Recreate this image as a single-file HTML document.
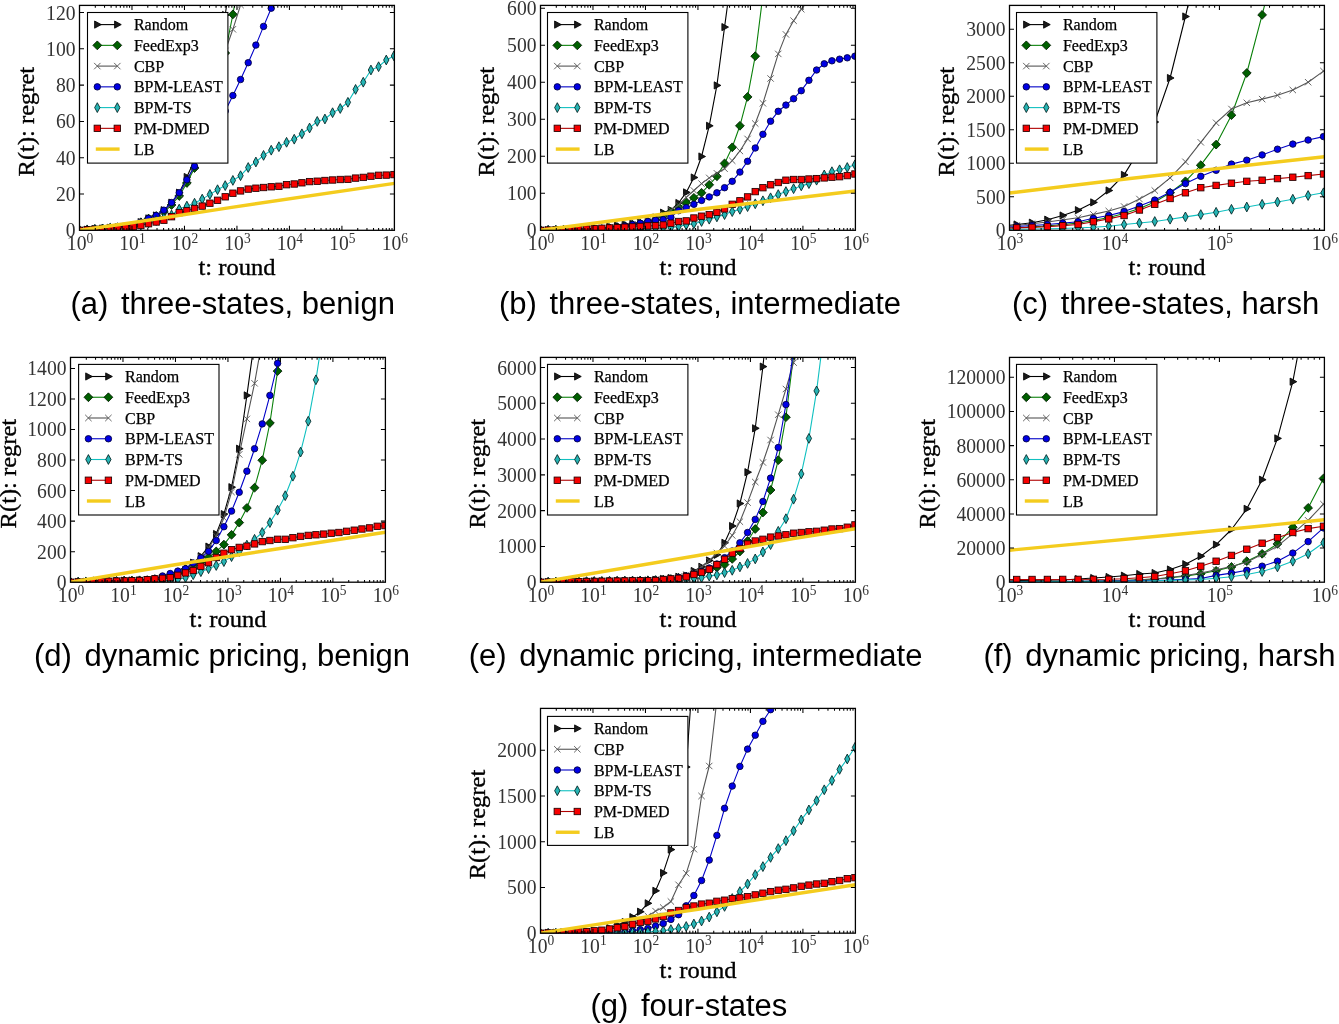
<!DOCTYPE html>
<html><head><meta charset="utf-8"><style>
svg text{-webkit-font-smoothing:antialiased}
html,body{margin:0;padding:0;background:#fff;width:1339px;height:1024px;overflow:hidden;position:relative}
</style></head><body>
<svg width="1339" height="1024" viewBox="0 0 1339 1024" style="position:absolute;left:0;top:0;will-change:transform">
<defs>
<clipPath id="clipa"><rect x="79.5" y="5.4" width="314.9" height="224.9"/></clipPath>
<clipPath id="clipb"><rect x="540.5" y="5.4" width="314.9" height="224.9"/></clipPath>
<clipPath id="clipc"><rect x="1009.5" y="5.4" width="314.9" height="224.9"/></clipPath>
<clipPath id="clipd"><rect x="70.5" y="357.4" width="314.9" height="224.8"/></clipPath>
<clipPath id="clipe"><rect x="540.5" y="357.4" width="314.9" height="224.8"/></clipPath>
<clipPath id="clipf"><rect x="1009.5" y="357.4" width="314.9" height="224.8"/></clipPath>
<clipPath id="clipg"><rect x="540.5" y="708.4" width="314.9" height="224.75"/></clipPath>
</defs>
<g clip-path="url(#clipa)">
<path d="M79.5,230.3L133.18,226L148.52,218.4L156.19,215.5L163.86,210.2L171.53,202.6L179.2,192.7L186.87,177L194.54,160L202.21,135L209.88,100L217.55,60L225.22,15L232.89,-40" fill="none" stroke="#000000" stroke-width="1.1" stroke-linejoin="round"/>
<path d="M76.8,226.7L83.46,230.3L76.8,233.9Z" fill="#1a1a1a" stroke="#000000" stroke-width="0.85"/>
<path d="M84.47,226.09L91.13,229.69L84.47,233.29Z" fill="#1a1a1a" stroke="#000000" stroke-width="0.85"/>
<path d="M92.14,225.47L98.8,229.07L92.14,232.67Z" fill="#1a1a1a" stroke="#000000" stroke-width="0.85"/>
<path d="M99.81,224.86L106.47,228.46L99.81,232.06Z" fill="#1a1a1a" stroke="#000000" stroke-width="0.85"/>
<path d="M107.48,224.24L114.14,227.84L107.48,231.44Z" fill="#1a1a1a" stroke="#000000" stroke-width="0.85"/>
<path d="M115.15,223.63L121.81,227.23L115.15,230.83Z" fill="#1a1a1a" stroke="#000000" stroke-width="0.85"/>
<path d="M122.82,223.01L129.48,226.61L122.82,230.21Z" fill="#1a1a1a" stroke="#000000" stroke-width="0.85"/>
<path d="M130.48,222.4L137.14,226L130.48,229.6Z" fill="#1a1a1a" stroke="#000000" stroke-width="0.85"/>
<path d="M138.15,218.6L144.81,222.2L138.15,225.8Z" fill="#1a1a1a" stroke="#000000" stroke-width="0.85"/>
<path d="M145.82,214.8L152.48,218.4L145.82,222Z" fill="#1a1a1a" stroke="#000000" stroke-width="0.85"/>
<path d="M153.49,211.9L160.15,215.5L153.49,219.1Z" fill="#1a1a1a" stroke="#000000" stroke-width="0.85"/>
<path d="M161.16,206.6L167.82,210.2L161.16,213.8Z" fill="#1a1a1a" stroke="#000000" stroke-width="0.85"/>
<path d="M168.83,199L175.49,202.6L168.83,206.2Z" fill="#1a1a1a" stroke="#000000" stroke-width="0.85"/>
<path d="M176.5,189.1L183.16,192.7L176.5,196.3Z" fill="#1a1a1a" stroke="#000000" stroke-width="0.85"/>
<path d="M184.17,173.4L190.83,177L184.17,180.6Z" fill="#1a1a1a" stroke="#000000" stroke-width="0.85"/>
<path d="M191.84,156.4L198.5,160L191.84,163.6Z" fill="#1a1a1a" stroke="#000000" stroke-width="0.85"/>
<path d="M199.51,131.4L206.17,135L199.51,138.6Z" fill="#1a1a1a" stroke="#000000" stroke-width="0.85"/>
<path d="M207.18,96.4L213.84,100L207.18,103.6Z" fill="#1a1a1a" stroke="#000000" stroke-width="0.85"/>
<path d="M214.85,56.4L221.51,60L214.85,63.6Z" fill="#1a1a1a" stroke="#000000" stroke-width="0.85"/>
<path d="M222.52,11.4L229.18,15L222.52,18.6Z" fill="#1a1a1a" stroke="#000000" stroke-width="0.85"/>
<path d="M79.5,230.3L133.18,226L148.52,218.5L156.19,216L163.86,212L171.53,205L179.2,196L186.87,183L194.54,168L202.21,148L209.88,122L217.55,92L225.22,53L232.89,14.4L240.55,-30" fill="none" stroke="#0a800a" stroke-width="1.1" stroke-linejoin="round"/>
<path d="M79.5,225.9L83.9,230.3L79.5,234.7L75.1,230.3Z" fill="#005f00" stroke="#001a00" stroke-width="0.85"/>
<path d="M87.17,225.29L91.57,229.69L87.17,234.09L82.77,229.69Z" fill="#005f00" stroke="#001a00" stroke-width="0.85"/>
<path d="M94.84,224.67L99.24,229.07L94.84,233.47L90.44,229.07Z" fill="#005f00" stroke="#001a00" stroke-width="0.85"/>
<path d="M102.51,224.06L106.91,228.46L102.51,232.86L98.11,228.46Z" fill="#005f00" stroke="#001a00" stroke-width="0.85"/>
<path d="M110.18,223.44L114.58,227.84L110.18,232.24L105.78,227.84Z" fill="#005f00" stroke="#001a00" stroke-width="0.85"/>
<path d="M117.85,222.83L122.25,227.23L117.85,231.63L113.45,227.23Z" fill="#005f00" stroke="#001a00" stroke-width="0.85"/>
<path d="M125.52,222.21L129.92,226.61L125.52,231.01L121.12,226.61Z" fill="#005f00" stroke="#001a00" stroke-width="0.85"/>
<path d="M133.18,221.6L137.58,226L133.18,230.4L128.78,226Z" fill="#005f00" stroke="#001a00" stroke-width="0.85"/>
<path d="M140.85,217.85L145.25,222.25L140.85,226.65L136.45,222.25Z" fill="#005f00" stroke="#001a00" stroke-width="0.85"/>
<path d="M148.52,214.1L152.92,218.5L148.52,222.9L144.12,218.5Z" fill="#005f00" stroke="#001a00" stroke-width="0.85"/>
<path d="M156.19,211.6L160.59,216L156.19,220.4L151.79,216Z" fill="#005f00" stroke="#001a00" stroke-width="0.85"/>
<path d="M163.86,207.6L168.26,212L163.86,216.4L159.46,212Z" fill="#005f00" stroke="#001a00" stroke-width="0.85"/>
<path d="M171.53,200.6L175.93,205L171.53,209.4L167.13,205Z" fill="#005f00" stroke="#001a00" stroke-width="0.85"/>
<path d="M179.2,191.6L183.6,196L179.2,200.4L174.8,196Z" fill="#005f00" stroke="#001a00" stroke-width="0.85"/>
<path d="M186.87,178.6L191.27,183L186.87,187.4L182.47,183Z" fill="#005f00" stroke="#001a00" stroke-width="0.85"/>
<path d="M194.54,163.6L198.94,168L194.54,172.4L190.14,168Z" fill="#005f00" stroke="#001a00" stroke-width="0.85"/>
<path d="M202.21,143.6L206.61,148L202.21,152.4L197.81,148Z" fill="#005f00" stroke="#001a00" stroke-width="0.85"/>
<path d="M209.88,117.6L214.28,122L209.88,126.4L205.48,122Z" fill="#005f00" stroke="#001a00" stroke-width="0.85"/>
<path d="M217.55,87.6L221.95,92L217.55,96.4L213.15,92Z" fill="#005f00" stroke="#001a00" stroke-width="0.85"/>
<path d="M225.22,48.6L229.62,53L225.22,57.4L220.82,53Z" fill="#005f00" stroke="#001a00" stroke-width="0.85"/>
<path d="M232.89,10L237.29,14.4L232.89,18.8L228.49,14.4Z" fill="#005f00" stroke="#001a00" stroke-width="0.85"/>
<path d="M79.5,230.3L133.18,226L148.52,218.5L156.19,216L163.86,211L171.53,204L179.2,194L186.87,181L194.54,165L202.21,142L209.88,114L217.55,85L225.22,51L232.89,29.3L240.55,5L248.22,-20" fill="none" stroke="#555555" stroke-width="1.1" stroke-linejoin="round"/>
<path d="M76.3,227.1L82.7,233.5M76.3,233.5L82.7,227.1" stroke="#555555" stroke-width="0.9" fill="none"/>
<path d="M83.97,226.49L90.37,232.89M83.97,232.89L90.37,226.49" stroke="#555555" stroke-width="0.9" fill="none"/>
<path d="M91.64,225.87L98.04,232.27M91.64,232.27L98.04,225.87" stroke="#555555" stroke-width="0.9" fill="none"/>
<path d="M99.31,225.26L105.71,231.66M99.31,231.66L105.71,225.26" stroke="#555555" stroke-width="0.9" fill="none"/>
<path d="M106.98,224.64L113.38,231.04M106.98,231.04L113.38,224.64" stroke="#555555" stroke-width="0.9" fill="none"/>
<path d="M114.65,224.03L121.05,230.43M114.65,230.43L121.05,224.03" stroke="#555555" stroke-width="0.9" fill="none"/>
<path d="M122.32,223.41L128.72,229.81M122.32,229.81L128.72,223.41" stroke="#555555" stroke-width="0.9" fill="none"/>
<path d="M129.98,222.8L136.38,229.2M129.98,229.2L136.38,222.8" stroke="#555555" stroke-width="0.9" fill="none"/>
<path d="M137.65,219.05L144.05,225.45M137.65,225.45L144.05,219.05" stroke="#555555" stroke-width="0.9" fill="none"/>
<path d="M145.32,215.3L151.72,221.7M145.32,221.7L151.72,215.3" stroke="#555555" stroke-width="0.9" fill="none"/>
<path d="M152.99,212.8L159.39,219.2M152.99,219.2L159.39,212.8" stroke="#555555" stroke-width="0.9" fill="none"/>
<path d="M160.66,207.8L167.06,214.2M160.66,214.2L167.06,207.8" stroke="#555555" stroke-width="0.9" fill="none"/>
<path d="M168.33,200.8L174.73,207.2M168.33,207.2L174.73,200.8" stroke="#555555" stroke-width="0.9" fill="none"/>
<path d="M176,190.8L182.4,197.2M176,197.2L182.4,190.8" stroke="#555555" stroke-width="0.9" fill="none"/>
<path d="M183.67,177.8L190.07,184.2M183.67,184.2L190.07,177.8" stroke="#555555" stroke-width="0.9" fill="none"/>
<path d="M191.34,161.8L197.74,168.2M191.34,168.2L197.74,161.8" stroke="#555555" stroke-width="0.9" fill="none"/>
<path d="M199.01,138.8L205.41,145.2M199.01,145.2L205.41,138.8" stroke="#555555" stroke-width="0.9" fill="none"/>
<path d="M206.68,110.8L213.08,117.2M206.68,117.2L213.08,110.8" stroke="#555555" stroke-width="0.9" fill="none"/>
<path d="M214.35,81.8L220.75,88.2M214.35,88.2L220.75,81.8" stroke="#555555" stroke-width="0.9" fill="none"/>
<path d="M222.02,47.8L228.42,54.2M222.02,54.2L228.42,47.8" stroke="#555555" stroke-width="0.9" fill="none"/>
<path d="M229.69,26.1L236.09,32.5M229.69,32.5L236.09,26.1" stroke="#555555" stroke-width="0.9" fill="none"/>
<path d="M237.35,1.8L243.75,8.2M237.35,8.2L243.75,1.8" stroke="#555555" stroke-width="0.9" fill="none"/>
<path d="M79.5,230.3L133.18,226L148.52,218.4L156.19,215.5L163.86,210.2L171.53,202.6L179.2,192.7L186.87,179.8L194.54,166.3L202.21,148L209.88,131L217.55,114L225.22,111L232.89,95.5L240.55,79.5L248.22,62.7L255.89,45.1L263.56,26.4L271.23,8.2L277,-12" fill="none" stroke="#0000c8" stroke-width="1.1" stroke-linejoin="round"/>
<circle cx="79.5" cy="230.3" r="3.25" fill="#0000e6" stroke="#00003a" stroke-width="0.85"/>
<circle cx="87.17" cy="229.69" r="3.25" fill="#0000e6" stroke="#00003a" stroke-width="0.85"/>
<circle cx="94.84" cy="229.07" r="3.25" fill="#0000e6" stroke="#00003a" stroke-width="0.85"/>
<circle cx="102.51" cy="228.46" r="3.25" fill="#0000e6" stroke="#00003a" stroke-width="0.85"/>
<circle cx="110.18" cy="227.84" r="3.25" fill="#0000e6" stroke="#00003a" stroke-width="0.85"/>
<circle cx="117.85" cy="227.23" r="3.25" fill="#0000e6" stroke="#00003a" stroke-width="0.85"/>
<circle cx="125.52" cy="226.61" r="3.25" fill="#0000e6" stroke="#00003a" stroke-width="0.85"/>
<circle cx="133.18" cy="226" r="3.25" fill="#0000e6" stroke="#00003a" stroke-width="0.85"/>
<circle cx="140.85" cy="222.2" r="3.25" fill="#0000e6" stroke="#00003a" stroke-width="0.85"/>
<circle cx="148.52" cy="218.4" r="3.25" fill="#0000e6" stroke="#00003a" stroke-width="0.85"/>
<circle cx="156.19" cy="215.5" r="3.25" fill="#0000e6" stroke="#00003a" stroke-width="0.85"/>
<circle cx="163.86" cy="210.2" r="3.25" fill="#0000e6" stroke="#00003a" stroke-width="0.85"/>
<circle cx="171.53" cy="202.6" r="3.25" fill="#0000e6" stroke="#00003a" stroke-width="0.85"/>
<circle cx="179.2" cy="192.7" r="3.25" fill="#0000e6" stroke="#00003a" stroke-width="0.85"/>
<circle cx="186.87" cy="179.8" r="3.25" fill="#0000e6" stroke="#00003a" stroke-width="0.85"/>
<circle cx="194.54" cy="166.3" r="3.25" fill="#0000e6" stroke="#00003a" stroke-width="0.85"/>
<circle cx="202.21" cy="148" r="3.25" fill="#0000e6" stroke="#00003a" stroke-width="0.85"/>
<circle cx="209.88" cy="131" r="3.25" fill="#0000e6" stroke="#00003a" stroke-width="0.85"/>
<circle cx="217.55" cy="114" r="3.25" fill="#0000e6" stroke="#00003a" stroke-width="0.85"/>
<circle cx="225.22" cy="111" r="3.25" fill="#0000e6" stroke="#00003a" stroke-width="0.85"/>
<circle cx="232.89" cy="95.5" r="3.25" fill="#0000e6" stroke="#00003a" stroke-width="0.85"/>
<circle cx="240.55" cy="79.5" r="3.25" fill="#0000e6" stroke="#00003a" stroke-width="0.85"/>
<circle cx="248.22" cy="62.7" r="3.25" fill="#0000e6" stroke="#00003a" stroke-width="0.85"/>
<circle cx="255.89" cy="45.1" r="3.25" fill="#0000e6" stroke="#00003a" stroke-width="0.85"/>
<circle cx="263.56" cy="26.4" r="3.25" fill="#0000e6" stroke="#00003a" stroke-width="0.85"/>
<circle cx="271.23" cy="8.2" r="3.25" fill="#0000e6" stroke="#00003a" stroke-width="0.85"/>
<path d="M79.5,230.3L133.18,227L148.52,223L163.86,218L171.53,215L179.2,209.1L186.87,206.1L194.54,203.2L202.21,199.1L209.88,194.4L217.55,189.7L225.22,185.6L232.89,180.4L240.55,175.7L248.22,167.5L255.89,162L263.56,155.4L271.23,150.2L278.9,146.7L286.57,142.3L294.24,139.2L301.91,133.8L309.58,128L317.25,121.4L324.92,119L332.59,112.7L340.26,108.5L347.92,102.3L355.59,89.4L363.26,82.2L370.93,70L378.6,66.7L386.27,60L393.94,55.9" fill="none" stroke="#10c0c0" stroke-width="1.1" stroke-linejoin="round"/>
<path d="M79.5,225.4L82.15,230.3L79.5,235.2L76.85,230.3Z" fill="#26b4b4" stroke="#002020" stroke-width="0.85"/>
<path d="M87.17,224.93L89.82,229.83L87.17,234.73L84.52,229.83Z" fill="#26b4b4" stroke="#002020" stroke-width="0.85"/>
<path d="M94.84,224.46L97.49,229.36L94.84,234.26L92.19,229.36Z" fill="#26b4b4" stroke="#002020" stroke-width="0.85"/>
<path d="M102.51,223.99L105.16,228.89L102.51,233.79L99.86,228.89Z" fill="#26b4b4" stroke="#002020" stroke-width="0.85"/>
<path d="M110.18,223.51L112.83,228.41L110.18,233.31L107.53,228.41Z" fill="#26b4b4" stroke="#002020" stroke-width="0.85"/>
<path d="M117.85,223.04L120.5,227.94L117.85,232.84L115.2,227.94Z" fill="#26b4b4" stroke="#002020" stroke-width="0.85"/>
<path d="M125.52,222.57L128.17,227.47L125.52,232.37L122.87,227.47Z" fill="#26b4b4" stroke="#002020" stroke-width="0.85"/>
<path d="M133.18,222.1L135.83,227L133.18,231.9L130.53,227Z" fill="#26b4b4" stroke="#002020" stroke-width="0.85"/>
<path d="M140.85,220.1L143.5,225L140.85,229.9L138.2,225Z" fill="#26b4b4" stroke="#002020" stroke-width="0.85"/>
<path d="M148.52,218.1L151.17,223L148.52,227.9L145.87,223Z" fill="#26b4b4" stroke="#002020" stroke-width="0.85"/>
<path d="M156.19,215.6L158.84,220.5L156.19,225.4L153.54,220.5Z" fill="#26b4b4" stroke="#002020" stroke-width="0.85"/>
<path d="M163.86,213.1L166.51,218L163.86,222.9L161.21,218Z" fill="#26b4b4" stroke="#002020" stroke-width="0.85"/>
<path d="M171.53,210.1L174.18,215L171.53,219.9L168.88,215Z" fill="#26b4b4" stroke="#002020" stroke-width="0.85"/>
<path d="M179.2,204.2L181.85,209.1L179.2,214L176.55,209.1Z" fill="#26b4b4" stroke="#002020" stroke-width="0.85"/>
<path d="M186.87,201.2L189.52,206.1L186.87,211L184.22,206.1Z" fill="#26b4b4" stroke="#002020" stroke-width="0.85"/>
<path d="M194.54,198.3L197.19,203.2L194.54,208.1L191.89,203.2Z" fill="#26b4b4" stroke="#002020" stroke-width="0.85"/>
<path d="M202.21,194.2L204.86,199.1L202.21,204L199.56,199.1Z" fill="#26b4b4" stroke="#002020" stroke-width="0.85"/>
<path d="M209.88,189.5L212.53,194.4L209.88,199.3L207.23,194.4Z" fill="#26b4b4" stroke="#002020" stroke-width="0.85"/>
<path d="M217.55,184.8L220.2,189.7L217.55,194.6L214.9,189.7Z" fill="#26b4b4" stroke="#002020" stroke-width="0.85"/>
<path d="M225.22,180.7L227.87,185.6L225.22,190.5L222.57,185.6Z" fill="#26b4b4" stroke="#002020" stroke-width="0.85"/>
<path d="M232.89,175.5L235.54,180.4L232.89,185.3L230.24,180.4Z" fill="#26b4b4" stroke="#002020" stroke-width="0.85"/>
<path d="M240.55,170.8L243.2,175.7L240.55,180.6L237.9,175.7Z" fill="#26b4b4" stroke="#002020" stroke-width="0.85"/>
<path d="M248.22,162.6L250.87,167.5L248.22,172.4L245.57,167.5Z" fill="#26b4b4" stroke="#002020" stroke-width="0.85"/>
<path d="M255.89,157.1L258.54,162L255.89,166.9L253.24,162Z" fill="#26b4b4" stroke="#002020" stroke-width="0.85"/>
<path d="M263.56,150.5L266.21,155.4L263.56,160.3L260.91,155.4Z" fill="#26b4b4" stroke="#002020" stroke-width="0.85"/>
<path d="M271.23,145.3L273.88,150.2L271.23,155.1L268.58,150.2Z" fill="#26b4b4" stroke="#002020" stroke-width="0.85"/>
<path d="M278.9,141.8L281.55,146.7L278.9,151.6L276.25,146.7Z" fill="#26b4b4" stroke="#002020" stroke-width="0.85"/>
<path d="M286.57,137.4L289.22,142.3L286.57,147.2L283.92,142.3Z" fill="#26b4b4" stroke="#002020" stroke-width="0.85"/>
<path d="M294.24,134.3L296.89,139.2L294.24,144.1L291.59,139.2Z" fill="#26b4b4" stroke="#002020" stroke-width="0.85"/>
<path d="M301.91,128.9L304.56,133.8L301.91,138.7L299.26,133.8Z" fill="#26b4b4" stroke="#002020" stroke-width="0.85"/>
<path d="M309.58,123.1L312.23,128L309.58,132.9L306.93,128Z" fill="#26b4b4" stroke="#002020" stroke-width="0.85"/>
<path d="M317.25,116.5L319.9,121.4L317.25,126.3L314.6,121.4Z" fill="#26b4b4" stroke="#002020" stroke-width="0.85"/>
<path d="M324.92,114.1L327.57,119L324.92,123.9L322.27,119Z" fill="#26b4b4" stroke="#002020" stroke-width="0.85"/>
<path d="M332.59,107.8L335.24,112.7L332.59,117.6L329.94,112.7Z" fill="#26b4b4" stroke="#002020" stroke-width="0.85"/>
<path d="M340.26,103.6L342.91,108.5L340.26,113.4L337.61,108.5Z" fill="#26b4b4" stroke="#002020" stroke-width="0.85"/>
<path d="M347.92,97.4L350.57,102.3L347.92,107.2L345.27,102.3Z" fill="#26b4b4" stroke="#002020" stroke-width="0.85"/>
<path d="M355.59,84.5L358.24,89.4L355.59,94.3L352.94,89.4Z" fill="#26b4b4" stroke="#002020" stroke-width="0.85"/>
<path d="M363.26,77.3L365.91,82.2L363.26,87.1L360.61,82.2Z" fill="#26b4b4" stroke="#002020" stroke-width="0.85"/>
<path d="M370.93,65.1L373.58,70L370.93,74.9L368.28,70Z" fill="#26b4b4" stroke="#002020" stroke-width="0.85"/>
<path d="M378.6,61.8L381.25,66.7L378.6,71.6L375.95,66.7Z" fill="#26b4b4" stroke="#002020" stroke-width="0.85"/>
<path d="M386.27,55.1L388.92,60L386.27,64.9L383.62,60Z" fill="#26b4b4" stroke="#002020" stroke-width="0.85"/>
<path d="M393.94,51L396.59,55.9L393.94,60.8L391.29,55.9Z" fill="#26b4b4" stroke="#002020" stroke-width="0.85"/>
<path d="M79.5,230.3L135.3,226.6L140.85,225.5L148.52,223.7L156.19,222L163.86,220.2L171.53,216.7L179.2,212.6L186.87,210.8L194.54,208.5L202.21,206.1L209.88,203.2L217.55,200.3L225.22,196.8L232.89,193.2L240.55,190.9L248.22,189.1L255.89,188.2L263.56,187.5L271.23,186.8L278.9,186.3L286.57,184.7L294.24,184L301.91,182.8L309.58,181.6L317.25,181.2L324.92,180.5L332.59,180L340.26,179.5L347.92,179.3L355.59,178.1L363.26,177.4L370.93,176.2L378.6,175.3L386.27,175.1L393.94,174.6" fill="none" stroke="#b00000" stroke-width="1.1" stroke-linejoin="round"/>
<rect x="76.3" y="227.1" width="6.4" height="6.4" fill="#f80000" stroke="#200000" stroke-width="0.85"/>
<rect x="83.97" y="226.59" width="6.4" height="6.4" fill="#f80000" stroke="#200000" stroke-width="0.85"/>
<rect x="91.64" y="226.08" width="6.4" height="6.4" fill="#f80000" stroke="#200000" stroke-width="0.85"/>
<rect x="99.31" y="225.57" width="6.4" height="6.4" fill="#f80000" stroke="#200000" stroke-width="0.85"/>
<rect x="106.98" y="225.07" width="6.4" height="6.4" fill="#f80000" stroke="#200000" stroke-width="0.85"/>
<rect x="114.65" y="224.56" width="6.4" height="6.4" fill="#f80000" stroke="#200000" stroke-width="0.85"/>
<rect x="122.32" y="224.05" width="6.4" height="6.4" fill="#f80000" stroke="#200000" stroke-width="0.85"/>
<rect x="129.98" y="223.54" width="6.4" height="6.4" fill="#f80000" stroke="#200000" stroke-width="0.85"/>
<rect x="137.65" y="222.3" width="6.4" height="6.4" fill="#f80000" stroke="#200000" stroke-width="0.85"/>
<rect x="145.32" y="220.5" width="6.4" height="6.4" fill="#f80000" stroke="#200000" stroke-width="0.85"/>
<rect x="152.99" y="218.8" width="6.4" height="6.4" fill="#f80000" stroke="#200000" stroke-width="0.85"/>
<rect x="160.66" y="217" width="6.4" height="6.4" fill="#f80000" stroke="#200000" stroke-width="0.85"/>
<rect x="168.33" y="213.5" width="6.4" height="6.4" fill="#f80000" stroke="#200000" stroke-width="0.85"/>
<rect x="176" y="209.4" width="6.4" height="6.4" fill="#f80000" stroke="#200000" stroke-width="0.85"/>
<rect x="183.67" y="207.6" width="6.4" height="6.4" fill="#f80000" stroke="#200000" stroke-width="0.85"/>
<rect x="191.34" y="205.3" width="6.4" height="6.4" fill="#f80000" stroke="#200000" stroke-width="0.85"/>
<rect x="199.01" y="202.9" width="6.4" height="6.4" fill="#f80000" stroke="#200000" stroke-width="0.85"/>
<rect x="206.68" y="200" width="6.4" height="6.4" fill="#f80000" stroke="#200000" stroke-width="0.85"/>
<rect x="214.35" y="197.1" width="6.4" height="6.4" fill="#f80000" stroke="#200000" stroke-width="0.85"/>
<rect x="222.02" y="193.6" width="6.4" height="6.4" fill="#f80000" stroke="#200000" stroke-width="0.85"/>
<rect x="229.69" y="190" width="6.4" height="6.4" fill="#f80000" stroke="#200000" stroke-width="0.85"/>
<rect x="237.35" y="187.7" width="6.4" height="6.4" fill="#f80000" stroke="#200000" stroke-width="0.85"/>
<rect x="245.02" y="185.9" width="6.4" height="6.4" fill="#f80000" stroke="#200000" stroke-width="0.85"/>
<rect x="252.69" y="185" width="6.4" height="6.4" fill="#f80000" stroke="#200000" stroke-width="0.85"/>
<rect x="260.36" y="184.3" width="6.4" height="6.4" fill="#f80000" stroke="#200000" stroke-width="0.85"/>
<rect x="268.03" y="183.6" width="6.4" height="6.4" fill="#f80000" stroke="#200000" stroke-width="0.85"/>
<rect x="275.7" y="183.1" width="6.4" height="6.4" fill="#f80000" stroke="#200000" stroke-width="0.85"/>
<rect x="283.37" y="181.5" width="6.4" height="6.4" fill="#f80000" stroke="#200000" stroke-width="0.85"/>
<rect x="291.04" y="180.8" width="6.4" height="6.4" fill="#f80000" stroke="#200000" stroke-width="0.85"/>
<rect x="298.71" y="179.6" width="6.4" height="6.4" fill="#f80000" stroke="#200000" stroke-width="0.85"/>
<rect x="306.38" y="178.4" width="6.4" height="6.4" fill="#f80000" stroke="#200000" stroke-width="0.85"/>
<rect x="314.05" y="178" width="6.4" height="6.4" fill="#f80000" stroke="#200000" stroke-width="0.85"/>
<rect x="321.72" y="177.3" width="6.4" height="6.4" fill="#f80000" stroke="#200000" stroke-width="0.85"/>
<rect x="329.39" y="176.8" width="6.4" height="6.4" fill="#f80000" stroke="#200000" stroke-width="0.85"/>
<rect x="337.06" y="176.3" width="6.4" height="6.4" fill="#f80000" stroke="#200000" stroke-width="0.85"/>
<rect x="344.72" y="176.1" width="6.4" height="6.4" fill="#f80000" stroke="#200000" stroke-width="0.85"/>
<rect x="352.39" y="174.9" width="6.4" height="6.4" fill="#f80000" stroke="#200000" stroke-width="0.85"/>
<rect x="360.06" y="174.2" width="6.4" height="6.4" fill="#f80000" stroke="#200000" stroke-width="0.85"/>
<rect x="367.73" y="173" width="6.4" height="6.4" fill="#f80000" stroke="#200000" stroke-width="0.85"/>
<rect x="375.4" y="172.1" width="6.4" height="6.4" fill="#f80000" stroke="#200000" stroke-width="0.85"/>
<rect x="383.07" y="171.9" width="6.4" height="6.4" fill="#f80000" stroke="#200000" stroke-width="0.85"/>
<rect x="390.74" y="171.4" width="6.4" height="6.4" fill="#f80000" stroke="#200000" stroke-width="0.85"/>
<path d="M79.5,230.3L130,223L230,207.6L394.4,183.4" fill="none" stroke="#f4cc1e" stroke-width="3.4" stroke-linejoin="round"/>
</g>
<rect x="79.5" y="5.4" width="314.9" height="224.9" fill="none" stroke="#000" stroke-width="1.3"/>
<path d="M95.3,230.3v-2.3M95.3,5.4v2.3M104.54,230.3v-2.3M104.54,5.4v2.3M111.1,230.3v-2.3M111.1,5.4v2.3M116.18,230.3v-2.3M116.18,5.4v2.3M120.34,230.3v-2.3M120.34,5.4v2.3M123.85,230.3v-2.3M123.85,5.4v2.3M126.9,230.3v-2.3M126.9,5.4v2.3M129.58,230.3v-2.3M129.58,5.4v2.3M131.98,230.3v-4.5M131.98,5.4v4.5M147.78,230.3v-2.3M147.78,5.4v2.3M157.02,230.3v-2.3M157.02,5.4v2.3M163.58,230.3v-2.3M163.58,5.4v2.3M168.67,230.3v-2.3M168.67,5.4v2.3M172.82,230.3v-2.3M172.82,5.4v2.3M176.34,230.3v-2.3M176.34,5.4v2.3M179.38,230.3v-2.3M179.38,5.4v2.3M182.07,230.3v-2.3M182.07,5.4v2.3M184.47,230.3v-4.5M184.47,5.4v4.5M200.27,230.3v-2.3M200.27,5.4v2.3M209.51,230.3v-2.3M209.51,5.4v2.3M216.06,230.3v-2.3M216.06,5.4v2.3M221.15,230.3v-2.3M221.15,5.4v2.3M225.31,230.3v-2.3M225.31,5.4v2.3M228.82,230.3v-2.3M228.82,5.4v2.3M231.86,230.3v-2.3M231.86,5.4v2.3M234.55,230.3v-2.3M234.55,5.4v2.3M236.95,230.3v-4.5M236.95,5.4v4.5M252.75,230.3v-2.3M252.75,5.4v2.3M261.99,230.3v-2.3M261.99,5.4v2.3M268.55,230.3v-2.3M268.55,5.4v2.3M273.63,230.3v-2.3M273.63,5.4v2.3M277.79,230.3v-2.3M277.79,5.4v2.3M281.3,230.3v-2.3M281.3,5.4v2.3M284.35,230.3v-2.3M284.35,5.4v2.3M287.03,230.3v-2.3M287.03,5.4v2.3M289.43,230.3v-4.5M289.43,5.4v4.5M305.23,230.3v-2.3M305.23,5.4v2.3M314.47,230.3v-2.3M314.47,5.4v2.3M321.03,230.3v-2.3M321.03,5.4v2.3M326.12,230.3v-2.3M326.12,5.4v2.3M330.27,230.3v-2.3M330.27,5.4v2.3M333.79,230.3v-2.3M333.79,5.4v2.3M336.83,230.3v-2.3M336.83,5.4v2.3M339.52,230.3v-2.3M339.52,5.4v2.3M341.92,230.3v-4.5M341.92,5.4v4.5M357.72,230.3v-2.3M357.72,5.4v2.3M366.96,230.3v-2.3M366.96,5.4v2.3M373.51,230.3v-2.3M373.51,5.4v2.3M378.6,230.3v-2.3M378.6,5.4v2.3M382.76,230.3v-2.3M382.76,5.4v2.3M386.27,230.3v-2.3M386.27,5.4v2.3M389.31,230.3v-2.3M389.31,5.4v2.3M392,230.3v-2.3M392,5.4v2.3M79.5,194h4.5M394.4,194h-4.5M79.5,157.7h4.5M394.4,157.7h-4.5M79.5,121.4h4.5M394.4,121.4h-4.5M79.5,85.1h4.5M394.4,85.1h-4.5M79.5,48.8h4.5M394.4,48.8h-4.5M79.5,12.5h4.5M394.4,12.5h-4.5" stroke="#000" stroke-width="1.05" fill="none"/>
<text transform="translate(80,249.9) scale(0.9,1)" font-family="'Liberation Serif', serif" font-size="21.8" fill="#333" text-anchor="middle">10<tspan dy="-7.3" font-size="15">0</tspan></text>
<text transform="translate(132.48,249.9) scale(0.9,1)" font-family="'Liberation Serif', serif" font-size="21.8" fill="#333" text-anchor="middle">10<tspan dy="-7.3" font-size="15">1</tspan></text>
<text transform="translate(184.97,249.9) scale(0.9,1)" font-family="'Liberation Serif', serif" font-size="21.8" fill="#333" text-anchor="middle">10<tspan dy="-7.3" font-size="15">2</tspan></text>
<text transform="translate(237.45,249.9) scale(0.9,1)" font-family="'Liberation Serif', serif" font-size="21.8" fill="#333" text-anchor="middle">10<tspan dy="-7.3" font-size="15">3</tspan></text>
<text transform="translate(289.93,249.9) scale(0.9,1)" font-family="'Liberation Serif', serif" font-size="21.8" fill="#333" text-anchor="middle">10<tspan dy="-7.3" font-size="15">4</tspan></text>
<text transform="translate(342.42,249.9) scale(0.9,1)" font-family="'Liberation Serif', serif" font-size="21.8" fill="#333" text-anchor="middle">10<tspan dy="-7.3" font-size="15">5</tspan></text>
<text transform="translate(394.9,249.9) scale(0.9,1)" font-family="'Liberation Serif', serif" font-size="21.8" fill="#333" text-anchor="middle">10<tspan dy="-7.3" font-size="15">6</tspan></text>
<text transform="translate(75.5,237.3) scale(0.9,1)" font-family="'Liberation Serif', serif" font-size="21.8" fill="#333" text-anchor="end">0</text>
<text transform="translate(75.5,201) scale(0.9,1)" font-family="'Liberation Serif', serif" font-size="21.8" fill="#333" text-anchor="end">20</text>
<text transform="translate(75.5,164.7) scale(0.9,1)" font-family="'Liberation Serif', serif" font-size="21.8" fill="#333" text-anchor="end">40</text>
<text transform="translate(75.5,128.4) scale(0.9,1)" font-family="'Liberation Serif', serif" font-size="21.8" fill="#333" text-anchor="end">60</text>
<text transform="translate(75.5,92.1) scale(0.9,1)" font-family="'Liberation Serif', serif" font-size="21.8" fill="#333" text-anchor="end">80</text>
<text transform="translate(75.5,55.8) scale(0.9,1)" font-family="'Liberation Serif', serif" font-size="21.8" fill="#333" text-anchor="end">100</text>
<text transform="translate(75.5,19.5) scale(0.9,1)" font-family="'Liberation Serif', serif" font-size="21.8" fill="#333" text-anchor="end">120</text>
<text transform="translate(236.95,274.7) scale(1.09,1)" font-family="'Liberation Serif', serif" font-size="22.5" fill="#000" stroke="#000" stroke-width="0.35" text-anchor="middle">t: round</text>
<text transform="translate(34.1,121.65) rotate(-90) scale(1.09,1)" font-family="'Liberation Serif', serif" font-size="22.5" fill="#000" stroke="#000" stroke-width="0.35" text-anchor="middle">R(t): regret</text>
<text x="70.4" y="313.6" font-family="'Liberation Sans', sans-serif" font-size="31" fill="#000">(a) <tspan dx="4">three-states, benign</tspan></text>
<rect x="87.5" y="12.5" width="140.4" height="150.6" fill="#fff" stroke="#000" stroke-width="1.1"/>
<path d="M97.3,24.6h20" stroke="#000000" stroke-width="1.1"/>
<path d="M94.6,21L101.26,24.6L94.6,28.2Z" fill="#1a1a1a" stroke="#000000" stroke-width="0.85"/>
<path d="M114.6,21L121.26,24.6L114.6,28.2Z" fill="#1a1a1a" stroke="#000000" stroke-width="0.85"/>
<text x="133.9" y="30.1" font-family="'Liberation Serif', serif" font-size="16" fill="#000" stroke="#000" stroke-width="0.25">Random</text>
<path d="M97.3,45.35h20" stroke="#0a800a" stroke-width="1.1"/>
<path d="M97.3,40.95L101.7,45.35L97.3,49.75L92.9,45.35Z" fill="#005f00" stroke="#001a00" stroke-width="0.85"/>
<path d="M117.3,40.95L121.7,45.35L117.3,49.75L112.9,45.35Z" fill="#005f00" stroke="#001a00" stroke-width="0.85"/>
<text x="133.9" y="50.85" font-family="'Liberation Serif', serif" font-size="16" fill="#000" stroke="#000" stroke-width="0.25">FeedExp3</text>
<path d="M97.3,66.1h20" stroke="#555555" stroke-width="1.1"/>
<path d="M94.1,62.9L100.5,69.3M94.1,69.3L100.5,62.9" stroke="#555555" stroke-width="0.9" fill="none"/>
<path d="M114.1,62.9L120.5,69.3M114.1,69.3L120.5,62.9" stroke="#555555" stroke-width="0.9" fill="none"/>
<text x="133.9" y="71.6" font-family="'Liberation Serif', serif" font-size="16" fill="#000" stroke="#000" stroke-width="0.25">CBP</text>
<path d="M97.3,86.85h20" stroke="#0000c8" stroke-width="1.1"/>
<circle cx="97.3" cy="86.85" r="3.25" fill="#0000e6" stroke="#00003a" stroke-width="0.85"/>
<circle cx="117.3" cy="86.85" r="3.25" fill="#0000e6" stroke="#00003a" stroke-width="0.85"/>
<text x="133.9" y="92.35" font-family="'Liberation Serif', serif" font-size="16" fill="#000" stroke="#000" stroke-width="0.25">BPM-LEAST</text>
<path d="M97.3,107.6h20" stroke="#10c0c0" stroke-width="1.1"/>
<path d="M97.3,102.7L99.95,107.6L97.3,112.5L94.65,107.6Z" fill="#26b4b4" stroke="#002020" stroke-width="0.85"/>
<path d="M117.3,102.7L119.95,107.6L117.3,112.5L114.65,107.6Z" fill="#26b4b4" stroke="#002020" stroke-width="0.85"/>
<text x="133.9" y="113.1" font-family="'Liberation Serif', serif" font-size="16" fill="#000" stroke="#000" stroke-width="0.25">BPM-TS</text>
<path d="M97.3,128.35h20" stroke="#b00000" stroke-width="1.1"/>
<rect x="94.1" y="125.15" width="6.4" height="6.4" fill="#f80000" stroke="#200000" stroke-width="0.85"/>
<rect x="114.1" y="125.15" width="6.4" height="6.4" fill="#f80000" stroke="#200000" stroke-width="0.85"/>
<text x="133.9" y="133.85" font-family="'Liberation Serif', serif" font-size="16" fill="#000" stroke="#000" stroke-width="0.25">PM-DMED</text>
<path d="M95.8,149.1h23.8" stroke="#f4cc1e" stroke-width="3.4"/>
<text x="133.9" y="154.6" font-family="'Liberation Serif', serif" font-size="16" fill="#000" stroke="#000" stroke-width="0.25">LB</text>
<g clip-path="url(#clipb)">
<path d="M540.5,230.3L601.85,229.3L609.52,226.5L624.86,224.5L632.53,223.5L640.2,222.7L647.87,220.9L655.54,217.5L660.7,213.5L670.88,210.1L678.55,203L686.22,192.4L693.89,177.5L701.55,156.5L709.22,125.8L716.89,85.4L724.56,27.1L732.23,-30" fill="none" stroke="#000000" stroke-width="1.1" stroke-linejoin="round"/>
<path d="M537.8,226.7L544.46,230.3L537.8,233.9Z" fill="#1a1a1a" stroke="#000000" stroke-width="0.85"/>
<path d="M545.47,226.58L552.13,230.18L545.47,233.78Z" fill="#1a1a1a" stroke="#000000" stroke-width="0.85"/>
<path d="M553.14,226.45L559.8,230.05L553.14,233.65Z" fill="#1a1a1a" stroke="#000000" stroke-width="0.85"/>
<path d="M560.81,226.33L567.47,229.93L560.81,233.53Z" fill="#1a1a1a" stroke="#000000" stroke-width="0.85"/>
<path d="M568.48,226.2L575.14,229.8L568.48,233.4Z" fill="#1a1a1a" stroke="#000000" stroke-width="0.85"/>
<path d="M576.15,226.08L582.81,229.68L576.15,233.28Z" fill="#1a1a1a" stroke="#000000" stroke-width="0.85"/>
<path d="M583.82,225.95L590.48,229.55L583.82,233.15Z" fill="#1a1a1a" stroke="#000000" stroke-width="0.85"/>
<path d="M591.48,225.83L598.14,229.43L591.48,233.03Z" fill="#1a1a1a" stroke="#000000" stroke-width="0.85"/>
<path d="M599.15,225.7L605.81,229.3L599.15,232.9Z" fill="#1a1a1a" stroke="#000000" stroke-width="0.85"/>
<path d="M606.82,222.9L613.48,226.5L606.82,230.1Z" fill="#1a1a1a" stroke="#000000" stroke-width="0.85"/>
<path d="M614.49,221.9L621.15,225.5L614.49,229.1Z" fill="#1a1a1a" stroke="#000000" stroke-width="0.85"/>
<path d="M622.16,220.9L628.82,224.5L622.16,228.1Z" fill="#1a1a1a" stroke="#000000" stroke-width="0.85"/>
<path d="M629.83,219.9L636.49,223.5L629.83,227.1Z" fill="#1a1a1a" stroke="#000000" stroke-width="0.85"/>
<path d="M637.5,219.1L644.16,222.7L637.5,226.3Z" fill="#1a1a1a" stroke="#000000" stroke-width="0.85"/>
<path d="M645.17,217.3L651.83,220.9L645.17,224.5Z" fill="#1a1a1a" stroke="#000000" stroke-width="0.85"/>
<path d="M652.84,213.9L659.5,217.5L652.84,221.1Z" fill="#1a1a1a" stroke="#000000" stroke-width="0.85"/>
<path d="M660.51,209.06L667.17,212.66L660.51,216.26Z" fill="#1a1a1a" stroke="#000000" stroke-width="0.85"/>
<path d="M668.18,206.5L674.84,210.1L668.18,213.7Z" fill="#1a1a1a" stroke="#000000" stroke-width="0.85"/>
<path d="M675.85,199.4L682.51,203L675.85,206.6Z" fill="#1a1a1a" stroke="#000000" stroke-width="0.85"/>
<path d="M683.52,188.8L690.18,192.4L683.52,196Z" fill="#1a1a1a" stroke="#000000" stroke-width="0.85"/>
<path d="M691.19,173.9L697.85,177.5L691.19,181.1Z" fill="#1a1a1a" stroke="#000000" stroke-width="0.85"/>
<path d="M698.85,152.9L705.51,156.5L698.85,160.1Z" fill="#1a1a1a" stroke="#000000" stroke-width="0.85"/>
<path d="M706.52,122.2L713.18,125.8L706.52,129.4Z" fill="#1a1a1a" stroke="#000000" stroke-width="0.85"/>
<path d="M714.19,81.8L720.85,85.4L714.19,89Z" fill="#1a1a1a" stroke="#000000" stroke-width="0.85"/>
<path d="M721.86,23.5L728.52,27.1L721.86,30.7Z" fill="#1a1a1a" stroke="#000000" stroke-width="0.85"/>
<path d="M540.5,230.3L601.85,229.3L624.86,226L640.2,223.5L655.54,220L670.88,212L678.55,207.3L686.22,202.6L693.89,197.8L701.55,192.8L709.22,184.8L716.89,176.3L724.56,163.4L732.23,147.3L739.9,125.8L747.57,96.9L755.24,56.2L762.91,-5L770.58,-60" fill="none" stroke="#0a800a" stroke-width="1.1" stroke-linejoin="round"/>
<path d="M540.5,225.9L544.9,230.3L540.5,234.7L536.1,230.3Z" fill="#005f00" stroke="#001a00" stroke-width="0.85"/>
<path d="M548.17,225.78L552.57,230.18L548.17,234.58L543.77,230.18Z" fill="#005f00" stroke="#001a00" stroke-width="0.85"/>
<path d="M555.84,225.65L560.24,230.05L555.84,234.45L551.44,230.05Z" fill="#005f00" stroke="#001a00" stroke-width="0.85"/>
<path d="M563.51,225.53L567.91,229.93L563.51,234.33L559.11,229.93Z" fill="#005f00" stroke="#001a00" stroke-width="0.85"/>
<path d="M571.18,225.4L575.58,229.8L571.18,234.2L566.78,229.8Z" fill="#005f00" stroke="#001a00" stroke-width="0.85"/>
<path d="M578.85,225.28L583.25,229.68L578.85,234.08L574.45,229.68Z" fill="#005f00" stroke="#001a00" stroke-width="0.85"/>
<path d="M586.52,225.15L590.92,229.55L586.52,233.95L582.12,229.55Z" fill="#005f00" stroke="#001a00" stroke-width="0.85"/>
<path d="M594.18,225.03L598.58,229.43L594.18,233.83L589.78,229.43Z" fill="#005f00" stroke="#001a00" stroke-width="0.85"/>
<path d="M601.85,224.9L606.25,229.3L601.85,233.7L597.45,229.3Z" fill="#005f00" stroke="#001a00" stroke-width="0.85"/>
<path d="M609.52,223.8L613.92,228.2L609.52,232.6L605.12,228.2Z" fill="#005f00" stroke="#001a00" stroke-width="0.85"/>
<path d="M617.19,222.7L621.59,227.1L617.19,231.5L612.79,227.1Z" fill="#005f00" stroke="#001a00" stroke-width="0.85"/>
<path d="M624.86,221.6L629.26,226L624.86,230.4L620.46,226Z" fill="#005f00" stroke="#001a00" stroke-width="0.85"/>
<path d="M632.53,220.35L636.93,224.75L632.53,229.15L628.13,224.75Z" fill="#005f00" stroke="#001a00" stroke-width="0.85"/>
<path d="M640.2,219.1L644.6,223.5L640.2,227.9L635.8,223.5Z" fill="#005f00" stroke="#001a00" stroke-width="0.85"/>
<path d="M647.87,217.35L652.27,221.75L647.87,226.15L643.47,221.75Z" fill="#005f00" stroke="#001a00" stroke-width="0.85"/>
<path d="M655.54,215.6L659.94,220L655.54,224.4L651.14,220Z" fill="#005f00" stroke="#001a00" stroke-width="0.85"/>
<path d="M663.21,211.6L667.61,216L663.21,220.4L658.81,216Z" fill="#005f00" stroke="#001a00" stroke-width="0.85"/>
<path d="M670.88,207.6L675.28,212L670.88,216.4L666.48,212Z" fill="#005f00" stroke="#001a00" stroke-width="0.85"/>
<path d="M678.55,202.9L682.95,207.3L678.55,211.7L674.15,207.3Z" fill="#005f00" stroke="#001a00" stroke-width="0.85"/>
<path d="M686.22,198.2L690.62,202.6L686.22,207L681.82,202.6Z" fill="#005f00" stroke="#001a00" stroke-width="0.85"/>
<path d="M693.89,193.4L698.29,197.8L693.89,202.2L689.49,197.8Z" fill="#005f00" stroke="#001a00" stroke-width="0.85"/>
<path d="M701.55,188.4L705.95,192.8L701.55,197.2L697.15,192.8Z" fill="#005f00" stroke="#001a00" stroke-width="0.85"/>
<path d="M709.22,180.4L713.62,184.8L709.22,189.2L704.82,184.8Z" fill="#005f00" stroke="#001a00" stroke-width="0.85"/>
<path d="M716.89,171.9L721.29,176.3L716.89,180.7L712.49,176.3Z" fill="#005f00" stroke="#001a00" stroke-width="0.85"/>
<path d="M724.56,159L728.96,163.4L724.56,167.8L720.16,163.4Z" fill="#005f00" stroke="#001a00" stroke-width="0.85"/>
<path d="M732.23,142.9L736.63,147.3L732.23,151.7L727.83,147.3Z" fill="#005f00" stroke="#001a00" stroke-width="0.85"/>
<path d="M739.9,121.4L744.3,125.8L739.9,130.2L735.5,125.8Z" fill="#005f00" stroke="#001a00" stroke-width="0.85"/>
<path d="M747.57,92.5L751.97,96.9L747.57,101.3L743.17,96.9Z" fill="#005f00" stroke="#001a00" stroke-width="0.85"/>
<path d="M755.24,51.8L759.64,56.2L755.24,60.6L750.84,56.2Z" fill="#005f00" stroke="#001a00" stroke-width="0.85"/>
<path d="M540.5,230.3L601.85,229.3L624.86,226L640.2,223L655.54,218.5L670.88,210L678.55,205L686.22,197.4L693.89,190.5L701.55,183.6L709.22,177.9L716.89,173.3L724.56,168.7L732.23,160.7L739.9,151L747.57,138.9L755.24,123.5L762.91,103.3L770.58,78.5L778.25,53.9L785.92,34.4L793.59,20.7L801.26,9.2L808.92,-3L816.59,-15" fill="none" stroke="#555555" stroke-width="1.1" stroke-linejoin="round"/>
<path d="M537.3,227.1L543.7,233.5M537.3,233.5L543.7,227.1" stroke="#555555" stroke-width="0.9" fill="none"/>
<path d="M544.97,226.98L551.37,233.38M544.97,233.38L551.37,226.98" stroke="#555555" stroke-width="0.9" fill="none"/>
<path d="M552.64,226.85L559.04,233.25M552.64,233.25L559.04,226.85" stroke="#555555" stroke-width="0.9" fill="none"/>
<path d="M560.31,226.73L566.71,233.12M560.31,233.12L566.71,226.73" stroke="#555555" stroke-width="0.9" fill="none"/>
<path d="M567.98,226.6L574.38,233M567.98,233L574.38,226.6" stroke="#555555" stroke-width="0.9" fill="none"/>
<path d="M575.65,226.48L582.05,232.88M575.65,232.88L582.05,226.48" stroke="#555555" stroke-width="0.9" fill="none"/>
<path d="M583.32,226.35L589.72,232.75M583.32,232.75L589.72,226.35" stroke="#555555" stroke-width="0.9" fill="none"/>
<path d="M590.98,226.23L597.38,232.62M590.98,232.62L597.38,226.23" stroke="#555555" stroke-width="0.9" fill="none"/>
<path d="M598.65,226.1L605.05,232.5M598.65,232.5L605.05,226.1" stroke="#555555" stroke-width="0.9" fill="none"/>
<path d="M606.32,225L612.72,231.4M606.32,231.4L612.72,225" stroke="#555555" stroke-width="0.9" fill="none"/>
<path d="M613.99,223.9L620.39,230.3M613.99,230.3L620.39,223.9" stroke="#555555" stroke-width="0.9" fill="none"/>
<path d="M621.66,222.8L628.06,229.2M621.66,229.2L628.06,222.8" stroke="#555555" stroke-width="0.9" fill="none"/>
<path d="M629.33,221.3L635.73,227.7M629.33,227.7L635.73,221.3" stroke="#555555" stroke-width="0.9" fill="none"/>
<path d="M637,219.8L643.4,226.2M637,226.2L643.4,219.8" stroke="#555555" stroke-width="0.9" fill="none"/>
<path d="M644.67,217.55L651.07,223.95M644.67,223.95L651.07,217.55" stroke="#555555" stroke-width="0.9" fill="none"/>
<path d="M652.34,215.3L658.74,221.7M652.34,221.7L658.74,215.3" stroke="#555555" stroke-width="0.9" fill="none"/>
<path d="M660.01,211.05L666.41,217.45M660.01,217.45L666.41,211.05" stroke="#555555" stroke-width="0.9" fill="none"/>
<path d="M667.68,206.8L674.08,213.2M667.68,213.2L674.08,206.8" stroke="#555555" stroke-width="0.9" fill="none"/>
<path d="M675.35,201.8L681.75,208.2M675.35,208.2L681.75,201.8" stroke="#555555" stroke-width="0.9" fill="none"/>
<path d="M683.02,194.2L689.42,200.6M683.02,200.6L689.42,194.2" stroke="#555555" stroke-width="0.9" fill="none"/>
<path d="M690.69,187.3L697.09,193.7M690.69,193.7L697.09,187.3" stroke="#555555" stroke-width="0.9" fill="none"/>
<path d="M698.35,180.4L704.75,186.8M698.35,186.8L704.75,180.4" stroke="#555555" stroke-width="0.9" fill="none"/>
<path d="M706.02,174.7L712.42,181.1M706.02,181.1L712.42,174.7" stroke="#555555" stroke-width="0.9" fill="none"/>
<path d="M713.69,170.1L720.09,176.5M713.69,176.5L720.09,170.1" stroke="#555555" stroke-width="0.9" fill="none"/>
<path d="M721.36,165.5L727.76,171.9M721.36,171.9L727.76,165.5" stroke="#555555" stroke-width="0.9" fill="none"/>
<path d="M729.03,157.5L735.43,163.9M729.03,163.9L735.43,157.5" stroke="#555555" stroke-width="0.9" fill="none"/>
<path d="M736.7,147.8L743.1,154.2M736.7,154.2L743.1,147.8" stroke="#555555" stroke-width="0.9" fill="none"/>
<path d="M744.37,135.7L750.77,142.1M744.37,142.1L750.77,135.7" stroke="#555555" stroke-width="0.9" fill="none"/>
<path d="M752.04,120.3L758.44,126.7M752.04,126.7L758.44,120.3" stroke="#555555" stroke-width="0.9" fill="none"/>
<path d="M759.71,100.1L766.11,106.5M759.71,106.5L766.11,100.1" stroke="#555555" stroke-width="0.9" fill="none"/>
<path d="M767.38,75.3L773.78,81.7M767.38,81.7L773.78,75.3" stroke="#555555" stroke-width="0.9" fill="none"/>
<path d="M775.05,50.7L781.45,57.1M775.05,57.1L781.45,50.7" stroke="#555555" stroke-width="0.9" fill="none"/>
<path d="M782.72,31.2L789.12,37.6M782.72,37.6L789.12,31.2" stroke="#555555" stroke-width="0.9" fill="none"/>
<path d="M790.39,17.5L796.79,23.9M790.39,23.9L796.79,17.5" stroke="#555555" stroke-width="0.9" fill="none"/>
<path d="M798.06,6L804.46,12.4M798.06,12.4L804.46,6" stroke="#555555" stroke-width="0.9" fill="none"/>
<path d="M805.72,-6.2L812.12,0.2M805.72,0.2L812.12,-6.2" stroke="#555555" stroke-width="0.9" fill="none"/>
<path d="M540.5,230.3L601.85,229.3L624.86,226L640.2,223.3L647.87,221.5L655.54,220.3L663.21,219.7L670.88,217.3L678.55,210.7L686.22,207.7L693.89,204.3L701.55,200.4L709.22,196.9L716.89,192.8L724.56,187.7L732.23,181.3L739.9,172.1L747.57,161.3L755.24,148L762.91,134.3L770.58,121.2L778.25,111.3L785.92,105.1L793.59,98.7L801.26,90.7L808.92,80.3L816.59,70L824.26,63.8L831.93,60.8L839.6,59.2L847.27,57.8L854.94,56.2L855.4,56" fill="none" stroke="#0000c8" stroke-width="1.1" stroke-linejoin="round"/>
<circle cx="540.5" cy="230.3" r="3.25" fill="#0000e6" stroke="#00003a" stroke-width="0.85"/>
<circle cx="548.17" cy="230.18" r="3.25" fill="#0000e6" stroke="#00003a" stroke-width="0.85"/>
<circle cx="555.84" cy="230.05" r="3.25" fill="#0000e6" stroke="#00003a" stroke-width="0.85"/>
<circle cx="563.51" cy="229.93" r="3.25" fill="#0000e6" stroke="#00003a" stroke-width="0.85"/>
<circle cx="571.18" cy="229.8" r="3.25" fill="#0000e6" stroke="#00003a" stroke-width="0.85"/>
<circle cx="578.85" cy="229.68" r="3.25" fill="#0000e6" stroke="#00003a" stroke-width="0.85"/>
<circle cx="586.52" cy="229.55" r="3.25" fill="#0000e6" stroke="#00003a" stroke-width="0.85"/>
<circle cx="594.18" cy="229.43" r="3.25" fill="#0000e6" stroke="#00003a" stroke-width="0.85"/>
<circle cx="601.85" cy="229.3" r="3.25" fill="#0000e6" stroke="#00003a" stroke-width="0.85"/>
<circle cx="609.52" cy="228.2" r="3.25" fill="#0000e6" stroke="#00003a" stroke-width="0.85"/>
<circle cx="617.19" cy="227.1" r="3.25" fill="#0000e6" stroke="#00003a" stroke-width="0.85"/>
<circle cx="624.86" cy="226" r="3.25" fill="#0000e6" stroke="#00003a" stroke-width="0.85"/>
<circle cx="632.53" cy="224.65" r="3.25" fill="#0000e6" stroke="#00003a" stroke-width="0.85"/>
<circle cx="640.2" cy="223.3" r="3.25" fill="#0000e6" stroke="#00003a" stroke-width="0.85"/>
<circle cx="647.87" cy="221.5" r="3.25" fill="#0000e6" stroke="#00003a" stroke-width="0.85"/>
<circle cx="655.54" cy="220.3" r="3.25" fill="#0000e6" stroke="#00003a" stroke-width="0.85"/>
<circle cx="663.21" cy="219.7" r="3.25" fill="#0000e6" stroke="#00003a" stroke-width="0.85"/>
<circle cx="670.88" cy="217.3" r="3.25" fill="#0000e6" stroke="#00003a" stroke-width="0.85"/>
<circle cx="678.55" cy="210.7" r="3.25" fill="#0000e6" stroke="#00003a" stroke-width="0.85"/>
<circle cx="686.22" cy="207.7" r="3.25" fill="#0000e6" stroke="#00003a" stroke-width="0.85"/>
<circle cx="693.89" cy="204.3" r="3.25" fill="#0000e6" stroke="#00003a" stroke-width="0.85"/>
<circle cx="701.55" cy="200.4" r="3.25" fill="#0000e6" stroke="#00003a" stroke-width="0.85"/>
<circle cx="709.22" cy="196.9" r="3.25" fill="#0000e6" stroke="#00003a" stroke-width="0.85"/>
<circle cx="716.89" cy="192.8" r="3.25" fill="#0000e6" stroke="#00003a" stroke-width="0.85"/>
<circle cx="724.56" cy="187.7" r="3.25" fill="#0000e6" stroke="#00003a" stroke-width="0.85"/>
<circle cx="732.23" cy="181.3" r="3.25" fill="#0000e6" stroke="#00003a" stroke-width="0.85"/>
<circle cx="739.9" cy="172.1" r="3.25" fill="#0000e6" stroke="#00003a" stroke-width="0.85"/>
<circle cx="747.57" cy="161.3" r="3.25" fill="#0000e6" stroke="#00003a" stroke-width="0.85"/>
<circle cx="755.24" cy="148" r="3.25" fill="#0000e6" stroke="#00003a" stroke-width="0.85"/>
<circle cx="762.91" cy="134.3" r="3.25" fill="#0000e6" stroke="#00003a" stroke-width="0.85"/>
<circle cx="770.58" cy="121.2" r="3.25" fill="#0000e6" stroke="#00003a" stroke-width="0.85"/>
<circle cx="778.25" cy="111.3" r="3.25" fill="#0000e6" stroke="#00003a" stroke-width="0.85"/>
<circle cx="785.92" cy="105.1" r="3.25" fill="#0000e6" stroke="#00003a" stroke-width="0.85"/>
<circle cx="793.59" cy="98.7" r="3.25" fill="#0000e6" stroke="#00003a" stroke-width="0.85"/>
<circle cx="801.26" cy="90.7" r="3.25" fill="#0000e6" stroke="#00003a" stroke-width="0.85"/>
<circle cx="808.92" cy="80.3" r="3.25" fill="#0000e6" stroke="#00003a" stroke-width="0.85"/>
<circle cx="816.59" cy="70" r="3.25" fill="#0000e6" stroke="#00003a" stroke-width="0.85"/>
<circle cx="824.26" cy="63.8" r="3.25" fill="#0000e6" stroke="#00003a" stroke-width="0.85"/>
<circle cx="831.93" cy="60.8" r="3.25" fill="#0000e6" stroke="#00003a" stroke-width="0.85"/>
<circle cx="839.6" cy="59.2" r="3.25" fill="#0000e6" stroke="#00003a" stroke-width="0.85"/>
<circle cx="847.27" cy="57.8" r="3.25" fill="#0000e6" stroke="#00003a" stroke-width="0.85"/>
<circle cx="854.94" cy="56.2" r="3.25" fill="#0000e6" stroke="#00003a" stroke-width="0.85"/>
<path d="M540.5,230.3L640.2,229L670.88,227.7L678.55,226.5L686.22,224.9L693.89,223.8L701.55,221.5L709.22,219.2L716.89,216.9L724.56,214.6L732.23,211.6L739.9,209.3L747.57,206.6L755.24,203.8L762.91,200.8L770.58,197.8L778.25,194.6L785.92,191.6L793.59,188.7L801.26,185.9L808.92,183.6L816.59,180.2L824.26,174.9L831.93,171.7L839.6,169.8L847.27,167.5L854.94,164.8L855.4,164.3" fill="none" stroke="#10c0c0" stroke-width="1.1" stroke-linejoin="round"/>
<path d="M540.5,225.4L543.15,230.3L540.5,235.2L537.85,230.3Z" fill="#26b4b4" stroke="#002020" stroke-width="0.85"/>
<path d="M548.17,225.3L550.82,230.2L548.17,235.1L545.52,230.2Z" fill="#26b4b4" stroke="#002020" stroke-width="0.85"/>
<path d="M555.84,225.2L558.49,230.1L555.84,235L553.19,230.1Z" fill="#26b4b4" stroke="#002020" stroke-width="0.85"/>
<path d="M563.51,225.1L566.16,230L563.51,234.9L560.86,230Z" fill="#26b4b4" stroke="#002020" stroke-width="0.85"/>
<path d="M571.18,225L573.83,229.9L571.18,234.8L568.53,229.9Z" fill="#26b4b4" stroke="#002020" stroke-width="0.85"/>
<path d="M578.85,224.9L581.5,229.8L578.85,234.7L576.2,229.8Z" fill="#26b4b4" stroke="#002020" stroke-width="0.85"/>
<path d="M586.52,224.8L589.17,229.7L586.52,234.6L583.87,229.7Z" fill="#26b4b4" stroke="#002020" stroke-width="0.85"/>
<path d="M594.18,224.7L596.83,229.6L594.18,234.5L591.53,229.6Z" fill="#26b4b4" stroke="#002020" stroke-width="0.85"/>
<path d="M601.85,224.6L604.5,229.5L601.85,234.4L599.2,229.5Z" fill="#26b4b4" stroke="#002020" stroke-width="0.85"/>
<path d="M609.52,224.5L612.17,229.4L609.52,234.3L606.87,229.4Z" fill="#26b4b4" stroke="#002020" stroke-width="0.85"/>
<path d="M617.19,224.4L619.84,229.3L617.19,234.2L614.54,229.3Z" fill="#26b4b4" stroke="#002020" stroke-width="0.85"/>
<path d="M624.86,224.3L627.51,229.2L624.86,234.1L622.21,229.2Z" fill="#26b4b4" stroke="#002020" stroke-width="0.85"/>
<path d="M632.53,224.2L635.18,229.1L632.53,234L629.88,229.1Z" fill="#26b4b4" stroke="#002020" stroke-width="0.85"/>
<path d="M640.2,224.1L642.85,229L640.2,233.9L637.55,229Z" fill="#26b4b4" stroke="#002020" stroke-width="0.85"/>
<path d="M647.87,223.78L650.52,228.68L647.87,233.58L645.22,228.68Z" fill="#26b4b4" stroke="#002020" stroke-width="0.85"/>
<path d="M655.54,223.45L658.19,228.35L655.54,233.25L652.89,228.35Z" fill="#26b4b4" stroke="#002020" stroke-width="0.85"/>
<path d="M663.21,223.12L665.86,228.02L663.21,232.92L660.56,228.02Z" fill="#26b4b4" stroke="#002020" stroke-width="0.85"/>
<path d="M670.88,222.8L673.53,227.7L670.88,232.6L668.23,227.7Z" fill="#26b4b4" stroke="#002020" stroke-width="0.85"/>
<path d="M678.55,221.6L681.2,226.5L678.55,231.4L675.9,226.5Z" fill="#26b4b4" stroke="#002020" stroke-width="0.85"/>
<path d="M686.22,220L688.87,224.9L686.22,229.8L683.57,224.9Z" fill="#26b4b4" stroke="#002020" stroke-width="0.85"/>
<path d="M693.89,218.9L696.54,223.8L693.89,228.7L691.24,223.8Z" fill="#26b4b4" stroke="#002020" stroke-width="0.85"/>
<path d="M701.55,216.6L704.2,221.5L701.55,226.4L698.9,221.5Z" fill="#26b4b4" stroke="#002020" stroke-width="0.85"/>
<path d="M709.22,214.3L711.87,219.2L709.22,224.1L706.57,219.2Z" fill="#26b4b4" stroke="#002020" stroke-width="0.85"/>
<path d="M716.89,212L719.54,216.9L716.89,221.8L714.24,216.9Z" fill="#26b4b4" stroke="#002020" stroke-width="0.85"/>
<path d="M724.56,209.7L727.21,214.6L724.56,219.5L721.91,214.6Z" fill="#26b4b4" stroke="#002020" stroke-width="0.85"/>
<path d="M732.23,206.7L734.88,211.6L732.23,216.5L729.58,211.6Z" fill="#26b4b4" stroke="#002020" stroke-width="0.85"/>
<path d="M739.9,204.4L742.55,209.3L739.9,214.2L737.25,209.3Z" fill="#26b4b4" stroke="#002020" stroke-width="0.85"/>
<path d="M747.57,201.7L750.22,206.6L747.57,211.5L744.92,206.6Z" fill="#26b4b4" stroke="#002020" stroke-width="0.85"/>
<path d="M755.24,198.9L757.89,203.8L755.24,208.7L752.59,203.8Z" fill="#26b4b4" stroke="#002020" stroke-width="0.85"/>
<path d="M762.91,195.9L765.56,200.8L762.91,205.7L760.26,200.8Z" fill="#26b4b4" stroke="#002020" stroke-width="0.85"/>
<path d="M770.58,192.9L773.23,197.8L770.58,202.7L767.93,197.8Z" fill="#26b4b4" stroke="#002020" stroke-width="0.85"/>
<path d="M778.25,189.7L780.9,194.6L778.25,199.5L775.6,194.6Z" fill="#26b4b4" stroke="#002020" stroke-width="0.85"/>
<path d="M785.92,186.7L788.57,191.6L785.92,196.5L783.27,191.6Z" fill="#26b4b4" stroke="#002020" stroke-width="0.85"/>
<path d="M793.59,183.8L796.24,188.7L793.59,193.6L790.94,188.7Z" fill="#26b4b4" stroke="#002020" stroke-width="0.85"/>
<path d="M801.26,181L803.91,185.9L801.26,190.8L798.61,185.9Z" fill="#26b4b4" stroke="#002020" stroke-width="0.85"/>
<path d="M808.92,178.7L811.57,183.6L808.92,188.5L806.27,183.6Z" fill="#26b4b4" stroke="#002020" stroke-width="0.85"/>
<path d="M816.59,175.3L819.24,180.2L816.59,185.1L813.94,180.2Z" fill="#26b4b4" stroke="#002020" stroke-width="0.85"/>
<path d="M824.26,170L826.91,174.9L824.26,179.8L821.61,174.9Z" fill="#26b4b4" stroke="#002020" stroke-width="0.85"/>
<path d="M831.93,166.8L834.58,171.7L831.93,176.6L829.28,171.7Z" fill="#26b4b4" stroke="#002020" stroke-width="0.85"/>
<path d="M839.6,164.9L842.25,169.8L839.6,174.7L836.95,169.8Z" fill="#26b4b4" stroke="#002020" stroke-width="0.85"/>
<path d="M847.27,162.6L849.92,167.5L847.27,172.4L844.62,167.5Z" fill="#26b4b4" stroke="#002020" stroke-width="0.85"/>
<path d="M854.94,159.9L857.59,164.8L854.94,169.7L852.29,164.8Z" fill="#26b4b4" stroke="#002020" stroke-width="0.85"/>
<path d="M540.5,230.3L575,229.5L612.3,227.8L627.8,227.1L635.6,226.8L647.87,225.9L655.54,225.6L663.21,225L670.88,223.2L678.55,221.5L686.22,220.9L693.89,218L701.55,216.2L709.22,214.6L716.89,212.3L724.56,208.9L732.23,204.3L739.9,200.8L747.57,196.9L755.24,191.6L762.91,187.7L770.58,184.8L778.25,182.5L785.92,180.2L793.59,179.5L801.26,179.5L808.92,179L816.59,178.6L824.26,177.9L831.93,177.2L839.6,176.7L847.27,175.6L854.94,174L855.4,173.8" fill="none" stroke="#b00000" stroke-width="1.1" stroke-linejoin="round"/>
<rect x="537.3" y="227.1" width="6.4" height="6.4" fill="#f80000" stroke="#200000" stroke-width="0.85"/>
<rect x="544.97" y="226.92" width="6.4" height="6.4" fill="#f80000" stroke="#200000" stroke-width="0.85"/>
<rect x="552.64" y="226.74" width="6.4" height="6.4" fill="#f80000" stroke="#200000" stroke-width="0.85"/>
<rect x="560.31" y="226.57" width="6.4" height="6.4" fill="#f80000" stroke="#200000" stroke-width="0.85"/>
<rect x="567.98" y="226.39" width="6.4" height="6.4" fill="#f80000" stroke="#200000" stroke-width="0.85"/>
<rect x="575.65" y="226.12" width="6.4" height="6.4" fill="#f80000" stroke="#200000" stroke-width="0.85"/>
<rect x="583.32" y="225.78" width="6.4" height="6.4" fill="#f80000" stroke="#200000" stroke-width="0.85"/>
<rect x="590.98" y="225.43" width="6.4" height="6.4" fill="#f80000" stroke="#200000" stroke-width="0.85"/>
<rect x="598.65" y="225.08" width="6.4" height="6.4" fill="#f80000" stroke="#200000" stroke-width="0.85"/>
<rect x="606.32" y="224.73" width="6.4" height="6.4" fill="#f80000" stroke="#200000" stroke-width="0.85"/>
<rect x="613.99" y="224.38" width="6.4" height="6.4" fill="#f80000" stroke="#200000" stroke-width="0.85"/>
<rect x="621.66" y="224.03" width="6.4" height="6.4" fill="#f80000" stroke="#200000" stroke-width="0.85"/>
<rect x="629.33" y="223.72" width="6.4" height="6.4" fill="#f80000" stroke="#200000" stroke-width="0.85"/>
<rect x="637" y="223.26" width="6.4" height="6.4" fill="#f80000" stroke="#200000" stroke-width="0.85"/>
<rect x="644.67" y="222.7" width="6.4" height="6.4" fill="#f80000" stroke="#200000" stroke-width="0.85"/>
<rect x="652.34" y="222.4" width="6.4" height="6.4" fill="#f80000" stroke="#200000" stroke-width="0.85"/>
<rect x="660.01" y="221.8" width="6.4" height="6.4" fill="#f80000" stroke="#200000" stroke-width="0.85"/>
<rect x="667.68" y="220" width="6.4" height="6.4" fill="#f80000" stroke="#200000" stroke-width="0.85"/>
<rect x="675.35" y="218.3" width="6.4" height="6.4" fill="#f80000" stroke="#200000" stroke-width="0.85"/>
<rect x="683.02" y="217.7" width="6.4" height="6.4" fill="#f80000" stroke="#200000" stroke-width="0.85"/>
<rect x="690.69" y="214.8" width="6.4" height="6.4" fill="#f80000" stroke="#200000" stroke-width="0.85"/>
<rect x="698.35" y="213" width="6.4" height="6.4" fill="#f80000" stroke="#200000" stroke-width="0.85"/>
<rect x="706.02" y="211.4" width="6.4" height="6.4" fill="#f80000" stroke="#200000" stroke-width="0.85"/>
<rect x="713.69" y="209.1" width="6.4" height="6.4" fill="#f80000" stroke="#200000" stroke-width="0.85"/>
<rect x="721.36" y="205.7" width="6.4" height="6.4" fill="#f80000" stroke="#200000" stroke-width="0.85"/>
<rect x="729.03" y="201.1" width="6.4" height="6.4" fill="#f80000" stroke="#200000" stroke-width="0.85"/>
<rect x="736.7" y="197.6" width="6.4" height="6.4" fill="#f80000" stroke="#200000" stroke-width="0.85"/>
<rect x="744.37" y="193.7" width="6.4" height="6.4" fill="#f80000" stroke="#200000" stroke-width="0.85"/>
<rect x="752.04" y="188.4" width="6.4" height="6.4" fill="#f80000" stroke="#200000" stroke-width="0.85"/>
<rect x="759.71" y="184.5" width="6.4" height="6.4" fill="#f80000" stroke="#200000" stroke-width="0.85"/>
<rect x="767.38" y="181.6" width="6.4" height="6.4" fill="#f80000" stroke="#200000" stroke-width="0.85"/>
<rect x="775.05" y="179.3" width="6.4" height="6.4" fill="#f80000" stroke="#200000" stroke-width="0.85"/>
<rect x="782.72" y="177" width="6.4" height="6.4" fill="#f80000" stroke="#200000" stroke-width="0.85"/>
<rect x="790.39" y="176.3" width="6.4" height="6.4" fill="#f80000" stroke="#200000" stroke-width="0.85"/>
<rect x="798.06" y="176.3" width="6.4" height="6.4" fill="#f80000" stroke="#200000" stroke-width="0.85"/>
<rect x="805.72" y="175.8" width="6.4" height="6.4" fill="#f80000" stroke="#200000" stroke-width="0.85"/>
<rect x="813.39" y="175.4" width="6.4" height="6.4" fill="#f80000" stroke="#200000" stroke-width="0.85"/>
<rect x="821.06" y="174.7" width="6.4" height="6.4" fill="#f80000" stroke="#200000" stroke-width="0.85"/>
<rect x="828.73" y="174" width="6.4" height="6.4" fill="#f80000" stroke="#200000" stroke-width="0.85"/>
<rect x="836.4" y="173.5" width="6.4" height="6.4" fill="#f80000" stroke="#200000" stroke-width="0.85"/>
<rect x="844.07" y="172.4" width="6.4" height="6.4" fill="#f80000" stroke="#200000" stroke-width="0.85"/>
<rect x="851.74" y="170.8" width="6.4" height="6.4" fill="#f80000" stroke="#200000" stroke-width="0.85"/>
<path d="M540.5,230.3L701.55,209L855.4,191" fill="none" stroke="#f4cc1e" stroke-width="3.4" stroke-linejoin="round"/>
</g>
<rect x="540.5" y="5.4" width="314.9" height="224.9" fill="none" stroke="#000" stroke-width="1.3"/>
<path d="M556.3,230.3v-2.3M556.3,5.4v2.3M565.54,230.3v-2.3M565.54,5.4v2.3M572.1,230.3v-2.3M572.1,5.4v2.3M577.18,230.3v-2.3M577.18,5.4v2.3M581.34,230.3v-2.3M581.34,5.4v2.3M584.85,230.3v-2.3M584.85,5.4v2.3M587.9,230.3v-2.3M587.9,5.4v2.3M590.58,230.3v-2.3M590.58,5.4v2.3M592.98,230.3v-4.5M592.98,5.4v4.5M608.78,230.3v-2.3M608.78,5.4v2.3M618.02,230.3v-2.3M618.02,5.4v2.3M624.58,230.3v-2.3M624.58,5.4v2.3M629.67,230.3v-2.3M629.67,5.4v2.3M633.82,230.3v-2.3M633.82,5.4v2.3M637.34,230.3v-2.3M637.34,5.4v2.3M640.38,230.3v-2.3M640.38,5.4v2.3M643.07,230.3v-2.3M643.07,5.4v2.3M645.47,230.3v-4.5M645.47,5.4v4.5M661.27,230.3v-2.3M661.27,5.4v2.3M670.51,230.3v-2.3M670.51,5.4v2.3M677.06,230.3v-2.3M677.06,5.4v2.3M682.15,230.3v-2.3M682.15,5.4v2.3M686.31,230.3v-2.3M686.31,5.4v2.3M689.82,230.3v-2.3M689.82,5.4v2.3M692.86,230.3v-2.3M692.86,5.4v2.3M695.55,230.3v-2.3M695.55,5.4v2.3M697.95,230.3v-4.5M697.95,5.4v4.5M713.75,230.3v-2.3M713.75,5.4v2.3M722.99,230.3v-2.3M722.99,5.4v2.3M729.55,230.3v-2.3M729.55,5.4v2.3M734.63,230.3v-2.3M734.63,5.4v2.3M738.79,230.3v-2.3M738.79,5.4v2.3M742.3,230.3v-2.3M742.3,5.4v2.3M745.35,230.3v-2.3M745.35,5.4v2.3M748.03,230.3v-2.3M748.03,5.4v2.3M750.43,230.3v-4.5M750.43,5.4v4.5M766.23,230.3v-2.3M766.23,5.4v2.3M775.47,230.3v-2.3M775.47,5.4v2.3M782.03,230.3v-2.3M782.03,5.4v2.3M787.12,230.3v-2.3M787.12,5.4v2.3M791.27,230.3v-2.3M791.27,5.4v2.3M794.79,230.3v-2.3M794.79,5.4v2.3M797.83,230.3v-2.3M797.83,5.4v2.3M800.52,230.3v-2.3M800.52,5.4v2.3M802.92,230.3v-4.5M802.92,5.4v4.5M818.72,230.3v-2.3M818.72,5.4v2.3M827.96,230.3v-2.3M827.96,5.4v2.3M834.51,230.3v-2.3M834.51,5.4v2.3M839.6,230.3v-2.3M839.6,5.4v2.3M843.76,230.3v-2.3M843.76,5.4v2.3M847.27,230.3v-2.3M847.27,5.4v2.3M850.31,230.3v-2.3M850.31,5.4v2.3M853,230.3v-2.3M853,5.4v2.3M540.5,193.28h4.5M855.4,193.28h-4.5M540.5,156.27h4.5M855.4,156.27h-4.5M540.5,119.25h4.5M855.4,119.25h-4.5M540.5,82.23h4.5M855.4,82.23h-4.5M540.5,45.22h4.5M855.4,45.22h-4.5M540.5,8.2h4.5M855.4,8.2h-4.5" stroke="#000" stroke-width="1.05" fill="none"/>
<text transform="translate(541,249.9) scale(0.9,1)" font-family="'Liberation Serif', serif" font-size="21.8" fill="#333" text-anchor="middle">10<tspan dy="-7.3" font-size="15">0</tspan></text>
<text transform="translate(593.48,249.9) scale(0.9,1)" font-family="'Liberation Serif', serif" font-size="21.8" fill="#333" text-anchor="middle">10<tspan dy="-7.3" font-size="15">1</tspan></text>
<text transform="translate(645.97,249.9) scale(0.9,1)" font-family="'Liberation Serif', serif" font-size="21.8" fill="#333" text-anchor="middle">10<tspan dy="-7.3" font-size="15">2</tspan></text>
<text transform="translate(698.45,249.9) scale(0.9,1)" font-family="'Liberation Serif', serif" font-size="21.8" fill="#333" text-anchor="middle">10<tspan dy="-7.3" font-size="15">3</tspan></text>
<text transform="translate(750.93,249.9) scale(0.9,1)" font-family="'Liberation Serif', serif" font-size="21.8" fill="#333" text-anchor="middle">10<tspan dy="-7.3" font-size="15">4</tspan></text>
<text transform="translate(803.42,249.9) scale(0.9,1)" font-family="'Liberation Serif', serif" font-size="21.8" fill="#333" text-anchor="middle">10<tspan dy="-7.3" font-size="15">5</tspan></text>
<text transform="translate(855.9,249.9) scale(0.9,1)" font-family="'Liberation Serif', serif" font-size="21.8" fill="#333" text-anchor="middle">10<tspan dy="-7.3" font-size="15">6</tspan></text>
<text transform="translate(536.5,237.3) scale(0.9,1)" font-family="'Liberation Serif', serif" font-size="21.8" fill="#333" text-anchor="end">0</text>
<text transform="translate(536.5,200.28) scale(0.9,1)" font-family="'Liberation Serif', serif" font-size="21.8" fill="#333" text-anchor="end">100</text>
<text transform="translate(536.5,163.27) scale(0.9,1)" font-family="'Liberation Serif', serif" font-size="21.8" fill="#333" text-anchor="end">200</text>
<text transform="translate(536.5,126.25) scale(0.9,1)" font-family="'Liberation Serif', serif" font-size="21.8" fill="#333" text-anchor="end">300</text>
<text transform="translate(536.5,89.23) scale(0.9,1)" font-family="'Liberation Serif', serif" font-size="21.8" fill="#333" text-anchor="end">400</text>
<text transform="translate(536.5,52.22) scale(0.9,1)" font-family="'Liberation Serif', serif" font-size="21.8" fill="#333" text-anchor="end">500</text>
<text transform="translate(536.5,15.2) scale(0.9,1)" font-family="'Liberation Serif', serif" font-size="21.8" fill="#333" text-anchor="end">600</text>
<text transform="translate(697.95,274.7) scale(1.09,1)" font-family="'Liberation Serif', serif" font-size="22.5" fill="#000" stroke="#000" stroke-width="0.35" text-anchor="middle">t: round</text>
<text transform="translate(494.4,121.65) rotate(-90) scale(1.09,1)" font-family="'Liberation Serif', serif" font-size="22.5" fill="#000" stroke="#000" stroke-width="0.35" text-anchor="middle">R(t): regret</text>
<text x="499" y="313.6" font-family="'Liberation Sans', sans-serif" font-size="31" fill="#000">(b) <tspan dx="4">three-states, intermediate</tspan></text>
<rect x="547.5" y="12.5" width="140.4" height="150.6" fill="#fff" stroke="#000" stroke-width="1.1"/>
<path d="M557.3,24.6h20" stroke="#000000" stroke-width="1.1"/>
<path d="M554.6,21L561.26,24.6L554.6,28.2Z" fill="#1a1a1a" stroke="#000000" stroke-width="0.85"/>
<path d="M574.6,21L581.26,24.6L574.6,28.2Z" fill="#1a1a1a" stroke="#000000" stroke-width="0.85"/>
<text x="593.9" y="30.1" font-family="'Liberation Serif', serif" font-size="16" fill="#000" stroke="#000" stroke-width="0.25">Random</text>
<path d="M557.3,45.35h20" stroke="#0a800a" stroke-width="1.1"/>
<path d="M557.3,40.95L561.7,45.35L557.3,49.75L552.9,45.35Z" fill="#005f00" stroke="#001a00" stroke-width="0.85"/>
<path d="M577.3,40.95L581.7,45.35L577.3,49.75L572.9,45.35Z" fill="#005f00" stroke="#001a00" stroke-width="0.85"/>
<text x="593.9" y="50.85" font-family="'Liberation Serif', serif" font-size="16" fill="#000" stroke="#000" stroke-width="0.25">FeedExp3</text>
<path d="M557.3,66.1h20" stroke="#555555" stroke-width="1.1"/>
<path d="M554.1,62.9L560.5,69.3M554.1,69.3L560.5,62.9" stroke="#555555" stroke-width="0.9" fill="none"/>
<path d="M574.1,62.9L580.5,69.3M574.1,69.3L580.5,62.9" stroke="#555555" stroke-width="0.9" fill="none"/>
<text x="593.9" y="71.6" font-family="'Liberation Serif', serif" font-size="16" fill="#000" stroke="#000" stroke-width="0.25">CBP</text>
<path d="M557.3,86.85h20" stroke="#0000c8" stroke-width="1.1"/>
<circle cx="557.3" cy="86.85" r="3.25" fill="#0000e6" stroke="#00003a" stroke-width="0.85"/>
<circle cx="577.3" cy="86.85" r="3.25" fill="#0000e6" stroke="#00003a" stroke-width="0.85"/>
<text x="593.9" y="92.35" font-family="'Liberation Serif', serif" font-size="16" fill="#000" stroke="#000" stroke-width="0.25">BPM-LEAST</text>
<path d="M557.3,107.6h20" stroke="#10c0c0" stroke-width="1.1"/>
<path d="M557.3,102.7L559.95,107.6L557.3,112.5L554.65,107.6Z" fill="#26b4b4" stroke="#002020" stroke-width="0.85"/>
<path d="M577.3,102.7L579.95,107.6L577.3,112.5L574.65,107.6Z" fill="#26b4b4" stroke="#002020" stroke-width="0.85"/>
<text x="593.9" y="113.1" font-family="'Liberation Serif', serif" font-size="16" fill="#000" stroke="#000" stroke-width="0.25">BPM-TS</text>
<path d="M557.3,128.35h20" stroke="#b00000" stroke-width="1.1"/>
<rect x="554.1" y="125.15" width="6.4" height="6.4" fill="#f80000" stroke="#200000" stroke-width="0.85"/>
<rect x="574.1" y="125.15" width="6.4" height="6.4" fill="#f80000" stroke="#200000" stroke-width="0.85"/>
<text x="593.9" y="133.85" font-family="'Liberation Serif', serif" font-size="16" fill="#000" stroke="#000" stroke-width="0.25">PM-DMED</text>
<path d="M555.8,149.1h23.8" stroke="#f4cc1e" stroke-width="3.4"/>
<text x="593.9" y="154.6" font-family="'Liberation Serif', serif" font-size="16" fill="#000" stroke="#000" stroke-width="0.25">LB</text>
<g clip-path="url(#clipc)">
<path d="M1009.5,225.3L1016.71,224.5L1032.05,222.7L1047.39,219.7L1062.73,215.5L1078.06,210.2L1093.4,202.4L1108.74,190.5L1124.08,174.9L1139.42,150L1154.76,122L1170.1,78L1185.43,16.5L1200.77,-50" fill="none" stroke="#000000" stroke-width="1.1" stroke-linejoin="round"/>
<path d="M1014.01,220.9L1020.67,224.5L1014.01,228.1Z" fill="#1a1a1a" stroke="#000000" stroke-width="0.85"/>
<path d="M1029.35,219.1L1036.01,222.7L1029.35,226.3Z" fill="#1a1a1a" stroke="#000000" stroke-width="0.85"/>
<path d="M1044.69,216.1L1051.35,219.7L1044.69,223.3Z" fill="#1a1a1a" stroke="#000000" stroke-width="0.85"/>
<path d="M1060.03,211.9L1066.69,215.5L1060.03,219.1Z" fill="#1a1a1a" stroke="#000000" stroke-width="0.85"/>
<path d="M1075.36,206.6L1082.02,210.2L1075.36,213.8Z" fill="#1a1a1a" stroke="#000000" stroke-width="0.85"/>
<path d="M1090.7,198.8L1097.36,202.4L1090.7,206Z" fill="#1a1a1a" stroke="#000000" stroke-width="0.85"/>
<path d="M1106.04,186.9L1112.7,190.5L1106.04,194.1Z" fill="#1a1a1a" stroke="#000000" stroke-width="0.85"/>
<path d="M1121.38,171.3L1128.04,174.9L1121.38,178.5Z" fill="#1a1a1a" stroke="#000000" stroke-width="0.85"/>
<path d="M1136.72,146.4L1143.38,150L1136.72,153.6Z" fill="#1a1a1a" stroke="#000000" stroke-width="0.85"/>
<path d="M1152.06,118.4L1158.72,122L1152.06,125.6Z" fill="#1a1a1a" stroke="#000000" stroke-width="0.85"/>
<path d="M1167.4,74.4L1174.06,78L1167.4,81.6Z" fill="#1a1a1a" stroke="#000000" stroke-width="0.85"/>
<path d="M1182.73,12.9L1189.39,16.5L1182.73,20.1Z" fill="#1a1a1a" stroke="#000000" stroke-width="0.85"/>
<path d="M1009.5,228L1016.71,227.8L1047.39,226L1078.06,223L1093.4,220.5L1108.74,217.5L1124.08,213.5L1139.42,208.5L1154.76,202L1170.1,192.8L1185.43,181.3L1200.77,165.2L1216.11,144.6L1231.45,115.2L1246.79,73L1262.13,14.9L1277.47,-45" fill="none" stroke="#0a800a" stroke-width="1.1" stroke-linejoin="round"/>
<path d="M1016.71,223.4L1021.11,227.8L1016.71,232.2L1012.31,227.8Z" fill="#005f00" stroke="#001a00" stroke-width="0.85"/>
<path d="M1032.05,222.5L1036.45,226.9L1032.05,231.3L1027.65,226.9Z" fill="#005f00" stroke="#001a00" stroke-width="0.85"/>
<path d="M1047.39,221.6L1051.79,226L1047.39,230.4L1042.99,226Z" fill="#005f00" stroke="#001a00" stroke-width="0.85"/>
<path d="M1062.73,220.1L1067.13,224.5L1062.73,228.9L1058.33,224.5Z" fill="#005f00" stroke="#001a00" stroke-width="0.85"/>
<path d="M1078.06,218.6L1082.46,223L1078.06,227.4L1073.66,223Z" fill="#005f00" stroke="#001a00" stroke-width="0.85"/>
<path d="M1093.4,216.1L1097.8,220.5L1093.4,224.9L1089,220.5Z" fill="#005f00" stroke="#001a00" stroke-width="0.85"/>
<path d="M1108.74,213.1L1113.14,217.5L1108.74,221.9L1104.34,217.5Z" fill="#005f00" stroke="#001a00" stroke-width="0.85"/>
<path d="M1124.08,209.1L1128.48,213.5L1124.08,217.9L1119.68,213.5Z" fill="#005f00" stroke="#001a00" stroke-width="0.85"/>
<path d="M1139.42,204.1L1143.82,208.5L1139.42,212.9L1135.02,208.5Z" fill="#005f00" stroke="#001a00" stroke-width="0.85"/>
<path d="M1154.76,197.6L1159.16,202L1154.76,206.4L1150.36,202Z" fill="#005f00" stroke="#001a00" stroke-width="0.85"/>
<path d="M1170.1,188.4L1174.5,192.8L1170.1,197.2L1165.7,192.8Z" fill="#005f00" stroke="#001a00" stroke-width="0.85"/>
<path d="M1185.43,176.9L1189.83,181.3L1185.43,185.7L1181.03,181.3Z" fill="#005f00" stroke="#001a00" stroke-width="0.85"/>
<path d="M1200.77,160.8L1205.17,165.2L1200.77,169.6L1196.37,165.2Z" fill="#005f00" stroke="#001a00" stroke-width="0.85"/>
<path d="M1216.11,140.2L1220.51,144.6L1216.11,149L1211.71,144.6Z" fill="#005f00" stroke="#001a00" stroke-width="0.85"/>
<path d="M1231.45,110.8L1235.85,115.2L1231.45,119.6L1227.05,115.2Z" fill="#005f00" stroke="#001a00" stroke-width="0.85"/>
<path d="M1246.79,68.6L1251.19,73L1246.79,77.4L1242.39,73Z" fill="#005f00" stroke="#001a00" stroke-width="0.85"/>
<path d="M1262.13,10.5L1266.53,14.9L1262.13,19.3L1257.73,14.9Z" fill="#005f00" stroke="#001a00" stroke-width="0.85"/>
<path d="M1009.5,226L1016.71,225.5L1047.39,222L1078.06,217.8L1093.4,214.4L1108.74,211L1124.08,206.5L1139.42,199L1154.76,190.5L1170.1,177.9L1185.43,161.8L1200.77,142.3L1216.11,122.8L1231.45,109L1246.79,102.8L1262.13,99.1L1277.47,95.2L1292.8,90L1308.14,82.2L1323.48,71.1L1325,70" fill="none" stroke="#555555" stroke-width="1.1" stroke-linejoin="round"/>
<path d="M1013.51,222.3L1019.91,228.7M1013.51,228.7L1019.91,222.3" stroke="#555555" stroke-width="0.9" fill="none"/>
<path d="M1028.85,220.55L1035.25,226.95M1028.85,226.95L1035.25,220.55" stroke="#555555" stroke-width="0.9" fill="none"/>
<path d="M1044.19,218.8L1050.59,225.2M1044.19,225.2L1050.59,218.8" stroke="#555555" stroke-width="0.9" fill="none"/>
<path d="M1059.53,216.7L1065.93,223.1M1059.53,223.1L1065.93,216.7" stroke="#555555" stroke-width="0.9" fill="none"/>
<path d="M1074.86,214.6L1081.26,221M1074.86,221L1081.26,214.6" stroke="#555555" stroke-width="0.9" fill="none"/>
<path d="M1090.2,211.2L1096.6,217.6M1090.2,217.6L1096.6,211.2" stroke="#555555" stroke-width="0.9" fill="none"/>
<path d="M1105.54,207.8L1111.94,214.2M1105.54,214.2L1111.94,207.8" stroke="#555555" stroke-width="0.9" fill="none"/>
<path d="M1120.88,203.3L1127.28,209.7M1120.88,209.7L1127.28,203.3" stroke="#555555" stroke-width="0.9" fill="none"/>
<path d="M1136.22,195.8L1142.62,202.2M1136.22,202.2L1142.62,195.8" stroke="#555555" stroke-width="0.9" fill="none"/>
<path d="M1151.56,187.3L1157.96,193.7M1151.56,193.7L1157.96,187.3" stroke="#555555" stroke-width="0.9" fill="none"/>
<path d="M1166.9,174.7L1173.3,181.1M1166.9,181.1L1173.3,174.7" stroke="#555555" stroke-width="0.9" fill="none"/>
<path d="M1182.23,158.6L1188.63,165M1182.23,165L1188.63,158.6" stroke="#555555" stroke-width="0.9" fill="none"/>
<path d="M1197.57,139.1L1203.97,145.5M1197.57,145.5L1203.97,139.1" stroke="#555555" stroke-width="0.9" fill="none"/>
<path d="M1212.91,119.6L1219.31,126M1212.91,126L1219.31,119.6" stroke="#555555" stroke-width="0.9" fill="none"/>
<path d="M1228.25,105.8L1234.65,112.2M1228.25,112.2L1234.65,105.8" stroke="#555555" stroke-width="0.9" fill="none"/>
<path d="M1243.59,99.6L1249.99,106M1243.59,106L1249.99,99.6" stroke="#555555" stroke-width="0.9" fill="none"/>
<path d="M1258.93,95.9L1265.33,102.3M1258.93,102.3L1265.33,95.9" stroke="#555555" stroke-width="0.9" fill="none"/>
<path d="M1274.27,92L1280.67,98.4M1274.27,98.4L1280.67,92" stroke="#555555" stroke-width="0.9" fill="none"/>
<path d="M1289.6,86.8L1296,93.2M1289.6,93.2L1296,86.8" stroke="#555555" stroke-width="0.9" fill="none"/>
<path d="M1304.94,79L1311.34,85.4M1304.94,85.4L1311.34,79" stroke="#555555" stroke-width="0.9" fill="none"/>
<path d="M1320.28,67.9L1326.68,74.3M1320.28,74.3L1326.68,67.9" stroke="#555555" stroke-width="0.9" fill="none"/>
<path d="M1009.5,227L1016.71,226.5L1047.39,224.5L1078.06,221.7L1093.4,218.3L1108.74,215.5L1124.08,211.6L1139.42,206L1154.76,200.1L1170.1,192.3L1185.43,183.6L1200.77,176.3L1216.11,170.3L1231.45,164.1L1246.79,160.2L1262.13,154.9L1277.47,149.2L1292.8,144.1L1308.14,140L1323.48,136.6L1325,136.3" fill="none" stroke="#0000c8" stroke-width="1.1" stroke-linejoin="round"/>
<circle cx="1016.71" cy="226.5" r="3.25" fill="#0000e6" stroke="#00003a" stroke-width="0.85"/>
<circle cx="1032.05" cy="225.5" r="3.25" fill="#0000e6" stroke="#00003a" stroke-width="0.85"/>
<circle cx="1047.39" cy="224.5" r="3.25" fill="#0000e6" stroke="#00003a" stroke-width="0.85"/>
<circle cx="1062.73" cy="223.1" r="3.25" fill="#0000e6" stroke="#00003a" stroke-width="0.85"/>
<circle cx="1078.06" cy="221.7" r="3.25" fill="#0000e6" stroke="#00003a" stroke-width="0.85"/>
<circle cx="1093.4" cy="218.3" r="3.25" fill="#0000e6" stroke="#00003a" stroke-width="0.85"/>
<circle cx="1108.74" cy="215.5" r="3.25" fill="#0000e6" stroke="#00003a" stroke-width="0.85"/>
<circle cx="1124.08" cy="211.6" r="3.25" fill="#0000e6" stroke="#00003a" stroke-width="0.85"/>
<circle cx="1139.42" cy="206" r="3.25" fill="#0000e6" stroke="#00003a" stroke-width="0.85"/>
<circle cx="1154.76" cy="200.1" r="3.25" fill="#0000e6" stroke="#00003a" stroke-width="0.85"/>
<circle cx="1170.1" cy="192.3" r="3.25" fill="#0000e6" stroke="#00003a" stroke-width="0.85"/>
<circle cx="1185.43" cy="183.6" r="3.25" fill="#0000e6" stroke="#00003a" stroke-width="0.85"/>
<circle cx="1200.77" cy="176.3" r="3.25" fill="#0000e6" stroke="#00003a" stroke-width="0.85"/>
<circle cx="1216.11" cy="170.3" r="3.25" fill="#0000e6" stroke="#00003a" stroke-width="0.85"/>
<circle cx="1231.45" cy="164.1" r="3.25" fill="#0000e6" stroke="#00003a" stroke-width="0.85"/>
<circle cx="1246.79" cy="160.2" r="3.25" fill="#0000e6" stroke="#00003a" stroke-width="0.85"/>
<circle cx="1262.13" cy="154.9" r="3.25" fill="#0000e6" stroke="#00003a" stroke-width="0.85"/>
<circle cx="1277.47" cy="149.2" r="3.25" fill="#0000e6" stroke="#00003a" stroke-width="0.85"/>
<circle cx="1292.8" cy="144.1" r="3.25" fill="#0000e6" stroke="#00003a" stroke-width="0.85"/>
<circle cx="1308.14" cy="140" r="3.25" fill="#0000e6" stroke="#00003a" stroke-width="0.85"/>
<circle cx="1323.48" cy="136.6" r="3.25" fill="#0000e6" stroke="#00003a" stroke-width="0.85"/>
<path d="M1009.5,229.5L1016.71,229.3L1062.73,228.5L1093.4,227.3L1108.74,226.2L1124.08,224.5L1139.42,223L1154.76,221.5L1170.1,219.2L1185.43,216.9L1200.77,214.6L1216.11,212.3L1231.45,209.3L1246.79,207L1262.13,204.3L1277.47,202L1292.8,199.2L1308.14,195.5L1323.48,192.8L1325,192.5" fill="none" stroke="#10c0c0" stroke-width="1.1" stroke-linejoin="round"/>
<path d="M1016.71,224.4L1019.36,229.3L1016.71,234.2L1014.06,229.3Z" fill="#26b4b4" stroke="#002020" stroke-width="0.85"/>
<path d="M1032.05,224.13L1034.7,229.03L1032.05,233.93L1029.4,229.03Z" fill="#26b4b4" stroke="#002020" stroke-width="0.85"/>
<path d="M1047.39,223.87L1050.04,228.77L1047.39,233.67L1044.74,228.77Z" fill="#26b4b4" stroke="#002020" stroke-width="0.85"/>
<path d="M1062.73,223.6L1065.38,228.5L1062.73,233.4L1060.08,228.5Z" fill="#26b4b4" stroke="#002020" stroke-width="0.85"/>
<path d="M1078.06,223L1080.71,227.9L1078.06,232.8L1075.41,227.9Z" fill="#26b4b4" stroke="#002020" stroke-width="0.85"/>
<path d="M1093.4,222.4L1096.05,227.3L1093.4,232.2L1090.75,227.3Z" fill="#26b4b4" stroke="#002020" stroke-width="0.85"/>
<path d="M1108.74,221.3L1111.39,226.2L1108.74,231.1L1106.09,226.2Z" fill="#26b4b4" stroke="#002020" stroke-width="0.85"/>
<path d="M1124.08,219.6L1126.73,224.5L1124.08,229.4L1121.43,224.5Z" fill="#26b4b4" stroke="#002020" stroke-width="0.85"/>
<path d="M1139.42,218.1L1142.07,223L1139.42,227.9L1136.77,223Z" fill="#26b4b4" stroke="#002020" stroke-width="0.85"/>
<path d="M1154.76,216.6L1157.41,221.5L1154.76,226.4L1152.11,221.5Z" fill="#26b4b4" stroke="#002020" stroke-width="0.85"/>
<path d="M1170.1,214.3L1172.75,219.2L1170.1,224.1L1167.45,219.2Z" fill="#26b4b4" stroke="#002020" stroke-width="0.85"/>
<path d="M1185.43,212L1188.08,216.9L1185.43,221.8L1182.78,216.9Z" fill="#26b4b4" stroke="#002020" stroke-width="0.85"/>
<path d="M1200.77,209.7L1203.42,214.6L1200.77,219.5L1198.12,214.6Z" fill="#26b4b4" stroke="#002020" stroke-width="0.85"/>
<path d="M1216.11,207.4L1218.76,212.3L1216.11,217.2L1213.46,212.3Z" fill="#26b4b4" stroke="#002020" stroke-width="0.85"/>
<path d="M1231.45,204.4L1234.1,209.3L1231.45,214.2L1228.8,209.3Z" fill="#26b4b4" stroke="#002020" stroke-width="0.85"/>
<path d="M1246.79,202.1L1249.44,207L1246.79,211.9L1244.14,207Z" fill="#26b4b4" stroke="#002020" stroke-width="0.85"/>
<path d="M1262.13,199.4L1264.78,204.3L1262.13,209.2L1259.48,204.3Z" fill="#26b4b4" stroke="#002020" stroke-width="0.85"/>
<path d="M1277.47,197.1L1280.12,202L1277.47,206.9L1274.82,202Z" fill="#26b4b4" stroke="#002020" stroke-width="0.85"/>
<path d="M1292.8,194.3L1295.45,199.2L1292.8,204.1L1290.15,199.2Z" fill="#26b4b4" stroke="#002020" stroke-width="0.85"/>
<path d="M1308.14,190.6L1310.79,195.5L1308.14,200.4L1305.49,195.5Z" fill="#26b4b4" stroke="#002020" stroke-width="0.85"/>
<path d="M1323.48,187.9L1326.13,192.8L1323.48,197.7L1320.83,192.8Z" fill="#26b4b4" stroke="#002020" stroke-width="0.85"/>
<path d="M1009.5,228L1016.71,227.9L1047.39,226.7L1062.73,225.6L1078.06,224.5L1093.4,221.7L1108.74,218.9L1124.08,215.5L1139.42,210L1154.76,204.3L1170.1,198.5L1185.43,192.8L1200.77,187.7L1216.11,185.4L1231.45,183.2L1246.79,181.3L1262.13,180.2L1277.47,178.6L1292.8,177.2L1308.14,175.6L1323.48,174L1325,173.8" fill="none" stroke="#b00000" stroke-width="1.1" stroke-linejoin="round"/>
<rect x="1013.51" y="224.7" width="6.4" height="6.4" fill="#f80000" stroke="#200000" stroke-width="0.85"/>
<rect x="1028.85" y="224.1" width="6.4" height="6.4" fill="#f80000" stroke="#200000" stroke-width="0.85"/>
<rect x="1044.19" y="223.5" width="6.4" height="6.4" fill="#f80000" stroke="#200000" stroke-width="0.85"/>
<rect x="1059.53" y="222.4" width="6.4" height="6.4" fill="#f80000" stroke="#200000" stroke-width="0.85"/>
<rect x="1074.86" y="221.3" width="6.4" height="6.4" fill="#f80000" stroke="#200000" stroke-width="0.85"/>
<rect x="1090.2" y="218.5" width="6.4" height="6.4" fill="#f80000" stroke="#200000" stroke-width="0.85"/>
<rect x="1105.54" y="215.7" width="6.4" height="6.4" fill="#f80000" stroke="#200000" stroke-width="0.85"/>
<rect x="1120.88" y="212.3" width="6.4" height="6.4" fill="#f80000" stroke="#200000" stroke-width="0.85"/>
<rect x="1136.22" y="206.8" width="6.4" height="6.4" fill="#f80000" stroke="#200000" stroke-width="0.85"/>
<rect x="1151.56" y="201.1" width="6.4" height="6.4" fill="#f80000" stroke="#200000" stroke-width="0.85"/>
<rect x="1166.9" y="195.3" width="6.4" height="6.4" fill="#f80000" stroke="#200000" stroke-width="0.85"/>
<rect x="1182.23" y="189.6" width="6.4" height="6.4" fill="#f80000" stroke="#200000" stroke-width="0.85"/>
<rect x="1197.57" y="184.5" width="6.4" height="6.4" fill="#f80000" stroke="#200000" stroke-width="0.85"/>
<rect x="1212.91" y="182.2" width="6.4" height="6.4" fill="#f80000" stroke="#200000" stroke-width="0.85"/>
<rect x="1228.25" y="180" width="6.4" height="6.4" fill="#f80000" stroke="#200000" stroke-width="0.85"/>
<rect x="1243.59" y="178.1" width="6.4" height="6.4" fill="#f80000" stroke="#200000" stroke-width="0.85"/>
<rect x="1258.93" y="177" width="6.4" height="6.4" fill="#f80000" stroke="#200000" stroke-width="0.85"/>
<rect x="1274.27" y="175.4" width="6.4" height="6.4" fill="#f80000" stroke="#200000" stroke-width="0.85"/>
<rect x="1289.6" y="174" width="6.4" height="6.4" fill="#f80000" stroke="#200000" stroke-width="0.85"/>
<rect x="1304.94" y="172.4" width="6.4" height="6.4" fill="#f80000" stroke="#200000" stroke-width="0.85"/>
<rect x="1320.28" y="170.8" width="6.4" height="6.4" fill="#f80000" stroke="#200000" stroke-width="0.85"/>
<path d="M1009.5,193L1130,178.5L1324.4,156.7" fill="none" stroke="#f4cc1e" stroke-width="3.4" stroke-linejoin="round"/>
</g>
<rect x="1009.5" y="5.4" width="314.9" height="224.9" fill="none" stroke="#000" stroke-width="1.3"/>
<path d="M1041.1,230.3v-2.3M1041.1,5.4v2.3M1059.58,230.3v-2.3M1059.58,5.4v2.3M1072.7,230.3v-2.3M1072.7,5.4v2.3M1082.87,230.3v-2.3M1082.87,5.4v2.3M1091.18,230.3v-2.3M1091.18,5.4v2.3M1098.21,230.3v-2.3M1098.21,5.4v2.3M1104.29,230.3v-2.3M1104.29,5.4v2.3M1109.66,230.3v-2.3M1109.66,5.4v2.3M1114.47,230.3v-4.5M1114.47,5.4v4.5M1146.06,230.3v-2.3M1146.06,5.4v2.3M1164.55,230.3v-2.3M1164.55,5.4v2.3M1177.66,230.3v-2.3M1177.66,5.4v2.3M1187.84,230.3v-2.3M1187.84,5.4v2.3M1196.15,230.3v-2.3M1196.15,5.4v2.3M1203.17,230.3v-2.3M1203.17,5.4v2.3M1209.26,230.3v-2.3M1209.26,5.4v2.3M1214.63,230.3v-2.3M1214.63,5.4v2.3M1219.43,230.3v-4.5M1219.43,5.4v4.5M1251.03,230.3v-2.3M1251.03,5.4v2.3M1269.52,230.3v-2.3M1269.52,5.4v2.3M1282.63,230.3v-2.3M1282.63,5.4v2.3M1292.8,230.3v-2.3M1292.8,5.4v2.3M1301.11,230.3v-2.3M1301.11,5.4v2.3M1308.14,230.3v-2.3M1308.14,5.4v2.3M1314.23,230.3v-2.3M1314.23,5.4v2.3M1319.6,230.3v-2.3M1319.6,5.4v2.3M1009.5,196.8h4.5M1324.4,196.8h-4.5M1009.5,163.3h4.5M1324.4,163.3h-4.5M1009.5,129.8h4.5M1324.4,129.8h-4.5M1009.5,96.3h4.5M1324.4,96.3h-4.5M1009.5,62.8h4.5M1324.4,62.8h-4.5M1009.5,29.3h4.5M1324.4,29.3h-4.5" stroke="#000" stroke-width="1.05" fill="none"/>
<text transform="translate(1010,249.9) scale(0.9,1)" font-family="'Liberation Serif', serif" font-size="21.8" fill="#333" text-anchor="middle">10<tspan dy="-7.3" font-size="15">3</tspan></text>
<text transform="translate(1114.97,249.9) scale(0.9,1)" font-family="'Liberation Serif', serif" font-size="21.8" fill="#333" text-anchor="middle">10<tspan dy="-7.3" font-size="15">4</tspan></text>
<text transform="translate(1219.93,249.9) scale(0.9,1)" font-family="'Liberation Serif', serif" font-size="21.8" fill="#333" text-anchor="middle">10<tspan dy="-7.3" font-size="15">5</tspan></text>
<text transform="translate(1324.9,249.9) scale(0.9,1)" font-family="'Liberation Serif', serif" font-size="21.8" fill="#333" text-anchor="middle">10<tspan dy="-7.3" font-size="15">6</tspan></text>
<text transform="translate(1005.5,237.3) scale(0.9,1)" font-family="'Liberation Serif', serif" font-size="21.8" fill="#333" text-anchor="end">0</text>
<text transform="translate(1005.5,203.8) scale(0.9,1)" font-family="'Liberation Serif', serif" font-size="21.8" fill="#333" text-anchor="end">500</text>
<text transform="translate(1005.5,170.3) scale(0.9,1)" font-family="'Liberation Serif', serif" font-size="21.8" fill="#333" text-anchor="end">1000</text>
<text transform="translate(1005.5,136.8) scale(0.9,1)" font-family="'Liberation Serif', serif" font-size="21.8" fill="#333" text-anchor="end">1500</text>
<text transform="translate(1005.5,103.3) scale(0.9,1)" font-family="'Liberation Serif', serif" font-size="21.8" fill="#333" text-anchor="end">2000</text>
<text transform="translate(1005.5,69.8) scale(0.9,1)" font-family="'Liberation Serif', serif" font-size="21.8" fill="#333" text-anchor="end">2500</text>
<text transform="translate(1005.5,36.3) scale(0.9,1)" font-family="'Liberation Serif', serif" font-size="21.8" fill="#333" text-anchor="end">3000</text>
<text transform="translate(1166.95,274.7) scale(1.09,1)" font-family="'Liberation Serif', serif" font-size="22.5" fill="#000" stroke="#000" stroke-width="0.35" text-anchor="middle">t: round</text>
<text transform="translate(954.4,121.65) rotate(-90) scale(1.09,1)" font-family="'Liberation Serif', serif" font-size="22.5" fill="#000" stroke="#000" stroke-width="0.35" text-anchor="middle">R(t): regret</text>
<text x="1011.9" y="313.6" font-family="'Liberation Sans', sans-serif" font-size="31" fill="#000">(c) <tspan dx="4">three-states, harsh</tspan></text>
<rect x="1016.5" y="12.5" width="140.4" height="150.6" fill="#fff" stroke="#000" stroke-width="1.1"/>
<path d="M1026.3,24.6h20" stroke="#000000" stroke-width="1.1"/>
<path d="M1023.6,21L1030.26,24.6L1023.6,28.2Z" fill="#1a1a1a" stroke="#000000" stroke-width="0.85"/>
<path d="M1043.6,21L1050.26,24.6L1043.6,28.2Z" fill="#1a1a1a" stroke="#000000" stroke-width="0.85"/>
<text x="1062.9" y="30.1" font-family="'Liberation Serif', serif" font-size="16" fill="#000" stroke="#000" stroke-width="0.25">Random</text>
<path d="M1026.3,45.35h20" stroke="#0a800a" stroke-width="1.1"/>
<path d="M1026.3,40.95L1030.7,45.35L1026.3,49.75L1021.9,45.35Z" fill="#005f00" stroke="#001a00" stroke-width="0.85"/>
<path d="M1046.3,40.95L1050.7,45.35L1046.3,49.75L1041.9,45.35Z" fill="#005f00" stroke="#001a00" stroke-width="0.85"/>
<text x="1062.9" y="50.85" font-family="'Liberation Serif', serif" font-size="16" fill="#000" stroke="#000" stroke-width="0.25">FeedExp3</text>
<path d="M1026.3,66.1h20" stroke="#555555" stroke-width="1.1"/>
<path d="M1023.1,62.9L1029.5,69.3M1023.1,69.3L1029.5,62.9" stroke="#555555" stroke-width="0.9" fill="none"/>
<path d="M1043.1,62.9L1049.5,69.3M1043.1,69.3L1049.5,62.9" stroke="#555555" stroke-width="0.9" fill="none"/>
<text x="1062.9" y="71.6" font-family="'Liberation Serif', serif" font-size="16" fill="#000" stroke="#000" stroke-width="0.25">CBP</text>
<path d="M1026.3,86.85h20" stroke="#0000c8" stroke-width="1.1"/>
<circle cx="1026.3" cy="86.85" r="3.25" fill="#0000e6" stroke="#00003a" stroke-width="0.85"/>
<circle cx="1046.3" cy="86.85" r="3.25" fill="#0000e6" stroke="#00003a" stroke-width="0.85"/>
<text x="1062.9" y="92.35" font-family="'Liberation Serif', serif" font-size="16" fill="#000" stroke="#000" stroke-width="0.25">BPM-LEAST</text>
<path d="M1026.3,107.6h20" stroke="#10c0c0" stroke-width="1.1"/>
<path d="M1026.3,102.7L1028.95,107.6L1026.3,112.5L1023.65,107.6Z" fill="#26b4b4" stroke="#002020" stroke-width="0.85"/>
<path d="M1046.3,102.7L1048.95,107.6L1046.3,112.5L1043.65,107.6Z" fill="#26b4b4" stroke="#002020" stroke-width="0.85"/>
<text x="1062.9" y="113.1" font-family="'Liberation Serif', serif" font-size="16" fill="#000" stroke="#000" stroke-width="0.25">BPM-TS</text>
<path d="M1026.3,128.35h20" stroke="#b00000" stroke-width="1.1"/>
<rect x="1023.1" y="125.15" width="6.4" height="6.4" fill="#f80000" stroke="#200000" stroke-width="0.85"/>
<rect x="1043.1" y="125.15" width="6.4" height="6.4" fill="#f80000" stroke="#200000" stroke-width="0.85"/>
<text x="1062.9" y="133.85" font-family="'Liberation Serif', serif" font-size="16" fill="#000" stroke="#000" stroke-width="0.25">PM-DMED</text>
<path d="M1024.8,149.1h23.8" stroke="#f4cc1e" stroke-width="3.4"/>
<text x="1062.9" y="154.6" font-family="'Liberation Serif', serif" font-size="16" fill="#000" stroke="#000" stroke-width="0.25">LB</text>
<g clip-path="url(#clipd)">
<path d="M70.5,582.2L150,580L170.2,577L185.54,570L193.21,562.7L200.88,556.2L208.55,546.6L216.22,534L223.89,514.1L231.55,487.2L239.22,448.7L246.89,395.4L254.56,340L262.23,280" fill="none" stroke="#000000" stroke-width="1.1" stroke-linejoin="round"/>
<path d="M67.8,578.6L74.46,582.2L67.8,585.8Z" fill="#1a1a1a" stroke="#000000" stroke-width="0.85"/>
<path d="M75.47,578.39L82.13,581.99L75.47,585.59Z" fill="#1a1a1a" stroke="#000000" stroke-width="0.85"/>
<path d="M83.14,578.18L89.8,581.78L83.14,585.38Z" fill="#1a1a1a" stroke="#000000" stroke-width="0.85"/>
<path d="M90.81,577.96L97.47,581.56L90.81,585.16Z" fill="#1a1a1a" stroke="#000000" stroke-width="0.85"/>
<path d="M98.48,577.75L105.14,581.35L98.48,584.95Z" fill="#1a1a1a" stroke="#000000" stroke-width="0.85"/>
<path d="M106.15,577.54L112.81,581.14L106.15,584.74Z" fill="#1a1a1a" stroke="#000000" stroke-width="0.85"/>
<path d="M113.82,577.33L120.48,580.93L113.82,584.53Z" fill="#1a1a1a" stroke="#000000" stroke-width="0.85"/>
<path d="M121.48,577.11L128.14,580.71L121.48,584.31Z" fill="#1a1a1a" stroke="#000000" stroke-width="0.85"/>
<path d="M129.15,576.9L135.81,580.5L129.15,584.1Z" fill="#1a1a1a" stroke="#000000" stroke-width="0.85"/>
<path d="M136.82,576.69L143.48,580.29L136.82,583.89Z" fill="#1a1a1a" stroke="#000000" stroke-width="0.85"/>
<path d="M144.49,576.48L151.15,580.08L144.49,583.68Z" fill="#1a1a1a" stroke="#000000" stroke-width="0.85"/>
<path d="M152.16,575.68L158.82,579.28L152.16,582.88Z" fill="#1a1a1a" stroke="#000000" stroke-width="0.85"/>
<path d="M159.83,574.54L166.49,578.14L159.83,581.74Z" fill="#1a1a1a" stroke="#000000" stroke-width="0.85"/>
<path d="M167.5,573.4L174.16,577L167.5,580.6Z" fill="#1a1a1a" stroke="#000000" stroke-width="0.85"/>
<path d="M175.17,569.9L181.83,573.5L175.17,577.1Z" fill="#1a1a1a" stroke="#000000" stroke-width="0.85"/>
<path d="M182.84,566.4L189.5,570L182.84,573.6Z" fill="#1a1a1a" stroke="#000000" stroke-width="0.85"/>
<path d="M190.51,559.1L197.17,562.7L190.51,566.3Z" fill="#1a1a1a" stroke="#000000" stroke-width="0.85"/>
<path d="M198.18,552.6L204.84,556.2L198.18,559.8Z" fill="#1a1a1a" stroke="#000000" stroke-width="0.85"/>
<path d="M205.85,543L212.51,546.6L205.85,550.2Z" fill="#1a1a1a" stroke="#000000" stroke-width="0.85"/>
<path d="M213.52,530.4L220.18,534L213.52,537.6Z" fill="#1a1a1a" stroke="#000000" stroke-width="0.85"/>
<path d="M221.19,510.5L227.85,514.1L221.19,517.7Z" fill="#1a1a1a" stroke="#000000" stroke-width="0.85"/>
<path d="M228.85,483.6L235.51,487.2L228.85,490.8Z" fill="#1a1a1a" stroke="#000000" stroke-width="0.85"/>
<path d="M236.52,445.1L243.18,448.7L236.52,452.3Z" fill="#1a1a1a" stroke="#000000" stroke-width="0.85"/>
<path d="M244.19,391.8L250.85,395.4L244.19,399Z" fill="#1a1a1a" stroke="#000000" stroke-width="0.85"/>
<path d="M70.5,582.2L150,580L170.2,576.5L185.54,569L200.88,562L208.55,557.3L216.22,551.4L223.89,544.6L231.55,534.8L239.22,522.6L246.89,507.9L254.56,487.7L262.23,460.2L269.9,423L277.57,371.1L285.24,310L292.91,250" fill="none" stroke="#0a800a" stroke-width="1.1" stroke-linejoin="round"/>
<path d="M70.5,577.8L74.9,582.2L70.5,586.6L66.1,582.2Z" fill="#005f00" stroke="#001a00" stroke-width="0.85"/>
<path d="M78.17,577.59L82.57,581.99L78.17,586.39L73.77,581.99Z" fill="#005f00" stroke="#001a00" stroke-width="0.85"/>
<path d="M85.84,577.38L90.24,581.78L85.84,586.18L81.44,581.78Z" fill="#005f00" stroke="#001a00" stroke-width="0.85"/>
<path d="M93.51,577.16L97.91,581.56L93.51,585.96L89.11,581.56Z" fill="#005f00" stroke="#001a00" stroke-width="0.85"/>
<path d="M101.18,576.95L105.58,581.35L101.18,585.75L96.78,581.35Z" fill="#005f00" stroke="#001a00" stroke-width="0.85"/>
<path d="M108.85,576.74L113.25,581.14L108.85,585.54L104.45,581.14Z" fill="#005f00" stroke="#001a00" stroke-width="0.85"/>
<path d="M116.52,576.53L120.92,580.93L116.52,585.33L112.12,580.93Z" fill="#005f00" stroke="#001a00" stroke-width="0.85"/>
<path d="M124.18,576.31L128.58,580.71L124.18,585.11L119.78,580.71Z" fill="#005f00" stroke="#001a00" stroke-width="0.85"/>
<path d="M131.85,576.1L136.25,580.5L131.85,584.9L127.45,580.5Z" fill="#005f00" stroke="#001a00" stroke-width="0.85"/>
<path d="M139.52,575.89L143.92,580.29L139.52,584.69L135.12,580.29Z" fill="#005f00" stroke="#001a00" stroke-width="0.85"/>
<path d="M147.19,575.68L151.59,580.08L147.19,584.48L142.79,580.08Z" fill="#005f00" stroke="#001a00" stroke-width="0.85"/>
<path d="M154.86,574.76L159.26,579.16L154.86,583.56L150.46,579.16Z" fill="#005f00" stroke="#001a00" stroke-width="0.85"/>
<path d="M162.53,573.43L166.93,577.83L162.53,582.23L158.13,577.83Z" fill="#005f00" stroke="#001a00" stroke-width="0.85"/>
<path d="M170.2,572.1L174.6,576.5L170.2,580.9L165.8,576.5Z" fill="#005f00" stroke="#001a00" stroke-width="0.85"/>
<path d="M177.87,568.35L182.27,572.75L177.87,577.15L173.47,572.75Z" fill="#005f00" stroke="#001a00" stroke-width="0.85"/>
<path d="M185.54,564.6L189.94,569L185.54,573.4L181.14,569Z" fill="#005f00" stroke="#001a00" stroke-width="0.85"/>
<path d="M193.21,561.1L197.61,565.5L193.21,569.9L188.81,565.5Z" fill="#005f00" stroke="#001a00" stroke-width="0.85"/>
<path d="M200.88,557.6L205.28,562L200.88,566.4L196.48,562Z" fill="#005f00" stroke="#001a00" stroke-width="0.85"/>
<path d="M208.55,552.9L212.95,557.3L208.55,561.7L204.15,557.3Z" fill="#005f00" stroke="#001a00" stroke-width="0.85"/>
<path d="M216.22,547L220.62,551.4L216.22,555.8L211.82,551.4Z" fill="#005f00" stroke="#001a00" stroke-width="0.85"/>
<path d="M223.89,540.2L228.29,544.6L223.89,549L219.49,544.6Z" fill="#005f00" stroke="#001a00" stroke-width="0.85"/>
<path d="M231.55,530.4L235.95,534.8L231.55,539.2L227.15,534.8Z" fill="#005f00" stroke="#001a00" stroke-width="0.85"/>
<path d="M239.22,518.2L243.62,522.6L239.22,527L234.82,522.6Z" fill="#005f00" stroke="#001a00" stroke-width="0.85"/>
<path d="M246.89,503.5L251.29,507.9L246.89,512.3L242.49,507.9Z" fill="#005f00" stroke="#001a00" stroke-width="0.85"/>
<path d="M254.56,483.3L258.96,487.7L254.56,492.1L250.16,487.7Z" fill="#005f00" stroke="#001a00" stroke-width="0.85"/>
<path d="M262.23,455.8L266.63,460.2L262.23,464.6L257.83,460.2Z" fill="#005f00" stroke="#001a00" stroke-width="0.85"/>
<path d="M269.9,418.6L274.3,423L269.9,427.4L265.5,423Z" fill="#005f00" stroke="#001a00" stroke-width="0.85"/>
<path d="M277.57,366.7L281.97,371.1L277.57,375.5L273.17,371.1Z" fill="#005f00" stroke="#001a00" stroke-width="0.85"/>
<path d="M70.5,582.2L150,580L170.2,576.5L185.54,570L193.21,564L200.88,557L208.55,548L216.22,536L223.89,518L231.55,492L239.22,454.4L246.89,418.9L254.56,383.3L262.23,340L269.9,290" fill="none" stroke="#555555" stroke-width="1.1" stroke-linejoin="round"/>
<path d="M67.3,579L73.7,585.4M67.3,585.4L73.7,579" stroke="#555555" stroke-width="0.9" fill="none"/>
<path d="M74.97,578.79L81.37,585.19M74.97,585.19L81.37,578.79" stroke="#555555" stroke-width="0.9" fill="none"/>
<path d="M82.64,578.58L89.04,584.98M82.64,584.98L89.04,578.58" stroke="#555555" stroke-width="0.9" fill="none"/>
<path d="M90.31,578.36L96.71,584.76M90.31,584.76L96.71,578.36" stroke="#555555" stroke-width="0.9" fill="none"/>
<path d="M97.98,578.15L104.38,584.55M97.98,584.55L104.38,578.15" stroke="#555555" stroke-width="0.9" fill="none"/>
<path d="M105.65,577.94L112.05,584.34M105.65,584.34L112.05,577.94" stroke="#555555" stroke-width="0.9" fill="none"/>
<path d="M113.32,577.73L119.72,584.13M113.32,584.13L119.72,577.73" stroke="#555555" stroke-width="0.9" fill="none"/>
<path d="M120.98,577.51L127.38,583.91M120.98,583.91L127.38,577.51" stroke="#555555" stroke-width="0.9" fill="none"/>
<path d="M128.65,577.3L135.05,583.7M128.65,583.7L135.05,577.3" stroke="#555555" stroke-width="0.9" fill="none"/>
<path d="M136.32,577.09L142.72,583.49M136.32,583.49L142.72,577.09" stroke="#555555" stroke-width="0.9" fill="none"/>
<path d="M143.99,576.88L150.39,583.28M143.99,583.28L150.39,576.88" stroke="#555555" stroke-width="0.9" fill="none"/>
<path d="M151.66,575.96L158.06,582.36M151.66,582.36L158.06,575.96" stroke="#555555" stroke-width="0.9" fill="none"/>
<path d="M159.33,574.63L165.73,581.03M159.33,581.03L165.73,574.63" stroke="#555555" stroke-width="0.9" fill="none"/>
<path d="M167,573.3L173.4,579.7M167,579.7L173.4,573.3" stroke="#555555" stroke-width="0.9" fill="none"/>
<path d="M174.67,570.05L181.07,576.45M174.67,576.45L181.07,570.05" stroke="#555555" stroke-width="0.9" fill="none"/>
<path d="M182.34,566.8L188.74,573.2M182.34,573.2L188.74,566.8" stroke="#555555" stroke-width="0.9" fill="none"/>
<path d="M190.01,560.8L196.41,567.2M190.01,567.2L196.41,560.8" stroke="#555555" stroke-width="0.9" fill="none"/>
<path d="M197.68,553.8L204.08,560.2M197.68,560.2L204.08,553.8" stroke="#555555" stroke-width="0.9" fill="none"/>
<path d="M205.35,544.8L211.75,551.2M205.35,551.2L211.75,544.8" stroke="#555555" stroke-width="0.9" fill="none"/>
<path d="M213.02,532.8L219.42,539.2M213.02,539.2L219.42,532.8" stroke="#555555" stroke-width="0.9" fill="none"/>
<path d="M220.69,514.8L227.09,521.2M220.69,521.2L227.09,514.8" stroke="#555555" stroke-width="0.9" fill="none"/>
<path d="M228.35,488.8L234.75,495.2M228.35,495.2L234.75,488.8" stroke="#555555" stroke-width="0.9" fill="none"/>
<path d="M236.02,451.2L242.42,457.6M236.02,457.6L242.42,451.2" stroke="#555555" stroke-width="0.9" fill="none"/>
<path d="M243.69,415.7L250.09,422.1M243.69,422.1L250.09,415.7" stroke="#555555" stroke-width="0.9" fill="none"/>
<path d="M251.36,380.1L257.76,386.5M251.36,386.5L257.76,380.1" stroke="#555555" stroke-width="0.9" fill="none"/>
<path d="M70.5,582.2L150,580L170.2,573.5L177.87,571.1L185.54,568.7L193.21,563L200.88,557.9L208.55,551.4L216.22,540.6L223.89,526.7L231.55,511.1L239.22,492.3L246.89,471.2L254.56,448.7L262.23,423.9L269.9,395.4L277.57,363.3L285.24,325L292.91,280" fill="none" stroke="#0000c8" stroke-width="1.1" stroke-linejoin="round"/>
<circle cx="70.5" cy="582.2" r="3.25" fill="#0000e6" stroke="#00003a" stroke-width="0.85"/>
<circle cx="78.17" cy="581.99" r="3.25" fill="#0000e6" stroke="#00003a" stroke-width="0.85"/>
<circle cx="85.84" cy="581.78" r="3.25" fill="#0000e6" stroke="#00003a" stroke-width="0.85"/>
<circle cx="93.51" cy="581.56" r="3.25" fill="#0000e6" stroke="#00003a" stroke-width="0.85"/>
<circle cx="101.18" cy="581.35" r="3.25" fill="#0000e6" stroke="#00003a" stroke-width="0.85"/>
<circle cx="108.85" cy="581.14" r="3.25" fill="#0000e6" stroke="#00003a" stroke-width="0.85"/>
<circle cx="116.52" cy="580.93" r="3.25" fill="#0000e6" stroke="#00003a" stroke-width="0.85"/>
<circle cx="124.18" cy="580.71" r="3.25" fill="#0000e6" stroke="#00003a" stroke-width="0.85"/>
<circle cx="131.85" cy="580.5" r="3.25" fill="#0000e6" stroke="#00003a" stroke-width="0.85"/>
<circle cx="139.52" cy="580.29" r="3.25" fill="#0000e6" stroke="#00003a" stroke-width="0.85"/>
<circle cx="147.19" cy="580.08" r="3.25" fill="#0000e6" stroke="#00003a" stroke-width="0.85"/>
<circle cx="154.86" cy="578.44" r="3.25" fill="#0000e6" stroke="#00003a" stroke-width="0.85"/>
<circle cx="162.53" cy="575.97" r="3.25" fill="#0000e6" stroke="#00003a" stroke-width="0.85"/>
<circle cx="170.2" cy="573.5" r="3.25" fill="#0000e6" stroke="#00003a" stroke-width="0.85"/>
<circle cx="177.87" cy="571.1" r="3.25" fill="#0000e6" stroke="#00003a" stroke-width="0.85"/>
<circle cx="185.54" cy="568.7" r="3.25" fill="#0000e6" stroke="#00003a" stroke-width="0.85"/>
<circle cx="193.21" cy="563" r="3.25" fill="#0000e6" stroke="#00003a" stroke-width="0.85"/>
<circle cx="200.88" cy="557.9" r="3.25" fill="#0000e6" stroke="#00003a" stroke-width="0.85"/>
<circle cx="208.55" cy="551.4" r="3.25" fill="#0000e6" stroke="#00003a" stroke-width="0.85"/>
<circle cx="216.22" cy="540.6" r="3.25" fill="#0000e6" stroke="#00003a" stroke-width="0.85"/>
<circle cx="223.89" cy="526.7" r="3.25" fill="#0000e6" stroke="#00003a" stroke-width="0.85"/>
<circle cx="231.55" cy="511.1" r="3.25" fill="#0000e6" stroke="#00003a" stroke-width="0.85"/>
<circle cx="239.22" cy="492.3" r="3.25" fill="#0000e6" stroke="#00003a" stroke-width="0.85"/>
<circle cx="246.89" cy="471.2" r="3.25" fill="#0000e6" stroke="#00003a" stroke-width="0.85"/>
<circle cx="254.56" cy="448.7" r="3.25" fill="#0000e6" stroke="#00003a" stroke-width="0.85"/>
<circle cx="262.23" cy="423.9" r="3.25" fill="#0000e6" stroke="#00003a" stroke-width="0.85"/>
<circle cx="269.9" cy="395.4" r="3.25" fill="#0000e6" stroke="#00003a" stroke-width="0.85"/>
<circle cx="277.57" cy="363.3" r="3.25" fill="#0000e6" stroke="#00003a" stroke-width="0.85"/>
<path d="M70.5,582.2L170.2,580.5L177.87,579.5L185.54,577.7L193.21,574.7L200.88,571.7L208.55,568.7L216.22,565.5L223.89,561.6L231.55,556.6L239.22,551.5L246.89,545.1L254.56,539.3L262.23,532.5L269.9,522.6L277.57,510.2L285.24,495.7L292.91,476.2L300.58,452.1L308.25,421.2L315.92,379.8L323.59,330L331.26,270" fill="none" stroke="#10c0c0" stroke-width="1.1" stroke-linejoin="round"/>
<path d="M70.5,577.3L73.15,582.2L70.5,587.1L67.85,582.2Z" fill="#26b4b4" stroke="#002020" stroke-width="0.85"/>
<path d="M78.17,577.17L80.82,582.07L78.17,586.97L75.52,582.07Z" fill="#26b4b4" stroke="#002020" stroke-width="0.85"/>
<path d="M85.84,577.04L88.49,581.94L85.84,586.84L83.19,581.94Z" fill="#26b4b4" stroke="#002020" stroke-width="0.85"/>
<path d="M93.51,576.91L96.16,581.81L93.51,586.71L90.86,581.81Z" fill="#26b4b4" stroke="#002020" stroke-width="0.85"/>
<path d="M101.18,576.78L103.83,581.68L101.18,586.58L98.53,581.68Z" fill="#26b4b4" stroke="#002020" stroke-width="0.85"/>
<path d="M108.85,576.65L111.5,581.55L108.85,586.45L106.2,581.55Z" fill="#26b4b4" stroke="#002020" stroke-width="0.85"/>
<path d="M116.52,576.52L119.17,581.42L116.52,586.32L113.87,581.42Z" fill="#26b4b4" stroke="#002020" stroke-width="0.85"/>
<path d="M124.18,576.38L126.83,581.28L124.18,586.18L121.53,581.28Z" fill="#26b4b4" stroke="#002020" stroke-width="0.85"/>
<path d="M131.85,576.25L134.5,581.15L131.85,586.05L129.2,581.15Z" fill="#26b4b4" stroke="#002020" stroke-width="0.85"/>
<path d="M139.52,576.12L142.17,581.02L139.52,585.92L136.87,581.02Z" fill="#26b4b4" stroke="#002020" stroke-width="0.85"/>
<path d="M147.19,575.99L149.84,580.89L147.19,585.79L144.54,580.89Z" fill="#26b4b4" stroke="#002020" stroke-width="0.85"/>
<path d="M154.86,575.86L157.51,580.76L154.86,585.66L152.21,580.76Z" fill="#26b4b4" stroke="#002020" stroke-width="0.85"/>
<path d="M162.53,575.73L165.18,580.63L162.53,585.53L159.88,580.63Z" fill="#26b4b4" stroke="#002020" stroke-width="0.85"/>
<path d="M170.2,575.6L172.85,580.5L170.2,585.4L167.55,580.5Z" fill="#26b4b4" stroke="#002020" stroke-width="0.85"/>
<path d="M177.87,574.6L180.52,579.5L177.87,584.4L175.22,579.5Z" fill="#26b4b4" stroke="#002020" stroke-width="0.85"/>
<path d="M185.54,572.8L188.19,577.7L185.54,582.6L182.89,577.7Z" fill="#26b4b4" stroke="#002020" stroke-width="0.85"/>
<path d="M193.21,569.8L195.86,574.7L193.21,579.6L190.56,574.7Z" fill="#26b4b4" stroke="#002020" stroke-width="0.85"/>
<path d="M200.88,566.8L203.53,571.7L200.88,576.6L198.23,571.7Z" fill="#26b4b4" stroke="#002020" stroke-width="0.85"/>
<path d="M208.55,563.8L211.2,568.7L208.55,573.6L205.9,568.7Z" fill="#26b4b4" stroke="#002020" stroke-width="0.85"/>
<path d="M216.22,560.6L218.87,565.5L216.22,570.4L213.57,565.5Z" fill="#26b4b4" stroke="#002020" stroke-width="0.85"/>
<path d="M223.89,556.7L226.54,561.6L223.89,566.5L221.24,561.6Z" fill="#26b4b4" stroke="#002020" stroke-width="0.85"/>
<path d="M231.55,551.7L234.2,556.6L231.55,561.5L228.9,556.6Z" fill="#26b4b4" stroke="#002020" stroke-width="0.85"/>
<path d="M239.22,546.6L241.87,551.5L239.22,556.4L236.57,551.5Z" fill="#26b4b4" stroke="#002020" stroke-width="0.85"/>
<path d="M246.89,540.2L249.54,545.1L246.89,550L244.24,545.1Z" fill="#26b4b4" stroke="#002020" stroke-width="0.85"/>
<path d="M254.56,534.4L257.21,539.3L254.56,544.2L251.91,539.3Z" fill="#26b4b4" stroke="#002020" stroke-width="0.85"/>
<path d="M262.23,527.6L264.88,532.5L262.23,537.4L259.58,532.5Z" fill="#26b4b4" stroke="#002020" stroke-width="0.85"/>
<path d="M269.9,517.7L272.55,522.6L269.9,527.5L267.25,522.6Z" fill="#26b4b4" stroke="#002020" stroke-width="0.85"/>
<path d="M277.57,505.3L280.22,510.2L277.57,515.1L274.92,510.2Z" fill="#26b4b4" stroke="#002020" stroke-width="0.85"/>
<path d="M285.24,490.8L287.89,495.7L285.24,500.6L282.59,495.7Z" fill="#26b4b4" stroke="#002020" stroke-width="0.85"/>
<path d="M292.91,471.3L295.56,476.2L292.91,481.1L290.26,476.2Z" fill="#26b4b4" stroke="#002020" stroke-width="0.85"/>
<path d="M300.58,447.2L303.23,452.1L300.58,457L297.93,452.1Z" fill="#26b4b4" stroke="#002020" stroke-width="0.85"/>
<path d="M308.25,416.3L310.9,421.2L308.25,426.1L305.6,421.2Z" fill="#26b4b4" stroke="#002020" stroke-width="0.85"/>
<path d="M315.92,374.9L318.57,379.8L315.92,384.7L313.27,379.8Z" fill="#26b4b4" stroke="#002020" stroke-width="0.85"/>
<path d="M70.5,582.2L139.52,580.5L154.86,578.9L162.53,578.3L170.2,577.7L177.87,575.3L185.54,572.9L193.21,570.5L200.88,566.3L208.55,562.7L216.22,557.5L223.89,553.2L231.55,549.7L239.22,547.4L246.89,546.2L254.56,543.9L262.23,541.6L269.9,540.5L277.57,539.3L285.24,539.3L292.91,537.7L300.58,536.4L308.25,535.4L315.92,534.8L323.59,534.1L331.26,533.2L338.92,532.5L346.59,531.3L354.26,530.2L361.93,529L369.6,527.9L377.27,526.3L384.94,525.6L385.4,525.3" fill="none" stroke="#b00000" stroke-width="1.1" stroke-linejoin="round"/>
<rect x="67.3" y="579" width="6.4" height="6.4" fill="#f80000" stroke="#200000" stroke-width="0.85"/>
<rect x="74.97" y="578.81" width="6.4" height="6.4" fill="#f80000" stroke="#200000" stroke-width="0.85"/>
<rect x="82.64" y="578.62" width="6.4" height="6.4" fill="#f80000" stroke="#200000" stroke-width="0.85"/>
<rect x="90.31" y="578.43" width="6.4" height="6.4" fill="#f80000" stroke="#200000" stroke-width="0.85"/>
<rect x="97.98" y="578.24" width="6.4" height="6.4" fill="#f80000" stroke="#200000" stroke-width="0.85"/>
<rect x="105.65" y="578.06" width="6.4" height="6.4" fill="#f80000" stroke="#200000" stroke-width="0.85"/>
<rect x="113.32" y="577.87" width="6.4" height="6.4" fill="#f80000" stroke="#200000" stroke-width="0.85"/>
<rect x="120.98" y="577.68" width="6.4" height="6.4" fill="#f80000" stroke="#200000" stroke-width="0.85"/>
<rect x="128.65" y="577.49" width="6.4" height="6.4" fill="#f80000" stroke="#200000" stroke-width="0.85"/>
<rect x="136.32" y="577.3" width="6.4" height="6.4" fill="#f80000" stroke="#200000" stroke-width="0.85"/>
<rect x="143.99" y="576.5" width="6.4" height="6.4" fill="#f80000" stroke="#200000" stroke-width="0.85"/>
<rect x="151.66" y="575.7" width="6.4" height="6.4" fill="#f80000" stroke="#200000" stroke-width="0.85"/>
<rect x="159.33" y="575.1" width="6.4" height="6.4" fill="#f80000" stroke="#200000" stroke-width="0.85"/>
<rect x="167" y="574.5" width="6.4" height="6.4" fill="#f80000" stroke="#200000" stroke-width="0.85"/>
<rect x="174.67" y="572.1" width="6.4" height="6.4" fill="#f80000" stroke="#200000" stroke-width="0.85"/>
<rect x="182.34" y="569.7" width="6.4" height="6.4" fill="#f80000" stroke="#200000" stroke-width="0.85"/>
<rect x="190.01" y="567.3" width="6.4" height="6.4" fill="#f80000" stroke="#200000" stroke-width="0.85"/>
<rect x="197.68" y="563.1" width="6.4" height="6.4" fill="#f80000" stroke="#200000" stroke-width="0.85"/>
<rect x="205.35" y="559.5" width="6.4" height="6.4" fill="#f80000" stroke="#200000" stroke-width="0.85"/>
<rect x="213.02" y="554.3" width="6.4" height="6.4" fill="#f80000" stroke="#200000" stroke-width="0.85"/>
<rect x="220.69" y="550" width="6.4" height="6.4" fill="#f80000" stroke="#200000" stroke-width="0.85"/>
<rect x="228.35" y="546.5" width="6.4" height="6.4" fill="#f80000" stroke="#200000" stroke-width="0.85"/>
<rect x="236.02" y="544.2" width="6.4" height="6.4" fill="#f80000" stroke="#200000" stroke-width="0.85"/>
<rect x="243.69" y="543" width="6.4" height="6.4" fill="#f80000" stroke="#200000" stroke-width="0.85"/>
<rect x="251.36" y="540.7" width="6.4" height="6.4" fill="#f80000" stroke="#200000" stroke-width="0.85"/>
<rect x="259.03" y="538.4" width="6.4" height="6.4" fill="#f80000" stroke="#200000" stroke-width="0.85"/>
<rect x="266.7" y="537.3" width="6.4" height="6.4" fill="#f80000" stroke="#200000" stroke-width="0.85"/>
<rect x="274.37" y="536.1" width="6.4" height="6.4" fill="#f80000" stroke="#200000" stroke-width="0.85"/>
<rect x="282.04" y="536.1" width="6.4" height="6.4" fill="#f80000" stroke="#200000" stroke-width="0.85"/>
<rect x="289.71" y="534.5" width="6.4" height="6.4" fill="#f80000" stroke="#200000" stroke-width="0.85"/>
<rect x="297.38" y="533.2" width="6.4" height="6.4" fill="#f80000" stroke="#200000" stroke-width="0.85"/>
<rect x="305.05" y="532.2" width="6.4" height="6.4" fill="#f80000" stroke="#200000" stroke-width="0.85"/>
<rect x="312.72" y="531.6" width="6.4" height="6.4" fill="#f80000" stroke="#200000" stroke-width="0.85"/>
<rect x="320.39" y="530.9" width="6.4" height="6.4" fill="#f80000" stroke="#200000" stroke-width="0.85"/>
<rect x="328.06" y="530" width="6.4" height="6.4" fill="#f80000" stroke="#200000" stroke-width="0.85"/>
<rect x="335.72" y="529.3" width="6.4" height="6.4" fill="#f80000" stroke="#200000" stroke-width="0.85"/>
<rect x="343.39" y="528.1" width="6.4" height="6.4" fill="#f80000" stroke="#200000" stroke-width="0.85"/>
<rect x="351.06" y="527" width="6.4" height="6.4" fill="#f80000" stroke="#200000" stroke-width="0.85"/>
<rect x="358.73" y="525.8" width="6.4" height="6.4" fill="#f80000" stroke="#200000" stroke-width="0.85"/>
<rect x="366.4" y="524.7" width="6.4" height="6.4" fill="#f80000" stroke="#200000" stroke-width="0.85"/>
<rect x="374.07" y="523.1" width="6.4" height="6.4" fill="#f80000" stroke="#200000" stroke-width="0.85"/>
<rect x="381.74" y="522.4" width="6.4" height="6.4" fill="#f80000" stroke="#200000" stroke-width="0.85"/>
<path d="M70.5,582.2L175,564.8L280,548.5L385.4,532.3" fill="none" stroke="#f4cc1e" stroke-width="3.4" stroke-linejoin="round"/>
</g>
<rect x="70.5" y="357.4" width="314.9" height="224.8" fill="none" stroke="#000" stroke-width="1.3"/>
<path d="M86.3,582.2v-2.3M86.3,357.4v2.3M95.54,582.2v-2.3M95.54,357.4v2.3M102.1,582.2v-2.3M102.1,357.4v2.3M107.18,582.2v-2.3M107.18,357.4v2.3M111.34,582.2v-2.3M111.34,357.4v2.3M114.85,582.2v-2.3M114.85,357.4v2.3M117.9,582.2v-2.3M117.9,357.4v2.3M120.58,582.2v-2.3M120.58,357.4v2.3M122.98,582.2v-4.5M122.98,357.4v4.5M138.78,582.2v-2.3M138.78,357.4v2.3M148.02,582.2v-2.3M148.02,357.4v2.3M154.58,582.2v-2.3M154.58,357.4v2.3M159.67,582.2v-2.3M159.67,357.4v2.3M163.82,582.2v-2.3M163.82,357.4v2.3M167.34,582.2v-2.3M167.34,357.4v2.3M170.38,582.2v-2.3M170.38,357.4v2.3M173.07,582.2v-2.3M173.07,357.4v2.3M175.47,582.2v-4.5M175.47,357.4v4.5M191.27,582.2v-2.3M191.27,357.4v2.3M200.51,582.2v-2.3M200.51,357.4v2.3M207.06,582.2v-2.3M207.06,357.4v2.3M212.15,582.2v-2.3M212.15,357.4v2.3M216.31,582.2v-2.3M216.31,357.4v2.3M219.82,582.2v-2.3M219.82,357.4v2.3M222.86,582.2v-2.3M222.86,357.4v2.3M225.55,582.2v-2.3M225.55,357.4v2.3M227.95,582.2v-4.5M227.95,357.4v4.5M243.75,582.2v-2.3M243.75,357.4v2.3M252.99,582.2v-2.3M252.99,357.4v2.3M259.55,582.2v-2.3M259.55,357.4v2.3M264.63,582.2v-2.3M264.63,357.4v2.3M268.79,582.2v-2.3M268.79,357.4v2.3M272.3,582.2v-2.3M272.3,357.4v2.3M275.35,582.2v-2.3M275.35,357.4v2.3M278.03,582.2v-2.3M278.03,357.4v2.3M280.43,582.2v-4.5M280.43,357.4v4.5M296.23,582.2v-2.3M296.23,357.4v2.3M305.47,582.2v-2.3M305.47,357.4v2.3M312.03,582.2v-2.3M312.03,357.4v2.3M317.12,582.2v-2.3M317.12,357.4v2.3M321.27,582.2v-2.3M321.27,357.4v2.3M324.79,582.2v-2.3M324.79,357.4v2.3M327.83,582.2v-2.3M327.83,357.4v2.3M330.52,582.2v-2.3M330.52,357.4v2.3M332.92,582.2v-4.5M332.92,357.4v4.5M348.72,582.2v-2.3M348.72,357.4v2.3M357.96,582.2v-2.3M357.96,357.4v2.3M364.51,582.2v-2.3M364.51,357.4v2.3M369.6,582.2v-2.3M369.6,357.4v2.3M373.76,582.2v-2.3M373.76,357.4v2.3M377.27,582.2v-2.3M377.27,357.4v2.3M380.31,582.2v-2.3M380.31,357.4v2.3M383,582.2v-2.3M383,357.4v2.3M70.5,551.66h4.5M385.4,551.66h-4.5M70.5,521.11h4.5M385.4,521.11h-4.5M70.5,490.57h4.5M385.4,490.57h-4.5M70.5,460.03h4.5M385.4,460.03h-4.5M70.5,429.49h4.5M385.4,429.49h-4.5M70.5,398.94h4.5M385.4,398.94h-4.5M70.5,368.4h4.5M385.4,368.4h-4.5" stroke="#000" stroke-width="1.05" fill="none"/>
<text transform="translate(71,601.8) scale(0.9,1)" font-family="'Liberation Serif', serif" font-size="21.8" fill="#333" text-anchor="middle">10<tspan dy="-7.3" font-size="15">0</tspan></text>
<text transform="translate(123.48,601.8) scale(0.9,1)" font-family="'Liberation Serif', serif" font-size="21.8" fill="#333" text-anchor="middle">10<tspan dy="-7.3" font-size="15">1</tspan></text>
<text transform="translate(175.97,601.8) scale(0.9,1)" font-family="'Liberation Serif', serif" font-size="21.8" fill="#333" text-anchor="middle">10<tspan dy="-7.3" font-size="15">2</tspan></text>
<text transform="translate(228.45,601.8) scale(0.9,1)" font-family="'Liberation Serif', serif" font-size="21.8" fill="#333" text-anchor="middle">10<tspan dy="-7.3" font-size="15">3</tspan></text>
<text transform="translate(280.93,601.8) scale(0.9,1)" font-family="'Liberation Serif', serif" font-size="21.8" fill="#333" text-anchor="middle">10<tspan dy="-7.3" font-size="15">4</tspan></text>
<text transform="translate(333.42,601.8) scale(0.9,1)" font-family="'Liberation Serif', serif" font-size="21.8" fill="#333" text-anchor="middle">10<tspan dy="-7.3" font-size="15">5</tspan></text>
<text transform="translate(385.9,601.8) scale(0.9,1)" font-family="'Liberation Serif', serif" font-size="21.8" fill="#333" text-anchor="middle">10<tspan dy="-7.3" font-size="15">6</tspan></text>
<text transform="translate(66.5,589.2) scale(0.9,1)" font-family="'Liberation Serif', serif" font-size="21.8" fill="#333" text-anchor="end">0</text>
<text transform="translate(66.5,558.66) scale(0.9,1)" font-family="'Liberation Serif', serif" font-size="21.8" fill="#333" text-anchor="end">200</text>
<text transform="translate(66.5,528.11) scale(0.9,1)" font-family="'Liberation Serif', serif" font-size="21.8" fill="#333" text-anchor="end">400</text>
<text transform="translate(66.5,497.57) scale(0.9,1)" font-family="'Liberation Serif', serif" font-size="21.8" fill="#333" text-anchor="end">600</text>
<text transform="translate(66.5,467.03) scale(0.9,1)" font-family="'Liberation Serif', serif" font-size="21.8" fill="#333" text-anchor="end">800</text>
<text transform="translate(66.5,436.49) scale(0.9,1)" font-family="'Liberation Serif', serif" font-size="21.8" fill="#333" text-anchor="end">1000</text>
<text transform="translate(66.5,405.94) scale(0.9,1)" font-family="'Liberation Serif', serif" font-size="21.8" fill="#333" text-anchor="end">1200</text>
<text transform="translate(66.5,375.4) scale(0.9,1)" font-family="'Liberation Serif', serif" font-size="21.8" fill="#333" text-anchor="end">1400</text>
<text transform="translate(227.95,626.6) scale(1.09,1)" font-family="'Liberation Serif', serif" font-size="22.5" fill="#000" stroke="#000" stroke-width="0.35" text-anchor="middle">t: round</text>
<text transform="translate(16.4,473.6) rotate(-90) scale(1.09,1)" font-family="'Liberation Serif', serif" font-size="22.5" fill="#000" stroke="#000" stroke-width="0.35" text-anchor="middle">R(t): regret</text>
<text x="33.9" y="665.5" font-family="'Liberation Sans', sans-serif" font-size="31" fill="#000">(d) <tspan dx="4">dynamic pricing, benign</tspan></text>
<rect x="78.6" y="364.4" width="140.4" height="150.6" fill="#fff" stroke="#000" stroke-width="1.1"/>
<path d="M88.4,376.5h20" stroke="#000000" stroke-width="1.1"/>
<path d="M85.7,372.9L92.36,376.5L85.7,380.1Z" fill="#1a1a1a" stroke="#000000" stroke-width="0.85"/>
<path d="M105.7,372.9L112.36,376.5L105.7,380.1Z" fill="#1a1a1a" stroke="#000000" stroke-width="0.85"/>
<text x="125" y="382" font-family="'Liberation Serif', serif" font-size="16" fill="#000" stroke="#000" stroke-width="0.25">Random</text>
<path d="M88.4,397.25h20" stroke="#0a800a" stroke-width="1.1"/>
<path d="M88.4,392.85L92.8,397.25L88.4,401.65L84,397.25Z" fill="#005f00" stroke="#001a00" stroke-width="0.85"/>
<path d="M108.4,392.85L112.8,397.25L108.4,401.65L104,397.25Z" fill="#005f00" stroke="#001a00" stroke-width="0.85"/>
<text x="125" y="402.75" font-family="'Liberation Serif', serif" font-size="16" fill="#000" stroke="#000" stroke-width="0.25">FeedExp3</text>
<path d="M88.4,418h20" stroke="#555555" stroke-width="1.1"/>
<path d="M85.2,414.8L91.6,421.2M85.2,421.2L91.6,414.8" stroke="#555555" stroke-width="0.9" fill="none"/>
<path d="M105.2,414.8L111.6,421.2M105.2,421.2L111.6,414.8" stroke="#555555" stroke-width="0.9" fill="none"/>
<text x="125" y="423.5" font-family="'Liberation Serif', serif" font-size="16" fill="#000" stroke="#000" stroke-width="0.25">CBP</text>
<path d="M88.4,438.75h20" stroke="#0000c8" stroke-width="1.1"/>
<circle cx="88.4" cy="438.75" r="3.25" fill="#0000e6" stroke="#00003a" stroke-width="0.85"/>
<circle cx="108.4" cy="438.75" r="3.25" fill="#0000e6" stroke="#00003a" stroke-width="0.85"/>
<text x="125" y="444.25" font-family="'Liberation Serif', serif" font-size="16" fill="#000" stroke="#000" stroke-width="0.25">BPM-LEAST</text>
<path d="M88.4,459.5h20" stroke="#10c0c0" stroke-width="1.1"/>
<path d="M88.4,454.6L91.05,459.5L88.4,464.4L85.75,459.5Z" fill="#26b4b4" stroke="#002020" stroke-width="0.85"/>
<path d="M108.4,454.6L111.05,459.5L108.4,464.4L105.75,459.5Z" fill="#26b4b4" stroke="#002020" stroke-width="0.85"/>
<text x="125" y="465" font-family="'Liberation Serif', serif" font-size="16" fill="#000" stroke="#000" stroke-width="0.25">BPM-TS</text>
<path d="M88.4,480.25h20" stroke="#b00000" stroke-width="1.1"/>
<rect x="85.2" y="477.05" width="6.4" height="6.4" fill="#f80000" stroke="#200000" stroke-width="0.85"/>
<rect x="105.2" y="477.05" width="6.4" height="6.4" fill="#f80000" stroke="#200000" stroke-width="0.85"/>
<text x="125" y="485.75" font-family="'Liberation Serif', serif" font-size="16" fill="#000" stroke="#000" stroke-width="0.25">PM-DMED</text>
<path d="M86.9,501h23.8" stroke="#f4cc1e" stroke-width="3.4"/>
<text x="125" y="506.5" font-family="'Liberation Serif', serif" font-size="16" fill="#000" stroke="#000" stroke-width="0.25">LB</text>
<g clip-path="url(#clipe)">
<path d="M540.5,582.2L650,580.5L670.88,578L686.22,575.5L693.89,571L701.55,566.8L709.22,560.5L716.89,554.8L724.56,542.8L732.23,526L739.9,503.5L747.57,472.2L755.24,428.3L762.91,366.6L770.58,290" fill="none" stroke="#000000" stroke-width="1.1" stroke-linejoin="round"/>
<path d="M537.8,578.6L544.46,582.2L537.8,585.8Z" fill="#1a1a1a" stroke="#000000" stroke-width="0.85"/>
<path d="M545.47,578.48L552.13,582.08L545.47,585.68Z" fill="#1a1a1a" stroke="#000000" stroke-width="0.85"/>
<path d="M553.14,578.36L559.8,581.96L553.14,585.56Z" fill="#1a1a1a" stroke="#000000" stroke-width="0.85"/>
<path d="M560.81,578.24L567.47,581.84L560.81,585.44Z" fill="#1a1a1a" stroke="#000000" stroke-width="0.85"/>
<path d="M568.48,578.12L575.14,581.72L568.48,585.32Z" fill="#1a1a1a" stroke="#000000" stroke-width="0.85"/>
<path d="M576.15,578L582.81,581.6L576.15,585.2Z" fill="#1a1a1a" stroke="#000000" stroke-width="0.85"/>
<path d="M583.82,577.89L590.48,581.49L583.82,585.09Z" fill="#1a1a1a" stroke="#000000" stroke-width="0.85"/>
<path d="M591.48,577.77L598.14,581.37L591.48,584.97Z" fill="#1a1a1a" stroke="#000000" stroke-width="0.85"/>
<path d="M599.15,577.65L605.81,581.25L599.15,584.85Z" fill="#1a1a1a" stroke="#000000" stroke-width="0.85"/>
<path d="M606.82,577.53L613.48,581.13L606.82,584.73Z" fill="#1a1a1a" stroke="#000000" stroke-width="0.85"/>
<path d="M614.49,577.41L621.15,581.01L614.49,584.61Z" fill="#1a1a1a" stroke="#000000" stroke-width="0.85"/>
<path d="M622.16,577.29L628.82,580.89L622.16,584.49Z" fill="#1a1a1a" stroke="#000000" stroke-width="0.85"/>
<path d="M629.83,577.17L636.49,580.77L629.83,584.37Z" fill="#1a1a1a" stroke="#000000" stroke-width="0.85"/>
<path d="M637.5,577.05L644.16,580.65L637.5,584.25Z" fill="#1a1a1a" stroke="#000000" stroke-width="0.85"/>
<path d="M645.17,576.93L651.83,580.53L645.17,584.13Z" fill="#1a1a1a" stroke="#000000" stroke-width="0.85"/>
<path d="M652.84,576.24L659.5,579.84L652.84,583.44Z" fill="#1a1a1a" stroke="#000000" stroke-width="0.85"/>
<path d="M660.51,575.32L667.17,578.92L660.51,582.52Z" fill="#1a1a1a" stroke="#000000" stroke-width="0.85"/>
<path d="M668.18,574.4L674.84,578L668.18,581.6Z" fill="#1a1a1a" stroke="#000000" stroke-width="0.85"/>
<path d="M675.85,573.15L682.51,576.75L675.85,580.35Z" fill="#1a1a1a" stroke="#000000" stroke-width="0.85"/>
<path d="M683.52,571.9L690.18,575.5L683.52,579.1Z" fill="#1a1a1a" stroke="#000000" stroke-width="0.85"/>
<path d="M691.19,567.4L697.85,571L691.19,574.6Z" fill="#1a1a1a" stroke="#000000" stroke-width="0.85"/>
<path d="M698.85,563.2L705.51,566.8L698.85,570.4Z" fill="#1a1a1a" stroke="#000000" stroke-width="0.85"/>
<path d="M706.52,556.9L713.18,560.5L706.52,564.1Z" fill="#1a1a1a" stroke="#000000" stroke-width="0.85"/>
<path d="M714.19,551.2L720.85,554.8L714.19,558.4Z" fill="#1a1a1a" stroke="#000000" stroke-width="0.85"/>
<path d="M721.86,539.2L728.52,542.8L721.86,546.4Z" fill="#1a1a1a" stroke="#000000" stroke-width="0.85"/>
<path d="M729.53,522.4L736.19,526L729.53,529.6Z" fill="#1a1a1a" stroke="#000000" stroke-width="0.85"/>
<path d="M737.2,499.9L743.86,503.5L737.2,507.1Z" fill="#1a1a1a" stroke="#000000" stroke-width="0.85"/>
<path d="M744.87,468.6L751.53,472.2L744.87,475.8Z" fill="#1a1a1a" stroke="#000000" stroke-width="0.85"/>
<path d="M752.54,424.7L759.2,428.3L752.54,431.9Z" fill="#1a1a1a" stroke="#000000" stroke-width="0.85"/>
<path d="M760.21,363L766.87,366.6L760.21,370.2Z" fill="#1a1a1a" stroke="#000000" stroke-width="0.85"/>
<path d="M540.5,582.2L650,580.5L670.88,579L686.22,576.5L693.89,575L701.55,573L709.22,570L716.89,567.5L724.56,564.6L732.23,558.9L739.9,551.5L747.57,541L755.24,529L762.91,512.5L770.58,490L778.25,460.2L785.92,417.2L793.59,355L801.26,280" fill="none" stroke="#0a800a" stroke-width="1.1" stroke-linejoin="round"/>
<path d="M540.5,577.8L544.9,582.2L540.5,586.6L536.1,582.2Z" fill="#005f00" stroke="#001a00" stroke-width="0.85"/>
<path d="M548.17,577.68L552.57,582.08L548.17,586.48L543.77,582.08Z" fill="#005f00" stroke="#001a00" stroke-width="0.85"/>
<path d="M555.84,577.56L560.24,581.96L555.84,586.36L551.44,581.96Z" fill="#005f00" stroke="#001a00" stroke-width="0.85"/>
<path d="M563.51,577.44L567.91,581.84L563.51,586.24L559.11,581.84Z" fill="#005f00" stroke="#001a00" stroke-width="0.85"/>
<path d="M571.18,577.32L575.58,581.72L571.18,586.12L566.78,581.72Z" fill="#005f00" stroke="#001a00" stroke-width="0.85"/>
<path d="M578.85,577.2L583.25,581.6L578.85,586L574.45,581.6Z" fill="#005f00" stroke="#001a00" stroke-width="0.85"/>
<path d="M586.52,577.09L590.92,581.49L586.52,585.89L582.12,581.49Z" fill="#005f00" stroke="#001a00" stroke-width="0.85"/>
<path d="M594.18,576.97L598.58,581.37L594.18,585.77L589.78,581.37Z" fill="#005f00" stroke="#001a00" stroke-width="0.85"/>
<path d="M601.85,576.85L606.25,581.25L601.85,585.65L597.45,581.25Z" fill="#005f00" stroke="#001a00" stroke-width="0.85"/>
<path d="M609.52,576.73L613.92,581.13L609.52,585.53L605.12,581.13Z" fill="#005f00" stroke="#001a00" stroke-width="0.85"/>
<path d="M617.19,576.61L621.59,581.01L617.19,585.41L612.79,581.01Z" fill="#005f00" stroke="#001a00" stroke-width="0.85"/>
<path d="M624.86,576.49L629.26,580.89L624.86,585.29L620.46,580.89Z" fill="#005f00" stroke="#001a00" stroke-width="0.85"/>
<path d="M632.53,576.37L636.93,580.77L632.53,585.17L628.13,580.77Z" fill="#005f00" stroke="#001a00" stroke-width="0.85"/>
<path d="M640.2,576.25L644.6,580.65L640.2,585.05L635.8,580.65Z" fill="#005f00" stroke="#001a00" stroke-width="0.85"/>
<path d="M647.87,576.13L652.27,580.53L647.87,584.93L643.47,580.53Z" fill="#005f00" stroke="#001a00" stroke-width="0.85"/>
<path d="M655.54,575.7L659.94,580.1L655.54,584.5L651.14,580.1Z" fill="#005f00" stroke="#001a00" stroke-width="0.85"/>
<path d="M663.21,575.15L667.61,579.55L663.21,583.95L658.81,579.55Z" fill="#005f00" stroke="#001a00" stroke-width="0.85"/>
<path d="M670.88,574.6L675.28,579L670.88,583.4L666.48,579Z" fill="#005f00" stroke="#001a00" stroke-width="0.85"/>
<path d="M678.55,573.35L682.95,577.75L678.55,582.15L674.15,577.75Z" fill="#005f00" stroke="#001a00" stroke-width="0.85"/>
<path d="M686.22,572.1L690.62,576.5L686.22,580.9L681.82,576.5Z" fill="#005f00" stroke="#001a00" stroke-width="0.85"/>
<path d="M693.89,570.6L698.29,575L693.89,579.4L689.49,575Z" fill="#005f00" stroke="#001a00" stroke-width="0.85"/>
<path d="M701.55,568.6L705.95,573L701.55,577.4L697.15,573Z" fill="#005f00" stroke="#001a00" stroke-width="0.85"/>
<path d="M709.22,565.6L713.62,570L709.22,574.4L704.82,570Z" fill="#005f00" stroke="#001a00" stroke-width="0.85"/>
<path d="M716.89,563.1L721.29,567.5L716.89,571.9L712.49,567.5Z" fill="#005f00" stroke="#001a00" stroke-width="0.85"/>
<path d="M724.56,560.2L728.96,564.6L724.56,569L720.16,564.6Z" fill="#005f00" stroke="#001a00" stroke-width="0.85"/>
<path d="M732.23,554.5L736.63,558.9L732.23,563.3L727.83,558.9Z" fill="#005f00" stroke="#001a00" stroke-width="0.85"/>
<path d="M739.9,547.1L744.3,551.5L739.9,555.9L735.5,551.5Z" fill="#005f00" stroke="#001a00" stroke-width="0.85"/>
<path d="M747.57,536.6L751.97,541L747.57,545.4L743.17,541Z" fill="#005f00" stroke="#001a00" stroke-width="0.85"/>
<path d="M755.24,524.6L759.64,529L755.24,533.4L750.84,529Z" fill="#005f00" stroke="#001a00" stroke-width="0.85"/>
<path d="M762.91,508.1L767.31,512.5L762.91,516.9L758.51,512.5Z" fill="#005f00" stroke="#001a00" stroke-width="0.85"/>
<path d="M770.58,485.6L774.98,490L770.58,494.4L766.18,490Z" fill="#005f00" stroke="#001a00" stroke-width="0.85"/>
<path d="M778.25,455.8L782.65,460.2L778.25,464.6L773.85,460.2Z" fill="#005f00" stroke="#001a00" stroke-width="0.85"/>
<path d="M785.92,412.8L790.32,417.2L785.92,421.6L781.52,417.2Z" fill="#005f00" stroke="#001a00" stroke-width="0.85"/>
<path d="M793.59,350.6L797.99,355L793.59,359.4L789.19,355Z" fill="#005f00" stroke="#001a00" stroke-width="0.85"/>
<path d="M540.5,582.2L650,580.5L670.88,578.5L686.22,575L693.89,572L701.55,567L709.22,561L716.89,553L724.56,546L732.23,535.4L739.9,521.7L747.57,502.6L755.24,482L762.91,462.5L770.58,440L778.25,414.7L785.92,389L793.59,362.6L801.26,330" fill="none" stroke="#555555" stroke-width="1.1" stroke-linejoin="round"/>
<path d="M537.3,579L543.7,585.4M537.3,585.4L543.7,579" stroke="#555555" stroke-width="0.9" fill="none"/>
<path d="M544.97,578.88L551.37,585.28M544.97,585.28L551.37,578.88" stroke="#555555" stroke-width="0.9" fill="none"/>
<path d="M552.64,578.76L559.04,585.16M552.64,585.16L559.04,578.76" stroke="#555555" stroke-width="0.9" fill="none"/>
<path d="M560.31,578.64L566.71,585.04M560.31,585.04L566.71,578.64" stroke="#555555" stroke-width="0.9" fill="none"/>
<path d="M567.98,578.52L574.38,584.92M567.98,584.92L574.38,578.52" stroke="#555555" stroke-width="0.9" fill="none"/>
<path d="M575.65,578.4L582.05,584.8M575.65,584.8L582.05,578.4" stroke="#555555" stroke-width="0.9" fill="none"/>
<path d="M583.32,578.29L589.72,584.69M583.32,584.69L589.72,578.29" stroke="#555555" stroke-width="0.9" fill="none"/>
<path d="M590.98,578.17L597.38,584.57M590.98,584.57L597.38,578.17" stroke="#555555" stroke-width="0.9" fill="none"/>
<path d="M598.65,578.05L605.05,584.45M598.65,584.45L605.05,578.05" stroke="#555555" stroke-width="0.9" fill="none"/>
<path d="M606.32,577.93L612.72,584.33M606.32,584.33L612.72,577.93" stroke="#555555" stroke-width="0.9" fill="none"/>
<path d="M613.99,577.81L620.39,584.21M613.99,584.21L620.39,577.81" stroke="#555555" stroke-width="0.9" fill="none"/>
<path d="M621.66,577.69L628.06,584.09M621.66,584.09L628.06,577.69" stroke="#555555" stroke-width="0.9" fill="none"/>
<path d="M629.33,577.57L635.73,583.97M629.33,583.97L635.73,577.57" stroke="#555555" stroke-width="0.9" fill="none"/>
<path d="M637,577.45L643.4,583.85M637,583.85L643.4,577.45" stroke="#555555" stroke-width="0.9" fill="none"/>
<path d="M644.67,577.33L651.07,583.73M644.67,583.73L651.07,577.33" stroke="#555555" stroke-width="0.9" fill="none"/>
<path d="M652.34,576.77L658.74,583.17M652.34,583.17L658.74,576.77" stroke="#555555" stroke-width="0.9" fill="none"/>
<path d="M660.01,576.03L666.41,582.43M660.01,582.43L666.41,576.03" stroke="#555555" stroke-width="0.9" fill="none"/>
<path d="M667.68,575.3L674.08,581.7M667.68,581.7L674.08,575.3" stroke="#555555" stroke-width="0.9" fill="none"/>
<path d="M675.35,573.55L681.75,579.95M675.35,579.95L681.75,573.55" stroke="#555555" stroke-width="0.9" fill="none"/>
<path d="M683.02,571.8L689.42,578.2M683.02,578.2L689.42,571.8" stroke="#555555" stroke-width="0.9" fill="none"/>
<path d="M690.69,568.8L697.09,575.2M690.69,575.2L697.09,568.8" stroke="#555555" stroke-width="0.9" fill="none"/>
<path d="M698.35,563.8L704.75,570.2M698.35,570.2L704.75,563.8" stroke="#555555" stroke-width="0.9" fill="none"/>
<path d="M706.02,557.8L712.42,564.2M706.02,564.2L712.42,557.8" stroke="#555555" stroke-width="0.9" fill="none"/>
<path d="M713.69,549.8L720.09,556.2M713.69,556.2L720.09,549.8" stroke="#555555" stroke-width="0.9" fill="none"/>
<path d="M721.36,542.8L727.76,549.2M721.36,549.2L727.76,542.8" stroke="#555555" stroke-width="0.9" fill="none"/>
<path d="M729.03,532.2L735.43,538.6M729.03,538.6L735.43,532.2" stroke="#555555" stroke-width="0.9" fill="none"/>
<path d="M736.7,518.5L743.1,524.9M736.7,524.9L743.1,518.5" stroke="#555555" stroke-width="0.9" fill="none"/>
<path d="M744.37,499.4L750.77,505.8M744.37,505.8L750.77,499.4" stroke="#555555" stroke-width="0.9" fill="none"/>
<path d="M752.04,478.8L758.44,485.2M752.04,485.2L758.44,478.8" stroke="#555555" stroke-width="0.9" fill="none"/>
<path d="M759.71,459.3L766.11,465.7M759.71,465.7L766.11,459.3" stroke="#555555" stroke-width="0.9" fill="none"/>
<path d="M767.38,436.8L773.78,443.2M767.38,443.2L773.78,436.8" stroke="#555555" stroke-width="0.9" fill="none"/>
<path d="M775.05,411.5L781.45,417.9M775.05,417.9L781.45,411.5" stroke="#555555" stroke-width="0.9" fill="none"/>
<path d="M782.72,385.8L789.12,392.2M782.72,392.2L789.12,385.8" stroke="#555555" stroke-width="0.9" fill="none"/>
<path d="M790.39,359.4L796.79,365.8M790.39,365.8L796.79,359.4" stroke="#555555" stroke-width="0.9" fill="none"/>
<path d="M540.5,582.2L650,580.5L670.88,579L686.22,576L693.89,574L701.55,571.5L709.22,568L716.89,564L724.56,557.7L732.23,551L739.9,542.8L747.57,532.5L755.24,519.4L762.91,501.5L770.58,478.1L778.25,447.5L785.92,404.6L793.59,350L801.26,280" fill="none" stroke="#0000c8" stroke-width="1.1" stroke-linejoin="round"/>
<circle cx="540.5" cy="582.2" r="3.25" fill="#0000e6" stroke="#00003a" stroke-width="0.85"/>
<circle cx="548.17" cy="582.08" r="3.25" fill="#0000e6" stroke="#00003a" stroke-width="0.85"/>
<circle cx="555.84" cy="581.96" r="3.25" fill="#0000e6" stroke="#00003a" stroke-width="0.85"/>
<circle cx="563.51" cy="581.84" r="3.25" fill="#0000e6" stroke="#00003a" stroke-width="0.85"/>
<circle cx="571.18" cy="581.72" r="3.25" fill="#0000e6" stroke="#00003a" stroke-width="0.85"/>
<circle cx="578.85" cy="581.6" r="3.25" fill="#0000e6" stroke="#00003a" stroke-width="0.85"/>
<circle cx="586.52" cy="581.49" r="3.25" fill="#0000e6" stroke="#00003a" stroke-width="0.85"/>
<circle cx="594.18" cy="581.37" r="3.25" fill="#0000e6" stroke="#00003a" stroke-width="0.85"/>
<circle cx="601.85" cy="581.25" r="3.25" fill="#0000e6" stroke="#00003a" stroke-width="0.85"/>
<circle cx="609.52" cy="581.13" r="3.25" fill="#0000e6" stroke="#00003a" stroke-width="0.85"/>
<circle cx="617.19" cy="581.01" r="3.25" fill="#0000e6" stroke="#00003a" stroke-width="0.85"/>
<circle cx="624.86" cy="580.89" r="3.25" fill="#0000e6" stroke="#00003a" stroke-width="0.85"/>
<circle cx="632.53" cy="580.77" r="3.25" fill="#0000e6" stroke="#00003a" stroke-width="0.85"/>
<circle cx="640.2" cy="580.65" r="3.25" fill="#0000e6" stroke="#00003a" stroke-width="0.85"/>
<circle cx="647.87" cy="580.53" r="3.25" fill="#0000e6" stroke="#00003a" stroke-width="0.85"/>
<circle cx="655.54" cy="580.1" r="3.25" fill="#0000e6" stroke="#00003a" stroke-width="0.85"/>
<circle cx="663.21" cy="579.55" r="3.25" fill="#0000e6" stroke="#00003a" stroke-width="0.85"/>
<circle cx="670.88" cy="579" r="3.25" fill="#0000e6" stroke="#00003a" stroke-width="0.85"/>
<circle cx="678.55" cy="577.5" r="3.25" fill="#0000e6" stroke="#00003a" stroke-width="0.85"/>
<circle cx="686.22" cy="576" r="3.25" fill="#0000e6" stroke="#00003a" stroke-width="0.85"/>
<circle cx="693.89" cy="574" r="3.25" fill="#0000e6" stroke="#00003a" stroke-width="0.85"/>
<circle cx="701.55" cy="571.5" r="3.25" fill="#0000e6" stroke="#00003a" stroke-width="0.85"/>
<circle cx="709.22" cy="568" r="3.25" fill="#0000e6" stroke="#00003a" stroke-width="0.85"/>
<circle cx="716.89" cy="564" r="3.25" fill="#0000e6" stroke="#00003a" stroke-width="0.85"/>
<circle cx="724.56" cy="557.7" r="3.25" fill="#0000e6" stroke="#00003a" stroke-width="0.85"/>
<circle cx="732.23" cy="551" r="3.25" fill="#0000e6" stroke="#00003a" stroke-width="0.85"/>
<circle cx="739.9" cy="542.8" r="3.25" fill="#0000e6" stroke="#00003a" stroke-width="0.85"/>
<circle cx="747.57" cy="532.5" r="3.25" fill="#0000e6" stroke="#00003a" stroke-width="0.85"/>
<circle cx="755.24" cy="519.4" r="3.25" fill="#0000e6" stroke="#00003a" stroke-width="0.85"/>
<circle cx="762.91" cy="501.5" r="3.25" fill="#0000e6" stroke="#00003a" stroke-width="0.85"/>
<circle cx="770.58" cy="478.1" r="3.25" fill="#0000e6" stroke="#00003a" stroke-width="0.85"/>
<circle cx="778.25" cy="447.5" r="3.25" fill="#0000e6" stroke="#00003a" stroke-width="0.85"/>
<circle cx="785.92" cy="404.6" r="3.25" fill="#0000e6" stroke="#00003a" stroke-width="0.85"/>
<circle cx="793.59" cy="350" r="3.25" fill="#0000e6" stroke="#00003a" stroke-width="0.85"/>
<path d="M540.5,582.2L670.88,580.5L686.22,579.5L693.89,578.5L701.55,577.7L709.22,576.1L716.89,574.9L724.56,572.6L732.23,570.3L739.9,566.9L747.57,563.4L755.24,558.9L762.91,552L770.58,544.6L778.25,531.3L785.92,518.7L793.59,499.2L801.26,473.9L808.92,438.4L816.59,390.9L824.26,330L831.93,260" fill="none" stroke="#10c0c0" stroke-width="1.1" stroke-linejoin="round"/>
<path d="M540.5,577.3L543.15,582.2L540.5,587.1L537.85,582.2Z" fill="#26b4b4" stroke="#002020" stroke-width="0.85"/>
<path d="M548.17,577.2L550.82,582.1L548.17,587L545.52,582.1Z" fill="#26b4b4" stroke="#002020" stroke-width="0.85"/>
<path d="M555.84,577.1L558.49,582L555.84,586.9L553.19,582Z" fill="#26b4b4" stroke="#002020" stroke-width="0.85"/>
<path d="M563.51,577L566.16,581.9L563.51,586.8L560.86,581.9Z" fill="#26b4b4" stroke="#002020" stroke-width="0.85"/>
<path d="M571.18,576.9L573.83,581.8L571.18,586.7L568.53,581.8Z" fill="#26b4b4" stroke="#002020" stroke-width="0.85"/>
<path d="M578.85,576.8L581.5,581.7L578.85,586.6L576.2,581.7Z" fill="#26b4b4" stroke="#002020" stroke-width="0.85"/>
<path d="M586.52,576.7L589.17,581.6L586.52,586.5L583.87,581.6Z" fill="#26b4b4" stroke="#002020" stroke-width="0.85"/>
<path d="M594.18,576.6L596.83,581.5L594.18,586.4L591.53,581.5Z" fill="#26b4b4" stroke="#002020" stroke-width="0.85"/>
<path d="M601.85,576.5L604.5,581.4L601.85,586.3L599.2,581.4Z" fill="#26b4b4" stroke="#002020" stroke-width="0.85"/>
<path d="M609.52,576.4L612.17,581.3L609.52,586.2L606.87,581.3Z" fill="#26b4b4" stroke="#002020" stroke-width="0.85"/>
<path d="M617.19,576.3L619.84,581.2L617.19,586.1L614.54,581.2Z" fill="#26b4b4" stroke="#002020" stroke-width="0.85"/>
<path d="M624.86,576.2L627.51,581.1L624.86,586L622.21,581.1Z" fill="#26b4b4" stroke="#002020" stroke-width="0.85"/>
<path d="M632.53,576.1L635.18,581L632.53,585.9L629.88,581Z" fill="#26b4b4" stroke="#002020" stroke-width="0.85"/>
<path d="M640.2,576L642.85,580.9L640.2,585.8L637.55,580.9Z" fill="#26b4b4" stroke="#002020" stroke-width="0.85"/>
<path d="M647.87,575.9L650.52,580.8L647.87,585.7L645.22,580.8Z" fill="#26b4b4" stroke="#002020" stroke-width="0.85"/>
<path d="M655.54,575.8L658.19,580.7L655.54,585.6L652.89,580.7Z" fill="#26b4b4" stroke="#002020" stroke-width="0.85"/>
<path d="M663.21,575.7L665.86,580.6L663.21,585.5L660.56,580.6Z" fill="#26b4b4" stroke="#002020" stroke-width="0.85"/>
<path d="M670.88,575.6L673.53,580.5L670.88,585.4L668.23,580.5Z" fill="#26b4b4" stroke="#002020" stroke-width="0.85"/>
<path d="M678.55,575.1L681.2,580L678.55,584.9L675.9,580Z" fill="#26b4b4" stroke="#002020" stroke-width="0.85"/>
<path d="M686.22,574.6L688.87,579.5L686.22,584.4L683.57,579.5Z" fill="#26b4b4" stroke="#002020" stroke-width="0.85"/>
<path d="M693.89,573.6L696.54,578.5L693.89,583.4L691.24,578.5Z" fill="#26b4b4" stroke="#002020" stroke-width="0.85"/>
<path d="M701.55,572.8L704.2,577.7L701.55,582.6L698.9,577.7Z" fill="#26b4b4" stroke="#002020" stroke-width="0.85"/>
<path d="M709.22,571.2L711.87,576.1L709.22,581L706.57,576.1Z" fill="#26b4b4" stroke="#002020" stroke-width="0.85"/>
<path d="M716.89,570L719.54,574.9L716.89,579.8L714.24,574.9Z" fill="#26b4b4" stroke="#002020" stroke-width="0.85"/>
<path d="M724.56,567.7L727.21,572.6L724.56,577.5L721.91,572.6Z" fill="#26b4b4" stroke="#002020" stroke-width="0.85"/>
<path d="M732.23,565.4L734.88,570.3L732.23,575.2L729.58,570.3Z" fill="#26b4b4" stroke="#002020" stroke-width="0.85"/>
<path d="M739.9,562L742.55,566.9L739.9,571.8L737.25,566.9Z" fill="#26b4b4" stroke="#002020" stroke-width="0.85"/>
<path d="M747.57,558.5L750.22,563.4L747.57,568.3L744.92,563.4Z" fill="#26b4b4" stroke="#002020" stroke-width="0.85"/>
<path d="M755.24,554L757.89,558.9L755.24,563.8L752.59,558.9Z" fill="#26b4b4" stroke="#002020" stroke-width="0.85"/>
<path d="M762.91,547.1L765.56,552L762.91,556.9L760.26,552Z" fill="#26b4b4" stroke="#002020" stroke-width="0.85"/>
<path d="M770.58,539.7L773.23,544.6L770.58,549.5L767.93,544.6Z" fill="#26b4b4" stroke="#002020" stroke-width="0.85"/>
<path d="M778.25,526.4L780.9,531.3L778.25,536.2L775.6,531.3Z" fill="#26b4b4" stroke="#002020" stroke-width="0.85"/>
<path d="M785.92,513.8L788.57,518.7L785.92,523.6L783.27,518.7Z" fill="#26b4b4" stroke="#002020" stroke-width="0.85"/>
<path d="M793.59,494.3L796.24,499.2L793.59,504.1L790.94,499.2Z" fill="#26b4b4" stroke="#002020" stroke-width="0.85"/>
<path d="M801.26,469L803.91,473.9L801.26,478.8L798.61,473.9Z" fill="#26b4b4" stroke="#002020" stroke-width="0.85"/>
<path d="M808.92,433.5L811.57,438.4L808.92,443.3L806.27,438.4Z" fill="#26b4b4" stroke="#002020" stroke-width="0.85"/>
<path d="M816.59,386L819.24,390.9L816.59,395.8L813.94,390.9Z" fill="#26b4b4" stroke="#002020" stroke-width="0.85"/>
<path d="M540.5,582.2L655.54,580.5L663.21,579.5L670.88,578.9L678.55,578.3L686.22,576.8L693.89,574.5L701.55,572.2L709.22,569.2L716.89,564.6L724.56,559.3L732.23,553.1L739.9,548.5L747.57,544L755.24,541L762.91,539.3L770.58,537.1L778.25,536L785.92,534.8L793.59,533.2L801.26,532.5L808.92,531.8L816.59,531.3L824.26,530.2L831.93,529L839.6,528.6L847.27,527.2L854.94,524.9L855.4,524.5" fill="none" stroke="#b00000" stroke-width="1.1" stroke-linejoin="round"/>
<rect x="537.3" y="579" width="6.4" height="6.4" fill="#f80000" stroke="#200000" stroke-width="0.85"/>
<rect x="544.97" y="578.89" width="6.4" height="6.4" fill="#f80000" stroke="#200000" stroke-width="0.85"/>
<rect x="552.64" y="578.77" width="6.4" height="6.4" fill="#f80000" stroke="#200000" stroke-width="0.85"/>
<rect x="560.31" y="578.66" width="6.4" height="6.4" fill="#f80000" stroke="#200000" stroke-width="0.85"/>
<rect x="567.98" y="578.55" width="6.4" height="6.4" fill="#f80000" stroke="#200000" stroke-width="0.85"/>
<rect x="575.65" y="578.43" width="6.4" height="6.4" fill="#f80000" stroke="#200000" stroke-width="0.85"/>
<rect x="583.32" y="578.32" width="6.4" height="6.4" fill="#f80000" stroke="#200000" stroke-width="0.85"/>
<rect x="590.98" y="578.21" width="6.4" height="6.4" fill="#f80000" stroke="#200000" stroke-width="0.85"/>
<rect x="598.65" y="578.09" width="6.4" height="6.4" fill="#f80000" stroke="#200000" stroke-width="0.85"/>
<rect x="606.32" y="577.98" width="6.4" height="6.4" fill="#f80000" stroke="#200000" stroke-width="0.85"/>
<rect x="613.99" y="577.87" width="6.4" height="6.4" fill="#f80000" stroke="#200000" stroke-width="0.85"/>
<rect x="621.66" y="577.75" width="6.4" height="6.4" fill="#f80000" stroke="#200000" stroke-width="0.85"/>
<rect x="629.33" y="577.64" width="6.4" height="6.4" fill="#f80000" stroke="#200000" stroke-width="0.85"/>
<rect x="637" y="577.53" width="6.4" height="6.4" fill="#f80000" stroke="#200000" stroke-width="0.85"/>
<rect x="644.67" y="577.41" width="6.4" height="6.4" fill="#f80000" stroke="#200000" stroke-width="0.85"/>
<rect x="652.34" y="577.3" width="6.4" height="6.4" fill="#f80000" stroke="#200000" stroke-width="0.85"/>
<rect x="660.01" y="576.3" width="6.4" height="6.4" fill="#f80000" stroke="#200000" stroke-width="0.85"/>
<rect x="667.68" y="575.7" width="6.4" height="6.4" fill="#f80000" stroke="#200000" stroke-width="0.85"/>
<rect x="675.35" y="575.1" width="6.4" height="6.4" fill="#f80000" stroke="#200000" stroke-width="0.85"/>
<rect x="683.02" y="573.6" width="6.4" height="6.4" fill="#f80000" stroke="#200000" stroke-width="0.85"/>
<rect x="690.69" y="571.3" width="6.4" height="6.4" fill="#f80000" stroke="#200000" stroke-width="0.85"/>
<rect x="698.35" y="569" width="6.4" height="6.4" fill="#f80000" stroke="#200000" stroke-width="0.85"/>
<rect x="706.02" y="566" width="6.4" height="6.4" fill="#f80000" stroke="#200000" stroke-width="0.85"/>
<rect x="713.69" y="561.4" width="6.4" height="6.4" fill="#f80000" stroke="#200000" stroke-width="0.85"/>
<rect x="721.36" y="556.1" width="6.4" height="6.4" fill="#f80000" stroke="#200000" stroke-width="0.85"/>
<rect x="729.03" y="549.9" width="6.4" height="6.4" fill="#f80000" stroke="#200000" stroke-width="0.85"/>
<rect x="736.7" y="545.3" width="6.4" height="6.4" fill="#f80000" stroke="#200000" stroke-width="0.85"/>
<rect x="744.37" y="540.8" width="6.4" height="6.4" fill="#f80000" stroke="#200000" stroke-width="0.85"/>
<rect x="752.04" y="537.8" width="6.4" height="6.4" fill="#f80000" stroke="#200000" stroke-width="0.85"/>
<rect x="759.71" y="536.1" width="6.4" height="6.4" fill="#f80000" stroke="#200000" stroke-width="0.85"/>
<rect x="767.38" y="533.9" width="6.4" height="6.4" fill="#f80000" stroke="#200000" stroke-width="0.85"/>
<rect x="775.05" y="532.8" width="6.4" height="6.4" fill="#f80000" stroke="#200000" stroke-width="0.85"/>
<rect x="782.72" y="531.6" width="6.4" height="6.4" fill="#f80000" stroke="#200000" stroke-width="0.85"/>
<rect x="790.39" y="530" width="6.4" height="6.4" fill="#f80000" stroke="#200000" stroke-width="0.85"/>
<rect x="798.06" y="529.3" width="6.4" height="6.4" fill="#f80000" stroke="#200000" stroke-width="0.85"/>
<rect x="805.72" y="528.6" width="6.4" height="6.4" fill="#f80000" stroke="#200000" stroke-width="0.85"/>
<rect x="813.39" y="528.1" width="6.4" height="6.4" fill="#f80000" stroke="#200000" stroke-width="0.85"/>
<rect x="821.06" y="527" width="6.4" height="6.4" fill="#f80000" stroke="#200000" stroke-width="0.85"/>
<rect x="828.73" y="525.8" width="6.4" height="6.4" fill="#f80000" stroke="#200000" stroke-width="0.85"/>
<rect x="836.4" y="525.4" width="6.4" height="6.4" fill="#f80000" stroke="#200000" stroke-width="0.85"/>
<rect x="844.07" y="524" width="6.4" height="6.4" fill="#f80000" stroke="#200000" stroke-width="0.85"/>
<rect x="851.74" y="521.7" width="6.4" height="6.4" fill="#f80000" stroke="#200000" stroke-width="0.85"/>
<path d="M540.5,582.2L698,555.5L793.59,538.7L855.4,528.8" fill="none" stroke="#f4cc1e" stroke-width="3.4" stroke-linejoin="round"/>
</g>
<rect x="540.5" y="357.4" width="314.9" height="224.8" fill="none" stroke="#000" stroke-width="1.3"/>
<path d="M556.3,582.2v-2.3M556.3,357.4v2.3M565.54,582.2v-2.3M565.54,357.4v2.3M572.1,582.2v-2.3M572.1,357.4v2.3M577.18,582.2v-2.3M577.18,357.4v2.3M581.34,582.2v-2.3M581.34,357.4v2.3M584.85,582.2v-2.3M584.85,357.4v2.3M587.9,582.2v-2.3M587.9,357.4v2.3M590.58,582.2v-2.3M590.58,357.4v2.3M592.98,582.2v-4.5M592.98,357.4v4.5M608.78,582.2v-2.3M608.78,357.4v2.3M618.02,582.2v-2.3M618.02,357.4v2.3M624.58,582.2v-2.3M624.58,357.4v2.3M629.67,582.2v-2.3M629.67,357.4v2.3M633.82,582.2v-2.3M633.82,357.4v2.3M637.34,582.2v-2.3M637.34,357.4v2.3M640.38,582.2v-2.3M640.38,357.4v2.3M643.07,582.2v-2.3M643.07,357.4v2.3M645.47,582.2v-4.5M645.47,357.4v4.5M661.27,582.2v-2.3M661.27,357.4v2.3M670.51,582.2v-2.3M670.51,357.4v2.3M677.06,582.2v-2.3M677.06,357.4v2.3M682.15,582.2v-2.3M682.15,357.4v2.3M686.31,582.2v-2.3M686.31,357.4v2.3M689.82,582.2v-2.3M689.82,357.4v2.3M692.86,582.2v-2.3M692.86,357.4v2.3M695.55,582.2v-2.3M695.55,357.4v2.3M697.95,582.2v-4.5M697.95,357.4v4.5M713.75,582.2v-2.3M713.75,357.4v2.3M722.99,582.2v-2.3M722.99,357.4v2.3M729.55,582.2v-2.3M729.55,357.4v2.3M734.63,582.2v-2.3M734.63,357.4v2.3M738.79,582.2v-2.3M738.79,357.4v2.3M742.3,582.2v-2.3M742.3,357.4v2.3M745.35,582.2v-2.3M745.35,357.4v2.3M748.03,582.2v-2.3M748.03,357.4v2.3M750.43,582.2v-4.5M750.43,357.4v4.5M766.23,582.2v-2.3M766.23,357.4v2.3M775.47,582.2v-2.3M775.47,357.4v2.3M782.03,582.2v-2.3M782.03,357.4v2.3M787.12,582.2v-2.3M787.12,357.4v2.3M791.27,582.2v-2.3M791.27,357.4v2.3M794.79,582.2v-2.3M794.79,357.4v2.3M797.83,582.2v-2.3M797.83,357.4v2.3M800.52,582.2v-2.3M800.52,357.4v2.3M802.92,582.2v-4.5M802.92,357.4v4.5M818.72,582.2v-2.3M818.72,357.4v2.3M827.96,582.2v-2.3M827.96,357.4v2.3M834.51,582.2v-2.3M834.51,357.4v2.3M839.6,582.2v-2.3M839.6,357.4v2.3M843.76,582.2v-2.3M843.76,357.4v2.3M847.27,582.2v-2.3M847.27,357.4v2.3M850.31,582.2v-2.3M850.31,357.4v2.3M853,582.2v-2.3M853,357.4v2.3M540.5,546.42h4.5M855.4,546.42h-4.5M540.5,510.63h4.5M855.4,510.63h-4.5M540.5,474.85h4.5M855.4,474.85h-4.5M540.5,439.07h4.5M855.4,439.07h-4.5M540.5,403.28h4.5M855.4,403.28h-4.5M540.5,367.5h4.5M855.4,367.5h-4.5" stroke="#000" stroke-width="1.05" fill="none"/>
<text transform="translate(541,601.8) scale(0.9,1)" font-family="'Liberation Serif', serif" font-size="21.8" fill="#333" text-anchor="middle">10<tspan dy="-7.3" font-size="15">0</tspan></text>
<text transform="translate(593.48,601.8) scale(0.9,1)" font-family="'Liberation Serif', serif" font-size="21.8" fill="#333" text-anchor="middle">10<tspan dy="-7.3" font-size="15">1</tspan></text>
<text transform="translate(645.97,601.8) scale(0.9,1)" font-family="'Liberation Serif', serif" font-size="21.8" fill="#333" text-anchor="middle">10<tspan dy="-7.3" font-size="15">2</tspan></text>
<text transform="translate(698.45,601.8) scale(0.9,1)" font-family="'Liberation Serif', serif" font-size="21.8" fill="#333" text-anchor="middle">10<tspan dy="-7.3" font-size="15">3</tspan></text>
<text transform="translate(750.93,601.8) scale(0.9,1)" font-family="'Liberation Serif', serif" font-size="21.8" fill="#333" text-anchor="middle">10<tspan dy="-7.3" font-size="15">4</tspan></text>
<text transform="translate(803.42,601.8) scale(0.9,1)" font-family="'Liberation Serif', serif" font-size="21.8" fill="#333" text-anchor="middle">10<tspan dy="-7.3" font-size="15">5</tspan></text>
<text transform="translate(855.9,601.8) scale(0.9,1)" font-family="'Liberation Serif', serif" font-size="21.8" fill="#333" text-anchor="middle">10<tspan dy="-7.3" font-size="15">6</tspan></text>
<text transform="translate(536.5,589.2) scale(0.9,1)" font-family="'Liberation Serif', serif" font-size="21.8" fill="#333" text-anchor="end">0</text>
<text transform="translate(536.5,553.42) scale(0.9,1)" font-family="'Liberation Serif', serif" font-size="21.8" fill="#333" text-anchor="end">1000</text>
<text transform="translate(536.5,517.63) scale(0.9,1)" font-family="'Liberation Serif', serif" font-size="21.8" fill="#333" text-anchor="end">2000</text>
<text transform="translate(536.5,481.85) scale(0.9,1)" font-family="'Liberation Serif', serif" font-size="21.8" fill="#333" text-anchor="end">3000</text>
<text transform="translate(536.5,446.07) scale(0.9,1)" font-family="'Liberation Serif', serif" font-size="21.8" fill="#333" text-anchor="end">4000</text>
<text transform="translate(536.5,410.28) scale(0.9,1)" font-family="'Liberation Serif', serif" font-size="21.8" fill="#333" text-anchor="end">5000</text>
<text transform="translate(536.5,374.5) scale(0.9,1)" font-family="'Liberation Serif', serif" font-size="21.8" fill="#333" text-anchor="end">6000</text>
<text transform="translate(697.95,626.6) scale(1.09,1)" font-family="'Liberation Serif', serif" font-size="22.5" fill="#000" stroke="#000" stroke-width="0.35" text-anchor="middle">t: round</text>
<text transform="translate(485,473.6) rotate(-90) scale(1.09,1)" font-family="'Liberation Serif', serif" font-size="22.5" fill="#000" stroke="#000" stroke-width="0.35" text-anchor="middle">R(t): regret</text>
<text x="468.7" y="665.5" font-family="'Liberation Sans', sans-serif" font-size="31" fill="#000">(e) <tspan dx="4">dynamic pricing, intermediate</tspan></text>
<rect x="547.5" y="364.4" width="140.4" height="150.6" fill="#fff" stroke="#000" stroke-width="1.1"/>
<path d="M557.3,376.5h20" stroke="#000000" stroke-width="1.1"/>
<path d="M554.6,372.9L561.26,376.5L554.6,380.1Z" fill="#1a1a1a" stroke="#000000" stroke-width="0.85"/>
<path d="M574.6,372.9L581.26,376.5L574.6,380.1Z" fill="#1a1a1a" stroke="#000000" stroke-width="0.85"/>
<text x="593.9" y="382" font-family="'Liberation Serif', serif" font-size="16" fill="#000" stroke="#000" stroke-width="0.25">Random</text>
<path d="M557.3,397.25h20" stroke="#0a800a" stroke-width="1.1"/>
<path d="M557.3,392.85L561.7,397.25L557.3,401.65L552.9,397.25Z" fill="#005f00" stroke="#001a00" stroke-width="0.85"/>
<path d="M577.3,392.85L581.7,397.25L577.3,401.65L572.9,397.25Z" fill="#005f00" stroke="#001a00" stroke-width="0.85"/>
<text x="593.9" y="402.75" font-family="'Liberation Serif', serif" font-size="16" fill="#000" stroke="#000" stroke-width="0.25">FeedExp3</text>
<path d="M557.3,418h20" stroke="#555555" stroke-width="1.1"/>
<path d="M554.1,414.8L560.5,421.2M554.1,421.2L560.5,414.8" stroke="#555555" stroke-width="0.9" fill="none"/>
<path d="M574.1,414.8L580.5,421.2M574.1,421.2L580.5,414.8" stroke="#555555" stroke-width="0.9" fill="none"/>
<text x="593.9" y="423.5" font-family="'Liberation Serif', serif" font-size="16" fill="#000" stroke="#000" stroke-width="0.25">CBP</text>
<path d="M557.3,438.75h20" stroke="#0000c8" stroke-width="1.1"/>
<circle cx="557.3" cy="438.75" r="3.25" fill="#0000e6" stroke="#00003a" stroke-width="0.85"/>
<circle cx="577.3" cy="438.75" r="3.25" fill="#0000e6" stroke="#00003a" stroke-width="0.85"/>
<text x="593.9" y="444.25" font-family="'Liberation Serif', serif" font-size="16" fill="#000" stroke="#000" stroke-width="0.25">BPM-LEAST</text>
<path d="M557.3,459.5h20" stroke="#10c0c0" stroke-width="1.1"/>
<path d="M557.3,454.6L559.95,459.5L557.3,464.4L554.65,459.5Z" fill="#26b4b4" stroke="#002020" stroke-width="0.85"/>
<path d="M577.3,454.6L579.95,459.5L577.3,464.4L574.65,459.5Z" fill="#26b4b4" stroke="#002020" stroke-width="0.85"/>
<text x="593.9" y="465" font-family="'Liberation Serif', serif" font-size="16" fill="#000" stroke="#000" stroke-width="0.25">BPM-TS</text>
<path d="M557.3,480.25h20" stroke="#b00000" stroke-width="1.1"/>
<rect x="554.1" y="477.05" width="6.4" height="6.4" fill="#f80000" stroke="#200000" stroke-width="0.85"/>
<rect x="574.1" y="477.05" width="6.4" height="6.4" fill="#f80000" stroke="#200000" stroke-width="0.85"/>
<text x="593.9" y="485.75" font-family="'Liberation Serif', serif" font-size="16" fill="#000" stroke="#000" stroke-width="0.25">PM-DMED</text>
<path d="M555.8,501h23.8" stroke="#f4cc1e" stroke-width="3.4"/>
<text x="593.9" y="506.5" font-family="'Liberation Serif', serif" font-size="16" fill="#000" stroke="#000" stroke-width="0.25">LB</text>
<g clip-path="url(#clipf)">
<path d="M1009.5,581L1016.71,580.5L1062.73,580L1093.4,578L1108.74,577L1124.08,575.7L1139.42,574L1154.76,573L1170.1,569.5L1185.43,564.2L1200.77,556.2L1216.11,544.6L1231.45,529.5L1246.79,508.8L1262.13,479.7L1277.47,438.4L1292.8,381.7L1308.14,300" fill="none" stroke="#000000" stroke-width="1.1" stroke-linejoin="round"/>
<path d="M1014.01,576.9L1020.67,580.5L1014.01,584.1Z" fill="#1a1a1a" stroke="#000000" stroke-width="0.85"/>
<path d="M1029.35,576.73L1036.01,580.33L1029.35,583.93Z" fill="#1a1a1a" stroke="#000000" stroke-width="0.85"/>
<path d="M1044.69,576.57L1051.35,580.17L1044.69,583.77Z" fill="#1a1a1a" stroke="#000000" stroke-width="0.85"/>
<path d="M1060.03,576.4L1066.69,580L1060.03,583.6Z" fill="#1a1a1a" stroke="#000000" stroke-width="0.85"/>
<path d="M1075.36,575.4L1082.02,579L1075.36,582.6Z" fill="#1a1a1a" stroke="#000000" stroke-width="0.85"/>
<path d="M1090.7,574.4L1097.36,578L1090.7,581.6Z" fill="#1a1a1a" stroke="#000000" stroke-width="0.85"/>
<path d="M1106.04,573.4L1112.7,577L1106.04,580.6Z" fill="#1a1a1a" stroke="#000000" stroke-width="0.85"/>
<path d="M1121.38,572.1L1128.04,575.7L1121.38,579.3Z" fill="#1a1a1a" stroke="#000000" stroke-width="0.85"/>
<path d="M1136.72,570.4L1143.38,574L1136.72,577.6Z" fill="#1a1a1a" stroke="#000000" stroke-width="0.85"/>
<path d="M1152.06,569.4L1158.72,573L1152.06,576.6Z" fill="#1a1a1a" stroke="#000000" stroke-width="0.85"/>
<path d="M1167.4,565.9L1174.06,569.5L1167.4,573.1Z" fill="#1a1a1a" stroke="#000000" stroke-width="0.85"/>
<path d="M1182.73,560.6L1189.39,564.2L1182.73,567.8Z" fill="#1a1a1a" stroke="#000000" stroke-width="0.85"/>
<path d="M1198.07,552.6L1204.73,556.2L1198.07,559.8Z" fill="#1a1a1a" stroke="#000000" stroke-width="0.85"/>
<path d="M1213.41,541L1220.07,544.6L1213.41,548.2Z" fill="#1a1a1a" stroke="#000000" stroke-width="0.85"/>
<path d="M1228.75,525.9L1235.41,529.5L1228.75,533.1Z" fill="#1a1a1a" stroke="#000000" stroke-width="0.85"/>
<path d="M1244.09,505.2L1250.75,508.8L1244.09,512.4Z" fill="#1a1a1a" stroke="#000000" stroke-width="0.85"/>
<path d="M1259.43,476.1L1266.09,479.7L1259.43,483.3Z" fill="#1a1a1a" stroke="#000000" stroke-width="0.85"/>
<path d="M1274.77,434.8L1281.43,438.4L1274.77,442Z" fill="#1a1a1a" stroke="#000000" stroke-width="0.85"/>
<path d="M1290.1,378.1L1296.76,381.7L1290.1,385.3Z" fill="#1a1a1a" stroke="#000000" stroke-width="0.85"/>
<path d="M1009.5,581.8L1078.06,581.5L1124.08,580.5L1154.76,579L1170.1,577.8L1185.43,576.1L1200.77,573.8L1216.11,570.8L1231.45,566.9L1246.79,561.2L1262.13,553.8L1277.47,543.9L1292.8,527.2L1308.14,507.9L1323.48,478.5L1325,475" fill="none" stroke="#0a800a" stroke-width="1.1" stroke-linejoin="round"/>
<path d="M1016.71,577.37L1021.11,581.77L1016.71,586.17L1012.31,581.77Z" fill="#005f00" stroke="#001a00" stroke-width="0.85"/>
<path d="M1032.05,577.3L1036.45,581.7L1032.05,586.1L1027.65,581.7Z" fill="#005f00" stroke="#001a00" stroke-width="0.85"/>
<path d="M1047.39,577.23L1051.79,581.63L1047.39,586.03L1042.99,581.63Z" fill="#005f00" stroke="#001a00" stroke-width="0.85"/>
<path d="M1062.73,577.17L1067.13,581.57L1062.73,585.97L1058.33,581.57Z" fill="#005f00" stroke="#001a00" stroke-width="0.85"/>
<path d="M1078.06,577.1L1082.46,581.5L1078.06,585.9L1073.66,581.5Z" fill="#005f00" stroke="#001a00" stroke-width="0.85"/>
<path d="M1093.4,576.77L1097.8,581.17L1093.4,585.57L1089,581.17Z" fill="#005f00" stroke="#001a00" stroke-width="0.85"/>
<path d="M1108.74,576.43L1113.14,580.83L1108.74,585.23L1104.34,580.83Z" fill="#005f00" stroke="#001a00" stroke-width="0.85"/>
<path d="M1124.08,576.1L1128.48,580.5L1124.08,584.9L1119.68,580.5Z" fill="#005f00" stroke="#001a00" stroke-width="0.85"/>
<path d="M1139.42,575.35L1143.82,579.75L1139.42,584.15L1135.02,579.75Z" fill="#005f00" stroke="#001a00" stroke-width="0.85"/>
<path d="M1154.76,574.6L1159.16,579L1154.76,583.4L1150.36,579Z" fill="#005f00" stroke="#001a00" stroke-width="0.85"/>
<path d="M1170.1,573.4L1174.5,577.8L1170.1,582.2L1165.7,577.8Z" fill="#005f00" stroke="#001a00" stroke-width="0.85"/>
<path d="M1185.43,571.7L1189.83,576.1L1185.43,580.5L1181.03,576.1Z" fill="#005f00" stroke="#001a00" stroke-width="0.85"/>
<path d="M1200.77,569.4L1205.17,573.8L1200.77,578.2L1196.37,573.8Z" fill="#005f00" stroke="#001a00" stroke-width="0.85"/>
<path d="M1216.11,566.4L1220.51,570.8L1216.11,575.2L1211.71,570.8Z" fill="#005f00" stroke="#001a00" stroke-width="0.85"/>
<path d="M1231.45,562.5L1235.85,566.9L1231.45,571.3L1227.05,566.9Z" fill="#005f00" stroke="#001a00" stroke-width="0.85"/>
<path d="M1246.79,556.8L1251.19,561.2L1246.79,565.6L1242.39,561.2Z" fill="#005f00" stroke="#001a00" stroke-width="0.85"/>
<path d="M1262.13,549.4L1266.53,553.8L1262.13,558.2L1257.73,553.8Z" fill="#005f00" stroke="#001a00" stroke-width="0.85"/>
<path d="M1277.47,539.5L1281.87,543.9L1277.47,548.3L1273.07,543.9Z" fill="#005f00" stroke="#001a00" stroke-width="0.85"/>
<path d="M1292.8,522.8L1297.2,527.2L1292.8,531.6L1288.4,527.2Z" fill="#005f00" stroke="#001a00" stroke-width="0.85"/>
<path d="M1308.14,503.5L1312.54,507.9L1308.14,512.3L1303.74,507.9Z" fill="#005f00" stroke="#001a00" stroke-width="0.85"/>
<path d="M1323.48,474.1L1327.88,478.5L1323.48,482.9L1319.08,478.5Z" fill="#005f00" stroke="#001a00" stroke-width="0.85"/>
<path d="M1009.5,581.8L1078.06,581.5L1124.08,580.5L1154.76,579L1170.1,577.5L1185.43,575.5L1200.77,573L1216.11,569.8L1231.45,566.5L1246.79,562.3L1262.13,554.3L1277.47,546.2L1292.8,533.6L1308.14,520.3L1323.48,504.2L1325,502.5" fill="none" stroke="#555555" stroke-width="1.1" stroke-linejoin="round"/>
<path d="M1013.51,578.57L1019.91,584.97M1013.51,584.97L1019.91,578.57" stroke="#555555" stroke-width="0.9" fill="none"/>
<path d="M1028.85,578.5L1035.25,584.9M1028.85,584.9L1035.25,578.5" stroke="#555555" stroke-width="0.9" fill="none"/>
<path d="M1044.19,578.43L1050.59,584.83M1044.19,584.83L1050.59,578.43" stroke="#555555" stroke-width="0.9" fill="none"/>
<path d="M1059.53,578.37L1065.93,584.77M1059.53,584.77L1065.93,578.37" stroke="#555555" stroke-width="0.9" fill="none"/>
<path d="M1074.86,578.3L1081.26,584.7M1074.86,584.7L1081.26,578.3" stroke="#555555" stroke-width="0.9" fill="none"/>
<path d="M1090.2,577.97L1096.6,584.37M1090.2,584.37L1096.6,577.97" stroke="#555555" stroke-width="0.9" fill="none"/>
<path d="M1105.54,577.63L1111.94,584.03M1105.54,584.03L1111.94,577.63" stroke="#555555" stroke-width="0.9" fill="none"/>
<path d="M1120.88,577.3L1127.28,583.7M1120.88,583.7L1127.28,577.3" stroke="#555555" stroke-width="0.9" fill="none"/>
<path d="M1136.22,576.55L1142.62,582.95M1136.22,582.95L1142.62,576.55" stroke="#555555" stroke-width="0.9" fill="none"/>
<path d="M1151.56,575.8L1157.96,582.2M1151.56,582.2L1157.96,575.8" stroke="#555555" stroke-width="0.9" fill="none"/>
<path d="M1166.9,574.3L1173.3,580.7M1166.9,580.7L1173.3,574.3" stroke="#555555" stroke-width="0.9" fill="none"/>
<path d="M1182.23,572.3L1188.63,578.7M1182.23,578.7L1188.63,572.3" stroke="#555555" stroke-width="0.9" fill="none"/>
<path d="M1197.57,569.8L1203.97,576.2M1197.57,576.2L1203.97,569.8" stroke="#555555" stroke-width="0.9" fill="none"/>
<path d="M1212.91,566.6L1219.31,573M1212.91,573L1219.31,566.6" stroke="#555555" stroke-width="0.9" fill="none"/>
<path d="M1228.25,563.3L1234.65,569.7M1228.25,569.7L1234.65,563.3" stroke="#555555" stroke-width="0.9" fill="none"/>
<path d="M1243.59,559.1L1249.99,565.5M1243.59,565.5L1249.99,559.1" stroke="#555555" stroke-width="0.9" fill="none"/>
<path d="M1258.93,551.1L1265.33,557.5M1258.93,557.5L1265.33,551.1" stroke="#555555" stroke-width="0.9" fill="none"/>
<path d="M1274.27,543L1280.67,549.4M1274.27,549.4L1280.67,543" stroke="#555555" stroke-width="0.9" fill="none"/>
<path d="M1289.6,530.4L1296,536.8M1289.6,536.8L1296,530.4" stroke="#555555" stroke-width="0.9" fill="none"/>
<path d="M1304.94,517.1L1311.34,523.5M1304.94,523.5L1311.34,517.1" stroke="#555555" stroke-width="0.9" fill="none"/>
<path d="M1320.28,501L1326.68,507.4M1320.28,507.4L1326.68,501" stroke="#555555" stroke-width="0.9" fill="none"/>
<path d="M1009.5,581.8L1124.08,581L1170.1,580L1200.77,578.5L1216.11,575.4L1231.45,573.1L1246.79,570.3L1262.13,566.2L1277.47,561.2L1292.8,553.1L1308.14,541.6L1323.48,527.9L1325,526.5" fill="none" stroke="#0000c8" stroke-width="1.1" stroke-linejoin="round"/>
<circle cx="1016.71" cy="581.75" r="3.25" fill="#0000e6" stroke="#00003a" stroke-width="0.85"/>
<circle cx="1032.05" cy="581.64" r="3.25" fill="#0000e6" stroke="#00003a" stroke-width="0.85"/>
<circle cx="1047.39" cy="581.54" r="3.25" fill="#0000e6" stroke="#00003a" stroke-width="0.85"/>
<circle cx="1062.73" cy="581.43" r="3.25" fill="#0000e6" stroke="#00003a" stroke-width="0.85"/>
<circle cx="1078.06" cy="581.32" r="3.25" fill="#0000e6" stroke="#00003a" stroke-width="0.85"/>
<circle cx="1093.4" cy="581.21" r="3.25" fill="#0000e6" stroke="#00003a" stroke-width="0.85"/>
<circle cx="1108.74" cy="581.11" r="3.25" fill="#0000e6" stroke="#00003a" stroke-width="0.85"/>
<circle cx="1124.08" cy="581" r="3.25" fill="#0000e6" stroke="#00003a" stroke-width="0.85"/>
<circle cx="1139.42" cy="580.67" r="3.25" fill="#0000e6" stroke="#00003a" stroke-width="0.85"/>
<circle cx="1154.76" cy="580.33" r="3.25" fill="#0000e6" stroke="#00003a" stroke-width="0.85"/>
<circle cx="1170.1" cy="580" r="3.25" fill="#0000e6" stroke="#00003a" stroke-width="0.85"/>
<circle cx="1185.43" cy="579.25" r="3.25" fill="#0000e6" stroke="#00003a" stroke-width="0.85"/>
<circle cx="1200.77" cy="578.5" r="3.25" fill="#0000e6" stroke="#00003a" stroke-width="0.85"/>
<circle cx="1216.11" cy="575.4" r="3.25" fill="#0000e6" stroke="#00003a" stroke-width="0.85"/>
<circle cx="1231.45" cy="573.1" r="3.25" fill="#0000e6" stroke="#00003a" stroke-width="0.85"/>
<circle cx="1246.79" cy="570.3" r="3.25" fill="#0000e6" stroke="#00003a" stroke-width="0.85"/>
<circle cx="1262.13" cy="566.2" r="3.25" fill="#0000e6" stroke="#00003a" stroke-width="0.85"/>
<circle cx="1277.47" cy="561.2" r="3.25" fill="#0000e6" stroke="#00003a" stroke-width="0.85"/>
<circle cx="1292.8" cy="553.1" r="3.25" fill="#0000e6" stroke="#00003a" stroke-width="0.85"/>
<circle cx="1308.14" cy="541.6" r="3.25" fill="#0000e6" stroke="#00003a" stroke-width="0.85"/>
<circle cx="1323.48" cy="527.9" r="3.25" fill="#0000e6" stroke="#00003a" stroke-width="0.85"/>
<path d="M1009.5,581.8L1124.08,581.3L1170.1,580.5L1200.77,579.5L1216.11,578.2L1231.45,576.8L1246.79,574.5L1262.13,571.5L1277.47,566.9L1292.8,561.2L1308.14,553.8L1323.48,542.8L1325,541.5" fill="none" stroke="#10c0c0" stroke-width="1.1" stroke-linejoin="round"/>
<path d="M1016.71,576.87L1019.36,581.77L1016.71,586.67L1014.06,581.77Z" fill="#26b4b4" stroke="#002020" stroke-width="0.85"/>
<path d="M1032.05,576.8L1034.7,581.7L1032.05,586.6L1029.4,581.7Z" fill="#26b4b4" stroke="#002020" stroke-width="0.85"/>
<path d="M1047.39,576.73L1050.04,581.63L1047.39,586.53L1044.74,581.63Z" fill="#26b4b4" stroke="#002020" stroke-width="0.85"/>
<path d="M1062.73,576.67L1065.38,581.57L1062.73,586.47L1060.08,581.57Z" fill="#26b4b4" stroke="#002020" stroke-width="0.85"/>
<path d="M1078.06,576.6L1080.71,581.5L1078.06,586.4L1075.41,581.5Z" fill="#26b4b4" stroke="#002020" stroke-width="0.85"/>
<path d="M1093.4,576.53L1096.05,581.43L1093.4,586.33L1090.75,581.43Z" fill="#26b4b4" stroke="#002020" stroke-width="0.85"/>
<path d="M1108.74,576.47L1111.39,581.37L1108.74,586.27L1106.09,581.37Z" fill="#26b4b4" stroke="#002020" stroke-width="0.85"/>
<path d="M1124.08,576.4L1126.73,581.3L1124.08,586.2L1121.43,581.3Z" fill="#26b4b4" stroke="#002020" stroke-width="0.85"/>
<path d="M1139.42,576.13L1142.07,581.03L1139.42,585.93L1136.77,581.03Z" fill="#26b4b4" stroke="#002020" stroke-width="0.85"/>
<path d="M1154.76,575.87L1157.41,580.77L1154.76,585.67L1152.11,580.77Z" fill="#26b4b4" stroke="#002020" stroke-width="0.85"/>
<path d="M1170.1,575.6L1172.75,580.5L1170.1,585.4L1167.45,580.5Z" fill="#26b4b4" stroke="#002020" stroke-width="0.85"/>
<path d="M1185.43,575.1L1188.08,580L1185.43,584.9L1182.78,580Z" fill="#26b4b4" stroke="#002020" stroke-width="0.85"/>
<path d="M1200.77,574.6L1203.42,579.5L1200.77,584.4L1198.12,579.5Z" fill="#26b4b4" stroke="#002020" stroke-width="0.85"/>
<path d="M1216.11,573.3L1218.76,578.2L1216.11,583.1L1213.46,578.2Z" fill="#26b4b4" stroke="#002020" stroke-width="0.85"/>
<path d="M1231.45,571.9L1234.1,576.8L1231.45,581.7L1228.8,576.8Z" fill="#26b4b4" stroke="#002020" stroke-width="0.85"/>
<path d="M1246.79,569.6L1249.44,574.5L1246.79,579.4L1244.14,574.5Z" fill="#26b4b4" stroke="#002020" stroke-width="0.85"/>
<path d="M1262.13,566.6L1264.78,571.5L1262.13,576.4L1259.48,571.5Z" fill="#26b4b4" stroke="#002020" stroke-width="0.85"/>
<path d="M1277.47,562L1280.12,566.9L1277.47,571.8L1274.82,566.9Z" fill="#26b4b4" stroke="#002020" stroke-width="0.85"/>
<path d="M1292.8,556.3L1295.45,561.2L1292.8,566.1L1290.15,561.2Z" fill="#26b4b4" stroke="#002020" stroke-width="0.85"/>
<path d="M1308.14,548.9L1310.79,553.8L1308.14,558.7L1305.49,553.8Z" fill="#26b4b4" stroke="#002020" stroke-width="0.85"/>
<path d="M1323.48,537.9L1326.13,542.8L1323.48,547.7L1320.83,542.8Z" fill="#26b4b4" stroke="#002020" stroke-width="0.85"/>
<path d="M1009.5,579.6L1016.71,579.5L1108.74,579.3L1124.08,578.7L1139.42,577.7L1154.76,576.5L1170.1,573.8L1185.43,570.8L1200.77,566.2L1216.11,561.2L1231.45,555.4L1246.79,549.2L1262.13,543.2L1277.47,537.7L1292.8,532.5L1308.14,528.6L1323.48,526.3L1325,526" fill="none" stroke="#b00000" stroke-width="1.1" stroke-linejoin="round"/>
<rect x="1013.51" y="576.3" width="6.4" height="6.4" fill="#f80000" stroke="#200000" stroke-width="0.85"/>
<rect x="1028.85" y="576.27" width="6.4" height="6.4" fill="#f80000" stroke="#200000" stroke-width="0.85"/>
<rect x="1044.19" y="576.23" width="6.4" height="6.4" fill="#f80000" stroke="#200000" stroke-width="0.85"/>
<rect x="1059.53" y="576.2" width="6.4" height="6.4" fill="#f80000" stroke="#200000" stroke-width="0.85"/>
<rect x="1074.86" y="576.17" width="6.4" height="6.4" fill="#f80000" stroke="#200000" stroke-width="0.85"/>
<rect x="1090.2" y="576.13" width="6.4" height="6.4" fill="#f80000" stroke="#200000" stroke-width="0.85"/>
<rect x="1105.54" y="576.1" width="6.4" height="6.4" fill="#f80000" stroke="#200000" stroke-width="0.85"/>
<rect x="1120.88" y="575.5" width="6.4" height="6.4" fill="#f80000" stroke="#200000" stroke-width="0.85"/>
<rect x="1136.22" y="574.5" width="6.4" height="6.4" fill="#f80000" stroke="#200000" stroke-width="0.85"/>
<rect x="1151.56" y="573.3" width="6.4" height="6.4" fill="#f80000" stroke="#200000" stroke-width="0.85"/>
<rect x="1166.9" y="570.6" width="6.4" height="6.4" fill="#f80000" stroke="#200000" stroke-width="0.85"/>
<rect x="1182.23" y="567.6" width="6.4" height="6.4" fill="#f80000" stroke="#200000" stroke-width="0.85"/>
<rect x="1197.57" y="563" width="6.4" height="6.4" fill="#f80000" stroke="#200000" stroke-width="0.85"/>
<rect x="1212.91" y="558" width="6.4" height="6.4" fill="#f80000" stroke="#200000" stroke-width="0.85"/>
<rect x="1228.25" y="552.2" width="6.4" height="6.4" fill="#f80000" stroke="#200000" stroke-width="0.85"/>
<rect x="1243.59" y="546" width="6.4" height="6.4" fill="#f80000" stroke="#200000" stroke-width="0.85"/>
<rect x="1258.93" y="540" width="6.4" height="6.4" fill="#f80000" stroke="#200000" stroke-width="0.85"/>
<rect x="1274.27" y="534.5" width="6.4" height="6.4" fill="#f80000" stroke="#200000" stroke-width="0.85"/>
<rect x="1289.6" y="529.3" width="6.4" height="6.4" fill="#f80000" stroke="#200000" stroke-width="0.85"/>
<rect x="1304.94" y="525.4" width="6.4" height="6.4" fill="#f80000" stroke="#200000" stroke-width="0.85"/>
<rect x="1320.28" y="523.1" width="6.4" height="6.4" fill="#f80000" stroke="#200000" stroke-width="0.85"/>
<path d="M1009.5,550.2L1093.4,542.4L1168,535.2L1324.4,519.8" fill="none" stroke="#f4cc1e" stroke-width="3.4" stroke-linejoin="round"/>
</g>
<rect x="1009.5" y="357.4" width="314.9" height="224.8" fill="none" stroke="#000" stroke-width="1.3"/>
<path d="M1041.1,582.2v-2.3M1041.1,357.4v2.3M1059.58,582.2v-2.3M1059.58,357.4v2.3M1072.7,582.2v-2.3M1072.7,357.4v2.3M1082.87,582.2v-2.3M1082.87,357.4v2.3M1091.18,582.2v-2.3M1091.18,357.4v2.3M1098.21,582.2v-2.3M1098.21,357.4v2.3M1104.29,582.2v-2.3M1104.29,357.4v2.3M1109.66,582.2v-2.3M1109.66,357.4v2.3M1114.47,582.2v-4.5M1114.47,357.4v4.5M1146.06,582.2v-2.3M1146.06,357.4v2.3M1164.55,582.2v-2.3M1164.55,357.4v2.3M1177.66,582.2v-2.3M1177.66,357.4v2.3M1187.84,582.2v-2.3M1187.84,357.4v2.3M1196.15,582.2v-2.3M1196.15,357.4v2.3M1203.17,582.2v-2.3M1203.17,357.4v2.3M1209.26,582.2v-2.3M1209.26,357.4v2.3M1214.63,582.2v-2.3M1214.63,357.4v2.3M1219.43,582.2v-4.5M1219.43,357.4v4.5M1251.03,582.2v-2.3M1251.03,357.4v2.3M1269.52,582.2v-2.3M1269.52,357.4v2.3M1282.63,582.2v-2.3M1282.63,357.4v2.3M1292.8,582.2v-2.3M1292.8,357.4v2.3M1301.11,582.2v-2.3M1301.11,357.4v2.3M1308.14,582.2v-2.3M1308.14,357.4v2.3M1314.23,582.2v-2.3M1314.23,357.4v2.3M1319.6,582.2v-2.3M1319.6,357.4v2.3M1009.5,548.05h4.5M1324.4,548.05h-4.5M1009.5,513.9h4.5M1324.4,513.9h-4.5M1009.5,479.75h4.5M1324.4,479.75h-4.5M1009.5,445.6h4.5M1324.4,445.6h-4.5M1009.5,411.45h4.5M1324.4,411.45h-4.5M1009.5,377.3h4.5M1324.4,377.3h-4.5" stroke="#000" stroke-width="1.05" fill="none"/>
<text transform="translate(1010,601.8) scale(0.9,1)" font-family="'Liberation Serif', serif" font-size="21.8" fill="#333" text-anchor="middle">10<tspan dy="-7.3" font-size="15">3</tspan></text>
<text transform="translate(1114.97,601.8) scale(0.9,1)" font-family="'Liberation Serif', serif" font-size="21.8" fill="#333" text-anchor="middle">10<tspan dy="-7.3" font-size="15">4</tspan></text>
<text transform="translate(1219.93,601.8) scale(0.9,1)" font-family="'Liberation Serif', serif" font-size="21.8" fill="#333" text-anchor="middle">10<tspan dy="-7.3" font-size="15">5</tspan></text>
<text transform="translate(1324.9,601.8) scale(0.9,1)" font-family="'Liberation Serif', serif" font-size="21.8" fill="#333" text-anchor="middle">10<tspan dy="-7.3" font-size="15">6</tspan></text>
<text transform="translate(1005.5,589.2) scale(0.9,1)" font-family="'Liberation Serif', serif" font-size="21.8" fill="#333" text-anchor="end">0</text>
<text transform="translate(1005.5,555.05) scale(0.9,1)" font-family="'Liberation Serif', serif" font-size="21.8" fill="#333" text-anchor="end">20000</text>
<text transform="translate(1005.5,520.9) scale(0.9,1)" font-family="'Liberation Serif', serif" font-size="21.8" fill="#333" text-anchor="end">40000</text>
<text transform="translate(1005.5,486.75) scale(0.9,1)" font-family="'Liberation Serif', serif" font-size="21.8" fill="#333" text-anchor="end">60000</text>
<text transform="translate(1005.5,452.6) scale(0.9,1)" font-family="'Liberation Serif', serif" font-size="21.8" fill="#333" text-anchor="end">80000</text>
<text transform="translate(1005.5,418.45) scale(0.9,1)" font-family="'Liberation Serif', serif" font-size="21.8" fill="#333" text-anchor="end">100000</text>
<text transform="translate(1005.5,384.3) scale(0.9,1)" font-family="'Liberation Serif', serif" font-size="21.8" fill="#333" text-anchor="end">120000</text>
<text transform="translate(1166.95,626.6) scale(1.09,1)" font-family="'Liberation Serif', serif" font-size="22.5" fill="#000" stroke="#000" stroke-width="0.35" text-anchor="middle">t: round</text>
<text transform="translate(935.2,473.6) rotate(-90) scale(1.09,1)" font-family="'Liberation Serif', serif" font-size="22.5" fill="#000" stroke="#000" stroke-width="0.35" text-anchor="middle">R(t): regret</text>
<text x="983.4" y="665.5" font-family="'Liberation Sans', sans-serif" font-size="31" fill="#000">(f) <tspan dx="4">dynamic pricing, harsh</tspan></text>
<rect x="1016.5" y="364.4" width="140.4" height="150.6" fill="#fff" stroke="#000" stroke-width="1.1"/>
<path d="M1026.3,376.5h20" stroke="#000000" stroke-width="1.1"/>
<path d="M1023.6,372.9L1030.26,376.5L1023.6,380.1Z" fill="#1a1a1a" stroke="#000000" stroke-width="0.85"/>
<path d="M1043.6,372.9L1050.26,376.5L1043.6,380.1Z" fill="#1a1a1a" stroke="#000000" stroke-width="0.85"/>
<text x="1062.9" y="382" font-family="'Liberation Serif', serif" font-size="16" fill="#000" stroke="#000" stroke-width="0.25">Random</text>
<path d="M1026.3,397.25h20" stroke="#0a800a" stroke-width="1.1"/>
<path d="M1026.3,392.85L1030.7,397.25L1026.3,401.65L1021.9,397.25Z" fill="#005f00" stroke="#001a00" stroke-width="0.85"/>
<path d="M1046.3,392.85L1050.7,397.25L1046.3,401.65L1041.9,397.25Z" fill="#005f00" stroke="#001a00" stroke-width="0.85"/>
<text x="1062.9" y="402.75" font-family="'Liberation Serif', serif" font-size="16" fill="#000" stroke="#000" stroke-width="0.25">FeedExp3</text>
<path d="M1026.3,418h20" stroke="#555555" stroke-width="1.1"/>
<path d="M1023.1,414.8L1029.5,421.2M1023.1,421.2L1029.5,414.8" stroke="#555555" stroke-width="0.9" fill="none"/>
<path d="M1043.1,414.8L1049.5,421.2M1043.1,421.2L1049.5,414.8" stroke="#555555" stroke-width="0.9" fill="none"/>
<text x="1062.9" y="423.5" font-family="'Liberation Serif', serif" font-size="16" fill="#000" stroke="#000" stroke-width="0.25">CBP</text>
<path d="M1026.3,438.75h20" stroke="#0000c8" stroke-width="1.1"/>
<circle cx="1026.3" cy="438.75" r="3.25" fill="#0000e6" stroke="#00003a" stroke-width="0.85"/>
<circle cx="1046.3" cy="438.75" r="3.25" fill="#0000e6" stroke="#00003a" stroke-width="0.85"/>
<text x="1062.9" y="444.25" font-family="'Liberation Serif', serif" font-size="16" fill="#000" stroke="#000" stroke-width="0.25">BPM-LEAST</text>
<path d="M1026.3,459.5h20" stroke="#10c0c0" stroke-width="1.1"/>
<path d="M1026.3,454.6L1028.95,459.5L1026.3,464.4L1023.65,459.5Z" fill="#26b4b4" stroke="#002020" stroke-width="0.85"/>
<path d="M1046.3,454.6L1048.95,459.5L1046.3,464.4L1043.65,459.5Z" fill="#26b4b4" stroke="#002020" stroke-width="0.85"/>
<text x="1062.9" y="465" font-family="'Liberation Serif', serif" font-size="16" fill="#000" stroke="#000" stroke-width="0.25">BPM-TS</text>
<path d="M1026.3,480.25h20" stroke="#b00000" stroke-width="1.1"/>
<rect x="1023.1" y="477.05" width="6.4" height="6.4" fill="#f80000" stroke="#200000" stroke-width="0.85"/>
<rect x="1043.1" y="477.05" width="6.4" height="6.4" fill="#f80000" stroke="#200000" stroke-width="0.85"/>
<text x="1062.9" y="485.75" font-family="'Liberation Serif', serif" font-size="16" fill="#000" stroke="#000" stroke-width="0.25">PM-DMED</text>
<path d="M1024.8,501h23.8" stroke="#f4cc1e" stroke-width="3.4"/>
<text x="1062.9" y="506.5" font-family="'Liberation Serif', serif" font-size="16" fill="#000" stroke="#000" stroke-width="0.25">LB</text>
<g clip-path="url(#clipg)">
<path d="M540.5,933.2L601.85,931L624.86,922L632.53,917.1L640.2,911.7L647.87,903.3L655.54,890.8L663.21,872.9L670.88,849.6L678.55,812L686.22,767L693.89,660" fill="none" stroke="#000000" stroke-width="1.1" stroke-linejoin="round"/>
<path d="M537.8,929.6L544.46,933.2L537.8,936.8Z" fill="#1a1a1a" stroke="#000000" stroke-width="0.85"/>
<path d="M545.47,929.33L552.13,932.93L545.47,936.53Z" fill="#1a1a1a" stroke="#000000" stroke-width="0.85"/>
<path d="M553.14,929.05L559.8,932.65L553.14,936.25Z" fill="#1a1a1a" stroke="#000000" stroke-width="0.85"/>
<path d="M560.81,928.77L567.47,932.38L560.81,935.98Z" fill="#1a1a1a" stroke="#000000" stroke-width="0.85"/>
<path d="M568.48,928.5L575.14,932.1L568.48,935.7Z" fill="#1a1a1a" stroke="#000000" stroke-width="0.85"/>
<path d="M576.15,928.23L582.81,931.83L576.15,935.43Z" fill="#1a1a1a" stroke="#000000" stroke-width="0.85"/>
<path d="M583.82,927.95L590.48,931.55L583.82,935.15Z" fill="#1a1a1a" stroke="#000000" stroke-width="0.85"/>
<path d="M591.48,927.67L598.14,931.27L591.48,934.88Z" fill="#1a1a1a" stroke="#000000" stroke-width="0.85"/>
<path d="M599.15,927.4L605.81,931L599.15,934.6Z" fill="#1a1a1a" stroke="#000000" stroke-width="0.85"/>
<path d="M606.82,924.4L613.48,928L606.82,931.6Z" fill="#1a1a1a" stroke="#000000" stroke-width="0.85"/>
<path d="M614.49,921.4L621.15,925L614.49,928.6Z" fill="#1a1a1a" stroke="#000000" stroke-width="0.85"/>
<path d="M622.16,918.4L628.82,922L622.16,925.6Z" fill="#1a1a1a" stroke="#000000" stroke-width="0.85"/>
<path d="M629.83,913.5L636.49,917.1L629.83,920.7Z" fill="#1a1a1a" stroke="#000000" stroke-width="0.85"/>
<path d="M637.5,908.1L644.16,911.7L637.5,915.3Z" fill="#1a1a1a" stroke="#000000" stroke-width="0.85"/>
<path d="M645.17,899.7L651.83,903.3L645.17,906.9Z" fill="#1a1a1a" stroke="#000000" stroke-width="0.85"/>
<path d="M652.84,887.2L659.5,890.8L652.84,894.4Z" fill="#1a1a1a" stroke="#000000" stroke-width="0.85"/>
<path d="M660.51,869.3L667.17,872.9L660.51,876.5Z" fill="#1a1a1a" stroke="#000000" stroke-width="0.85"/>
<path d="M668.18,846L674.84,849.6L668.18,853.2Z" fill="#1a1a1a" stroke="#000000" stroke-width="0.85"/>
<path d="M675.85,808.4L682.51,812L675.85,815.6Z" fill="#1a1a1a" stroke="#000000" stroke-width="0.85"/>
<path d="M683.52,763.4L690.18,767L683.52,770.6Z" fill="#1a1a1a" stroke="#000000" stroke-width="0.85"/>
<path d="M540.5,933.2L601.85,931L640.2,922L647.87,916L655.54,911.1L663.21,907.5L670.88,901.5L678.55,884.8L686.22,873.3L693.89,849.2L701.55,796L709.22,766L716.89,700" fill="none" stroke="#555555" stroke-width="1.1" stroke-linejoin="round"/>
<path d="M537.3,930L543.7,936.4M537.3,936.4L543.7,930" stroke="#555555" stroke-width="0.9" fill="none"/>
<path d="M544.97,929.73L551.37,936.13M544.97,936.13L551.37,929.73" stroke="#555555" stroke-width="0.9" fill="none"/>
<path d="M552.64,929.45L559.04,935.85M552.64,935.85L559.04,929.45" stroke="#555555" stroke-width="0.9" fill="none"/>
<path d="M560.31,929.17L566.71,935.58M560.31,935.58L566.71,929.17" stroke="#555555" stroke-width="0.9" fill="none"/>
<path d="M567.98,928.9L574.38,935.3M567.98,935.3L574.38,928.9" stroke="#555555" stroke-width="0.9" fill="none"/>
<path d="M575.65,928.62L582.05,935.03M575.65,935.03L582.05,928.62" stroke="#555555" stroke-width="0.9" fill="none"/>
<path d="M583.32,928.35L589.72,934.75M583.32,934.75L589.72,928.35" stroke="#555555" stroke-width="0.9" fill="none"/>
<path d="M590.98,928.07L597.38,934.48M590.98,934.48L597.38,928.07" stroke="#555555" stroke-width="0.9" fill="none"/>
<path d="M598.65,927.8L605.05,934.2M598.65,934.2L605.05,927.8" stroke="#555555" stroke-width="0.9" fill="none"/>
<path d="M606.32,926L612.72,932.4M606.32,932.4L612.72,926" stroke="#555555" stroke-width="0.9" fill="none"/>
<path d="M613.99,924.2L620.39,930.6M613.99,930.6L620.39,924.2" stroke="#555555" stroke-width="0.9" fill="none"/>
<path d="M621.66,922.4L628.06,928.8M621.66,928.8L628.06,922.4" stroke="#555555" stroke-width="0.9" fill="none"/>
<path d="M629.33,920.6L635.73,927M629.33,927L635.73,920.6" stroke="#555555" stroke-width="0.9" fill="none"/>
<path d="M637,918.8L643.4,925.2M637,925.2L643.4,918.8" stroke="#555555" stroke-width="0.9" fill="none"/>
<path d="M644.67,912.8L651.07,919.2M644.67,919.2L651.07,912.8" stroke="#555555" stroke-width="0.9" fill="none"/>
<path d="M652.34,907.9L658.74,914.3M652.34,914.3L658.74,907.9" stroke="#555555" stroke-width="0.9" fill="none"/>
<path d="M660.01,904.3L666.41,910.7M660.01,910.7L666.41,904.3" stroke="#555555" stroke-width="0.9" fill="none"/>
<path d="M667.68,898.3L674.08,904.7M667.68,904.7L674.08,898.3" stroke="#555555" stroke-width="0.9" fill="none"/>
<path d="M675.35,881.6L681.75,888M675.35,888L681.75,881.6" stroke="#555555" stroke-width="0.9" fill="none"/>
<path d="M683.02,870.1L689.42,876.5M683.02,876.5L689.42,870.1" stroke="#555555" stroke-width="0.9" fill="none"/>
<path d="M690.69,846L697.09,852.4M690.69,852.4L697.09,846" stroke="#555555" stroke-width="0.9" fill="none"/>
<path d="M698.35,792.8L704.75,799.2M698.35,799.2L704.75,792.8" stroke="#555555" stroke-width="0.9" fill="none"/>
<path d="M706.02,762.8L712.42,769.2M706.02,769.2L712.42,762.8" stroke="#555555" stroke-width="0.9" fill="none"/>
<path d="M713.69,696.8L720.09,703.2M713.69,703.2L720.09,696.8" stroke="#555555" stroke-width="0.9" fill="none"/>
<path d="M540.5,933.2L624.86,932L632.53,930.8L640.2,929.6L647.87,928.4L655.54,926L663.21,923.6L670.88,919.4L678.55,914.7L686.22,905.8L693.89,895.5L701.55,880.5L709.22,860.1L716.89,835.4L724.56,808.3L732.23,786.1L739.9,766.4L747.57,749.1L755.24,735.2L762.91,721.3L770.58,709.7L778.25,695" fill="none" stroke="#0000c8" stroke-width="1.1" stroke-linejoin="round"/>
<circle cx="540.5" cy="933.2" r="3.25" fill="#0000e6" stroke="#00003a" stroke-width="0.85"/>
<circle cx="548.17" cy="933.09" r="3.25" fill="#0000e6" stroke="#00003a" stroke-width="0.85"/>
<circle cx="555.84" cy="932.98" r="3.25" fill="#0000e6" stroke="#00003a" stroke-width="0.85"/>
<circle cx="563.51" cy="932.87" r="3.25" fill="#0000e6" stroke="#00003a" stroke-width="0.85"/>
<circle cx="571.18" cy="932.76" r="3.25" fill="#0000e6" stroke="#00003a" stroke-width="0.85"/>
<circle cx="578.85" cy="932.65" r="3.25" fill="#0000e6" stroke="#00003a" stroke-width="0.85"/>
<circle cx="586.52" cy="932.55" r="3.25" fill="#0000e6" stroke="#00003a" stroke-width="0.85"/>
<circle cx="594.18" cy="932.44" r="3.25" fill="#0000e6" stroke="#00003a" stroke-width="0.85"/>
<circle cx="601.85" cy="932.33" r="3.25" fill="#0000e6" stroke="#00003a" stroke-width="0.85"/>
<circle cx="609.52" cy="932.22" r="3.25" fill="#0000e6" stroke="#00003a" stroke-width="0.85"/>
<circle cx="617.19" cy="932.11" r="3.25" fill="#0000e6" stroke="#00003a" stroke-width="0.85"/>
<circle cx="624.86" cy="932" r="3.25" fill="#0000e6" stroke="#00003a" stroke-width="0.85"/>
<circle cx="632.53" cy="930.8" r="3.25" fill="#0000e6" stroke="#00003a" stroke-width="0.85"/>
<circle cx="640.2" cy="929.6" r="3.25" fill="#0000e6" stroke="#00003a" stroke-width="0.85"/>
<circle cx="647.87" cy="928.4" r="3.25" fill="#0000e6" stroke="#00003a" stroke-width="0.85"/>
<circle cx="655.54" cy="926" r="3.25" fill="#0000e6" stroke="#00003a" stroke-width="0.85"/>
<circle cx="663.21" cy="923.6" r="3.25" fill="#0000e6" stroke="#00003a" stroke-width="0.85"/>
<circle cx="670.88" cy="919.4" r="3.25" fill="#0000e6" stroke="#00003a" stroke-width="0.85"/>
<circle cx="678.55" cy="914.7" r="3.25" fill="#0000e6" stroke="#00003a" stroke-width="0.85"/>
<circle cx="686.22" cy="905.8" r="3.25" fill="#0000e6" stroke="#00003a" stroke-width="0.85"/>
<circle cx="693.89" cy="895.5" r="3.25" fill="#0000e6" stroke="#00003a" stroke-width="0.85"/>
<circle cx="701.55" cy="880.5" r="3.25" fill="#0000e6" stroke="#00003a" stroke-width="0.85"/>
<circle cx="709.22" cy="860.1" r="3.25" fill="#0000e6" stroke="#00003a" stroke-width="0.85"/>
<circle cx="716.89" cy="835.4" r="3.25" fill="#0000e6" stroke="#00003a" stroke-width="0.85"/>
<circle cx="724.56" cy="808.3" r="3.25" fill="#0000e6" stroke="#00003a" stroke-width="0.85"/>
<circle cx="732.23" cy="786.1" r="3.25" fill="#0000e6" stroke="#00003a" stroke-width="0.85"/>
<circle cx="739.9" cy="766.4" r="3.25" fill="#0000e6" stroke="#00003a" stroke-width="0.85"/>
<circle cx="747.57" cy="749.1" r="3.25" fill="#0000e6" stroke="#00003a" stroke-width="0.85"/>
<circle cx="755.24" cy="735.2" r="3.25" fill="#0000e6" stroke="#00003a" stroke-width="0.85"/>
<circle cx="762.91" cy="721.3" r="3.25" fill="#0000e6" stroke="#00003a" stroke-width="0.85"/>
<circle cx="770.58" cy="709.7" r="3.25" fill="#0000e6" stroke="#00003a" stroke-width="0.85"/>
<path d="M540.5,933.2L640.2,932.5L663.21,930.8L670.88,929.6L678.55,928.4L686.22,926.5L693.89,924L701.55,921L709.22,917.1L716.89,911.8L724.56,906.4L732.23,898.5L739.9,891.6L747.57,884L755.24,874.7L762.91,866.6L770.58,857.4L778.25,848.6L785.92,840.7L793.59,830.8L801.26,819.9L808.92,809.9L816.59,800.7L824.26,789.8L831.93,780.5L839.6,769.4L847.27,759L854.94,747.4L855.4,746.5" fill="none" stroke="#10c0c0" stroke-width="1.1" stroke-linejoin="round"/>
<path d="M540.5,928.3L543.15,933.2L540.5,938.1L537.85,933.2Z" fill="#26b4b4" stroke="#002020" stroke-width="0.85"/>
<path d="M548.17,928.25L550.82,933.15L548.17,938.05L545.52,933.15Z" fill="#26b4b4" stroke="#002020" stroke-width="0.85"/>
<path d="M555.84,928.19L558.49,933.09L555.84,937.99L553.19,933.09Z" fill="#26b4b4" stroke="#002020" stroke-width="0.85"/>
<path d="M563.51,928.14L566.16,933.04L563.51,937.94L560.86,933.04Z" fill="#26b4b4" stroke="#002020" stroke-width="0.85"/>
<path d="M571.18,928.08L573.83,932.98L571.18,937.88L568.53,932.98Z" fill="#26b4b4" stroke="#002020" stroke-width="0.85"/>
<path d="M578.85,928.03L581.5,932.93L578.85,937.83L576.2,932.93Z" fill="#26b4b4" stroke="#002020" stroke-width="0.85"/>
<path d="M586.52,927.98L589.17,932.88L586.52,937.78L583.87,932.88Z" fill="#26b4b4" stroke="#002020" stroke-width="0.85"/>
<path d="M594.18,927.92L596.83,932.82L594.18,937.72L591.53,932.82Z" fill="#26b4b4" stroke="#002020" stroke-width="0.85"/>
<path d="M601.85,927.87L604.5,932.77L601.85,937.67L599.2,932.77Z" fill="#26b4b4" stroke="#002020" stroke-width="0.85"/>
<path d="M609.52,927.82L612.17,932.72L609.52,937.62L606.87,932.72Z" fill="#26b4b4" stroke="#002020" stroke-width="0.85"/>
<path d="M617.19,927.76L619.84,932.66L617.19,937.56L614.54,932.66Z" fill="#26b4b4" stroke="#002020" stroke-width="0.85"/>
<path d="M624.86,927.71L627.51,932.61L624.86,937.51L622.21,932.61Z" fill="#26b4b4" stroke="#002020" stroke-width="0.85"/>
<path d="M632.53,927.65L635.18,932.55L632.53,937.45L629.88,932.55Z" fill="#26b4b4" stroke="#002020" stroke-width="0.85"/>
<path d="M640.2,927.6L642.85,932.5L640.2,937.4L637.55,932.5Z" fill="#26b4b4" stroke="#002020" stroke-width="0.85"/>
<path d="M647.87,927.03L650.52,931.93L647.87,936.83L645.22,931.93Z" fill="#26b4b4" stroke="#002020" stroke-width="0.85"/>
<path d="M655.54,926.47L658.19,931.37L655.54,936.27L652.89,931.37Z" fill="#26b4b4" stroke="#002020" stroke-width="0.85"/>
<path d="M663.21,925.9L665.86,930.8L663.21,935.7L660.56,930.8Z" fill="#26b4b4" stroke="#002020" stroke-width="0.85"/>
<path d="M670.88,924.7L673.53,929.6L670.88,934.5L668.23,929.6Z" fill="#26b4b4" stroke="#002020" stroke-width="0.85"/>
<path d="M678.55,923.5L681.2,928.4L678.55,933.3L675.9,928.4Z" fill="#26b4b4" stroke="#002020" stroke-width="0.85"/>
<path d="M686.22,921.6L688.87,926.5L686.22,931.4L683.57,926.5Z" fill="#26b4b4" stroke="#002020" stroke-width="0.85"/>
<path d="M693.89,919.1L696.54,924L693.89,928.9L691.24,924Z" fill="#26b4b4" stroke="#002020" stroke-width="0.85"/>
<path d="M701.55,916.1L704.2,921L701.55,925.9L698.9,921Z" fill="#26b4b4" stroke="#002020" stroke-width="0.85"/>
<path d="M709.22,912.2L711.87,917.1L709.22,922L706.57,917.1Z" fill="#26b4b4" stroke="#002020" stroke-width="0.85"/>
<path d="M716.89,906.9L719.54,911.8L716.89,916.7L714.24,911.8Z" fill="#26b4b4" stroke="#002020" stroke-width="0.85"/>
<path d="M724.56,901.5L727.21,906.4L724.56,911.3L721.91,906.4Z" fill="#26b4b4" stroke="#002020" stroke-width="0.85"/>
<path d="M732.23,893.6L734.88,898.5L732.23,903.4L729.58,898.5Z" fill="#26b4b4" stroke="#002020" stroke-width="0.85"/>
<path d="M739.9,886.7L742.55,891.6L739.9,896.5L737.25,891.6Z" fill="#26b4b4" stroke="#002020" stroke-width="0.85"/>
<path d="M747.57,879.1L750.22,884L747.57,888.9L744.92,884Z" fill="#26b4b4" stroke="#002020" stroke-width="0.85"/>
<path d="M755.24,869.8L757.89,874.7L755.24,879.6L752.59,874.7Z" fill="#26b4b4" stroke="#002020" stroke-width="0.85"/>
<path d="M762.91,861.7L765.56,866.6L762.91,871.5L760.26,866.6Z" fill="#26b4b4" stroke="#002020" stroke-width="0.85"/>
<path d="M770.58,852.5L773.23,857.4L770.58,862.3L767.93,857.4Z" fill="#26b4b4" stroke="#002020" stroke-width="0.85"/>
<path d="M778.25,843.7L780.9,848.6L778.25,853.5L775.6,848.6Z" fill="#26b4b4" stroke="#002020" stroke-width="0.85"/>
<path d="M785.92,835.8L788.57,840.7L785.92,845.6L783.27,840.7Z" fill="#26b4b4" stroke="#002020" stroke-width="0.85"/>
<path d="M793.59,825.9L796.24,830.8L793.59,835.7L790.94,830.8Z" fill="#26b4b4" stroke="#002020" stroke-width="0.85"/>
<path d="M801.26,815L803.91,819.9L801.26,824.8L798.61,819.9Z" fill="#26b4b4" stroke="#002020" stroke-width="0.85"/>
<path d="M808.92,805L811.57,809.9L808.92,814.8L806.27,809.9Z" fill="#26b4b4" stroke="#002020" stroke-width="0.85"/>
<path d="M816.59,795.8L819.24,800.7L816.59,805.6L813.94,800.7Z" fill="#26b4b4" stroke="#002020" stroke-width="0.85"/>
<path d="M824.26,784.9L826.91,789.8L824.26,794.7L821.61,789.8Z" fill="#26b4b4" stroke="#002020" stroke-width="0.85"/>
<path d="M831.93,775.6L834.58,780.5L831.93,785.4L829.28,780.5Z" fill="#26b4b4" stroke="#002020" stroke-width="0.85"/>
<path d="M839.6,764.5L842.25,769.4L839.6,774.3L836.95,769.4Z" fill="#26b4b4" stroke="#002020" stroke-width="0.85"/>
<path d="M847.27,754.1L849.92,759L847.27,763.9L844.62,759Z" fill="#26b4b4" stroke="#002020" stroke-width="0.85"/>
<path d="M854.94,742.5L857.59,747.4L854.94,752.3L852.29,747.4Z" fill="#26b4b4" stroke="#002020" stroke-width="0.85"/>
<path d="M540.5,933.2L590,931.5L594.18,930.8L601.85,930.2L609.52,929L617.19,927.8L624.86,926.6L632.53,924.2L640.2,922.4L647.87,921.2L655.54,918.9L663.21,916.5L670.88,912.9L678.55,910.5L686.22,907.6L693.89,906L701.55,904.1L709.22,903.2L716.89,901.3L724.56,900.2L732.23,898.6L739.9,897.9L747.57,896.7L755.24,894.9L762.91,893.2L770.58,891.6L778.25,890.2L785.92,889.3L793.59,887.9L801.26,886.3L808.92,885.1L816.59,884L824.26,883.3L831.93,881.7L839.6,880.5L847.27,878.7L854.94,877.7L855.4,877.5" fill="none" stroke="#b00000" stroke-width="1.1" stroke-linejoin="round"/>
<rect x="537.3" y="930" width="6.4" height="6.4" fill="#f80000" stroke="#200000" stroke-width="0.85"/>
<rect x="544.97" y="929.74" width="6.4" height="6.4" fill="#f80000" stroke="#200000" stroke-width="0.85"/>
<rect x="552.64" y="929.47" width="6.4" height="6.4" fill="#f80000" stroke="#200000" stroke-width="0.85"/>
<rect x="560.31" y="929.21" width="6.4" height="6.4" fill="#f80000" stroke="#200000" stroke-width="0.85"/>
<rect x="567.98" y="928.95" width="6.4" height="6.4" fill="#f80000" stroke="#200000" stroke-width="0.85"/>
<rect x="575.65" y="928.68" width="6.4" height="6.4" fill="#f80000" stroke="#200000" stroke-width="0.85"/>
<rect x="583.32" y="928.42" width="6.4" height="6.4" fill="#f80000" stroke="#200000" stroke-width="0.85"/>
<rect x="590.98" y="927.6" width="6.4" height="6.4" fill="#f80000" stroke="#200000" stroke-width="0.85"/>
<rect x="598.65" y="927" width="6.4" height="6.4" fill="#f80000" stroke="#200000" stroke-width="0.85"/>
<rect x="606.32" y="925.8" width="6.4" height="6.4" fill="#f80000" stroke="#200000" stroke-width="0.85"/>
<rect x="613.99" y="924.6" width="6.4" height="6.4" fill="#f80000" stroke="#200000" stroke-width="0.85"/>
<rect x="621.66" y="923.4" width="6.4" height="6.4" fill="#f80000" stroke="#200000" stroke-width="0.85"/>
<rect x="629.33" y="921" width="6.4" height="6.4" fill="#f80000" stroke="#200000" stroke-width="0.85"/>
<rect x="637" y="919.2" width="6.4" height="6.4" fill="#f80000" stroke="#200000" stroke-width="0.85"/>
<rect x="644.67" y="918" width="6.4" height="6.4" fill="#f80000" stroke="#200000" stroke-width="0.85"/>
<rect x="652.34" y="915.7" width="6.4" height="6.4" fill="#f80000" stroke="#200000" stroke-width="0.85"/>
<rect x="660.01" y="913.3" width="6.4" height="6.4" fill="#f80000" stroke="#200000" stroke-width="0.85"/>
<rect x="667.68" y="909.7" width="6.4" height="6.4" fill="#f80000" stroke="#200000" stroke-width="0.85"/>
<rect x="675.35" y="907.3" width="6.4" height="6.4" fill="#f80000" stroke="#200000" stroke-width="0.85"/>
<rect x="683.02" y="904.4" width="6.4" height="6.4" fill="#f80000" stroke="#200000" stroke-width="0.85"/>
<rect x="690.69" y="902.8" width="6.4" height="6.4" fill="#f80000" stroke="#200000" stroke-width="0.85"/>
<rect x="698.35" y="900.9" width="6.4" height="6.4" fill="#f80000" stroke="#200000" stroke-width="0.85"/>
<rect x="706.02" y="900" width="6.4" height="6.4" fill="#f80000" stroke="#200000" stroke-width="0.85"/>
<rect x="713.69" y="898.1" width="6.4" height="6.4" fill="#f80000" stroke="#200000" stroke-width="0.85"/>
<rect x="721.36" y="897" width="6.4" height="6.4" fill="#f80000" stroke="#200000" stroke-width="0.85"/>
<rect x="729.03" y="895.4" width="6.4" height="6.4" fill="#f80000" stroke="#200000" stroke-width="0.85"/>
<rect x="736.7" y="894.7" width="6.4" height="6.4" fill="#f80000" stroke="#200000" stroke-width="0.85"/>
<rect x="744.37" y="893.5" width="6.4" height="6.4" fill="#f80000" stroke="#200000" stroke-width="0.85"/>
<rect x="752.04" y="891.7" width="6.4" height="6.4" fill="#f80000" stroke="#200000" stroke-width="0.85"/>
<rect x="759.71" y="890" width="6.4" height="6.4" fill="#f80000" stroke="#200000" stroke-width="0.85"/>
<rect x="767.38" y="888.4" width="6.4" height="6.4" fill="#f80000" stroke="#200000" stroke-width="0.85"/>
<rect x="775.05" y="887" width="6.4" height="6.4" fill="#f80000" stroke="#200000" stroke-width="0.85"/>
<rect x="782.72" y="886.1" width="6.4" height="6.4" fill="#f80000" stroke="#200000" stroke-width="0.85"/>
<rect x="790.39" y="884.7" width="6.4" height="6.4" fill="#f80000" stroke="#200000" stroke-width="0.85"/>
<rect x="798.06" y="883.1" width="6.4" height="6.4" fill="#f80000" stroke="#200000" stroke-width="0.85"/>
<rect x="805.72" y="881.9" width="6.4" height="6.4" fill="#f80000" stroke="#200000" stroke-width="0.85"/>
<rect x="813.39" y="880.8" width="6.4" height="6.4" fill="#f80000" stroke="#200000" stroke-width="0.85"/>
<rect x="821.06" y="880.1" width="6.4" height="6.4" fill="#f80000" stroke="#200000" stroke-width="0.85"/>
<rect x="828.73" y="878.5" width="6.4" height="6.4" fill="#f80000" stroke="#200000" stroke-width="0.85"/>
<rect x="836.4" y="877.3" width="6.4" height="6.4" fill="#f80000" stroke="#200000" stroke-width="0.85"/>
<rect x="844.07" y="875.5" width="6.4" height="6.4" fill="#f80000" stroke="#200000" stroke-width="0.85"/>
<rect x="851.74" y="874.5" width="6.4" height="6.4" fill="#f80000" stroke="#200000" stroke-width="0.85"/>
<path d="M540.5,933.2L621.6,920.6L698,909.3L747.57,901.3L855.4,884.8" fill="none" stroke="#f4cc1e" stroke-width="3.4" stroke-linejoin="round"/>
</g>
<rect x="540.5" y="708.4" width="314.9" height="224.75" fill="none" stroke="#000" stroke-width="1.3"/>
<path d="M556.3,933.15v-2.3M556.3,708.4v2.3M565.54,933.15v-2.3M565.54,708.4v2.3M572.1,933.15v-2.3M572.1,708.4v2.3M577.18,933.15v-2.3M577.18,708.4v2.3M581.34,933.15v-2.3M581.34,708.4v2.3M584.85,933.15v-2.3M584.85,708.4v2.3M587.9,933.15v-2.3M587.9,708.4v2.3M590.58,933.15v-2.3M590.58,708.4v2.3M592.98,933.15v-4.5M592.98,708.4v4.5M608.78,933.15v-2.3M608.78,708.4v2.3M618.02,933.15v-2.3M618.02,708.4v2.3M624.58,933.15v-2.3M624.58,708.4v2.3M629.67,933.15v-2.3M629.67,708.4v2.3M633.82,933.15v-2.3M633.82,708.4v2.3M637.34,933.15v-2.3M637.34,708.4v2.3M640.38,933.15v-2.3M640.38,708.4v2.3M643.07,933.15v-2.3M643.07,708.4v2.3M645.47,933.15v-4.5M645.47,708.4v4.5M661.27,933.15v-2.3M661.27,708.4v2.3M670.51,933.15v-2.3M670.51,708.4v2.3M677.06,933.15v-2.3M677.06,708.4v2.3M682.15,933.15v-2.3M682.15,708.4v2.3M686.31,933.15v-2.3M686.31,708.4v2.3M689.82,933.15v-2.3M689.82,708.4v2.3M692.86,933.15v-2.3M692.86,708.4v2.3M695.55,933.15v-2.3M695.55,708.4v2.3M697.95,933.15v-4.5M697.95,708.4v4.5M713.75,933.15v-2.3M713.75,708.4v2.3M722.99,933.15v-2.3M722.99,708.4v2.3M729.55,933.15v-2.3M729.55,708.4v2.3M734.63,933.15v-2.3M734.63,708.4v2.3M738.79,933.15v-2.3M738.79,708.4v2.3M742.3,933.15v-2.3M742.3,708.4v2.3M745.35,933.15v-2.3M745.35,708.4v2.3M748.03,933.15v-2.3M748.03,708.4v2.3M750.43,933.15v-4.5M750.43,708.4v4.5M766.23,933.15v-2.3M766.23,708.4v2.3M775.47,933.15v-2.3M775.47,708.4v2.3M782.03,933.15v-2.3M782.03,708.4v2.3M787.12,933.15v-2.3M787.12,708.4v2.3M791.27,933.15v-2.3M791.27,708.4v2.3M794.79,933.15v-2.3M794.79,708.4v2.3M797.83,933.15v-2.3M797.83,708.4v2.3M800.52,933.15v-2.3M800.52,708.4v2.3M802.92,933.15v-4.5M802.92,708.4v4.5M818.72,933.15v-2.3M818.72,708.4v2.3M827.96,933.15v-2.3M827.96,708.4v2.3M834.51,933.15v-2.3M834.51,708.4v2.3M839.6,933.15v-2.3M839.6,708.4v2.3M843.76,933.15v-2.3M843.76,708.4v2.3M847.27,933.15v-2.3M847.27,708.4v2.3M850.31,933.15v-2.3M850.31,708.4v2.3M853,933.15v-2.3M853,708.4v2.3M540.5,887.44h4.5M855.4,887.44h-4.5M540.5,841.72h4.5M855.4,841.72h-4.5M540.5,796.01h4.5M855.4,796.01h-4.5M540.5,750.3h4.5M855.4,750.3h-4.5" stroke="#000" stroke-width="1.05" fill="none"/>
<text transform="translate(541,952.75) scale(0.9,1)" font-family="'Liberation Serif', serif" font-size="21.8" fill="#333" text-anchor="middle">10<tspan dy="-7.3" font-size="15">0</tspan></text>
<text transform="translate(593.48,952.75) scale(0.9,1)" font-family="'Liberation Serif', serif" font-size="21.8" fill="#333" text-anchor="middle">10<tspan dy="-7.3" font-size="15">1</tspan></text>
<text transform="translate(645.97,952.75) scale(0.9,1)" font-family="'Liberation Serif', serif" font-size="21.8" fill="#333" text-anchor="middle">10<tspan dy="-7.3" font-size="15">2</tspan></text>
<text transform="translate(698.45,952.75) scale(0.9,1)" font-family="'Liberation Serif', serif" font-size="21.8" fill="#333" text-anchor="middle">10<tspan dy="-7.3" font-size="15">3</tspan></text>
<text transform="translate(750.93,952.75) scale(0.9,1)" font-family="'Liberation Serif', serif" font-size="21.8" fill="#333" text-anchor="middle">10<tspan dy="-7.3" font-size="15">4</tspan></text>
<text transform="translate(803.42,952.75) scale(0.9,1)" font-family="'Liberation Serif', serif" font-size="21.8" fill="#333" text-anchor="middle">10<tspan dy="-7.3" font-size="15">5</tspan></text>
<text transform="translate(855.9,952.75) scale(0.9,1)" font-family="'Liberation Serif', serif" font-size="21.8" fill="#333" text-anchor="middle">10<tspan dy="-7.3" font-size="15">6</tspan></text>
<text transform="translate(536.5,940.15) scale(0.9,1)" font-family="'Liberation Serif', serif" font-size="21.8" fill="#333" text-anchor="end">0</text>
<text transform="translate(536.5,894.44) scale(0.9,1)" font-family="'Liberation Serif', serif" font-size="21.8" fill="#333" text-anchor="end">500</text>
<text transform="translate(536.5,848.72) scale(0.9,1)" font-family="'Liberation Serif', serif" font-size="21.8" fill="#333" text-anchor="end">1000</text>
<text transform="translate(536.5,803.01) scale(0.9,1)" font-family="'Liberation Serif', serif" font-size="21.8" fill="#333" text-anchor="end">1500</text>
<text transform="translate(536.5,757.3) scale(0.9,1)" font-family="'Liberation Serif', serif" font-size="21.8" fill="#333" text-anchor="end">2000</text>
<text transform="translate(697.95,977.55) scale(1.09,1)" font-family="'Liberation Serif', serif" font-size="22.5" fill="#000" stroke="#000" stroke-width="0.35" text-anchor="middle">t: round</text>
<text transform="translate(485,824.57) rotate(-90) scale(1.09,1)" font-family="'Liberation Serif', serif" font-size="22.5" fill="#000" stroke="#000" stroke-width="0.35" text-anchor="middle">R(t): regret</text>
<text x="590.4" y="1016.45" font-family="'Liberation Sans', sans-serif" font-size="31" fill="#000">(g) <tspan dx="4">four-states</tspan></text>
<rect x="547.5" y="716.4" width="140.4" height="129" fill="#fff" stroke="#000" stroke-width="1.1"/>
<path d="M557.3,728.5h20" stroke="#000000" stroke-width="1.1"/>
<path d="M554.6,724.9L561.26,728.5L554.6,732.1Z" fill="#1a1a1a" stroke="#000000" stroke-width="0.85"/>
<path d="M574.6,724.9L581.26,728.5L574.6,732.1Z" fill="#1a1a1a" stroke="#000000" stroke-width="0.85"/>
<text x="593.9" y="734" font-family="'Liberation Serif', serif" font-size="16" fill="#000" stroke="#000" stroke-width="0.25">Random</text>
<path d="M557.3,749.25h20" stroke="#555555" stroke-width="1.1"/>
<path d="M554.1,746.05L560.5,752.45M554.1,752.45L560.5,746.05" stroke="#555555" stroke-width="0.9" fill="none"/>
<path d="M574.1,746.05L580.5,752.45M574.1,752.45L580.5,746.05" stroke="#555555" stroke-width="0.9" fill="none"/>
<text x="593.9" y="754.75" font-family="'Liberation Serif', serif" font-size="16" fill="#000" stroke="#000" stroke-width="0.25">CBP</text>
<path d="M557.3,770h20" stroke="#0000c8" stroke-width="1.1"/>
<circle cx="557.3" cy="770" r="3.25" fill="#0000e6" stroke="#00003a" stroke-width="0.85"/>
<circle cx="577.3" cy="770" r="3.25" fill="#0000e6" stroke="#00003a" stroke-width="0.85"/>
<text x="593.9" y="775.5" font-family="'Liberation Serif', serif" font-size="16" fill="#000" stroke="#000" stroke-width="0.25">BPM-LEAST</text>
<path d="M557.3,790.75h20" stroke="#10c0c0" stroke-width="1.1"/>
<path d="M557.3,785.85L559.95,790.75L557.3,795.65L554.65,790.75Z" fill="#26b4b4" stroke="#002020" stroke-width="0.85"/>
<path d="M577.3,785.85L579.95,790.75L577.3,795.65L574.65,790.75Z" fill="#26b4b4" stroke="#002020" stroke-width="0.85"/>
<text x="593.9" y="796.25" font-family="'Liberation Serif', serif" font-size="16" fill="#000" stroke="#000" stroke-width="0.25">BPM-TS</text>
<path d="M557.3,811.5h20" stroke="#b00000" stroke-width="1.1"/>
<rect x="554.1" y="808.3" width="6.4" height="6.4" fill="#f80000" stroke="#200000" stroke-width="0.85"/>
<rect x="574.1" y="808.3" width="6.4" height="6.4" fill="#f80000" stroke="#200000" stroke-width="0.85"/>
<text x="593.9" y="817" font-family="'Liberation Serif', serif" font-size="16" fill="#000" stroke="#000" stroke-width="0.25">PM-DMED</text>
<path d="M555.8,832.25h23.8" stroke="#f4cc1e" stroke-width="3.4"/>
<text x="593.9" y="837.75" font-family="'Liberation Serif', serif" font-size="16" fill="#000" stroke="#000" stroke-width="0.25">LB</text>
</svg>
</body></html>
